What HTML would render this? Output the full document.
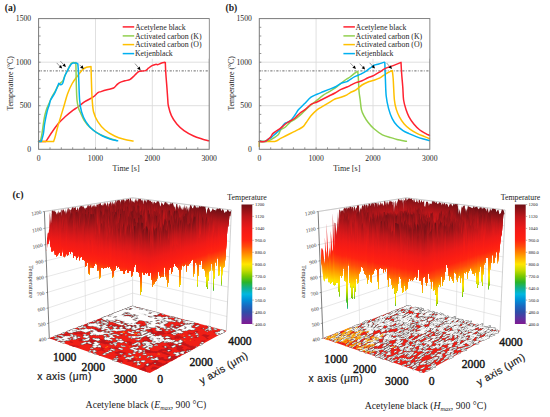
<!DOCTYPE html>
<html><head><meta charset="utf-8"><style>
html,body{margin:0;padding:0;background:#fff;}
svg{display:block;}
</style></head><body>
<svg xmlns="http://www.w3.org/2000/svg" width="550" height="417" viewBox="0 0 550 417" font-family='"Liberation Serif", serif'>
<rect width="550" height="417" fill="#fff"/>
<defs><linearGradient id="tpl" gradientUnits="userSpaceOnUse"><stop offset="0.000" stop-color="#801a92"/><stop offset="0.050" stop-color="#5a35a0"/><stop offset="0.100" stop-color="#2e4ea8"/><stop offset="0.150" stop-color="#1a68c0"/><stop offset="0.200" stop-color="#0090d8"/><stop offset="0.250" stop-color="#00b8e0"/><stop offset="0.300" stop-color="#10b090"/><stop offset="0.350" stop-color="#2ab428"/><stop offset="0.400" stop-color="#78c800"/><stop offset="0.450" stop-color="#c8dc00"/><stop offset="0.500" stop-color="#ffe600"/><stop offset="0.550" stop-color="#ffb300"/><stop offset="0.600" stop-color="#ff7f00"/><stop offset="0.650" stop-color="#ff4a0a"/><stop offset="0.700" stop-color="#ff2410"/><stop offset="0.750" stop-color="#fa1c14"/><stop offset="0.800" stop-color="#ee1a18"/><stop offset="0.850" stop-color="#d8181a"/><stop offset="0.900" stop-color="#bc161a"/><stop offset="0.950" stop-color="#961318"/><stop offset="1.000" stop-color="#6e1016"/></linearGradient><path id="wrc" d="M1215 3633l-9-4 7-3 9 3zM1160 3614l-36-13 7-3 36 12zM959 3544l-18-6 7-3 18 6zM904 3525l-18-6 7-3 19 6zM630 3431l-27-10 7-3 27 10zM1167 3610l-18-6 7-4 19 7zM939 3531l-9-3 7-3 9 3zM637 3428l-18-7 8-3 18 7zM583 3409l-19-7 8-3 18 7zM1165 3603l-9-3 8-3 9 3zM901 3512l-9-3 7-3 9 3zM645 3425l-18-7 7-3 18 7zM590 3406l-18-7 7-3 19 7zM1154 3594l-18-7 7-3 19 6zM944 3522l-18-7 8-3 18 6zM908 3509l-9-3 7-3 9 3zM616 3409l-37-13 8-3 36 13zM552 3387l-9-3 7-3 10 3zM1171 3593l-19-6 8-3 18 6zM1043 3550l-18-7 7-3 18 6zM952 3518l-18-6 7-3 18 6zM633 3409l-46-16 8-2 45 15zM569 3387l-19-6 8-3 18 6zM1178 3590l-9-3 7-4 9 3zM1050 3546l-18-6 7-3 19 6zM959 3515l-36-12 7-4 36 13zM649 3409l-18-6 7-3 19 6zM613 3397l-55-19 8-3 54 19zM1376 3652l-9-4 7-3 9 3zM1058 3543l-19-6 8-4 18 6zM948 3506l-9-4 7-3 10 3zM657 3406l-19-6 8-3 18 6zM620 3394l-45-16 7-3 46 16zM547 3369l-9-3 8-3 9 3zM1393 3651l-19-6 7-4 19 6zM1165 3573l-9-3 7-3 9 3zM910 3487l-9-3 7-4 9 3zM673 3406l-63-21 7-3 64 21zM555 3366l-9-3 7-3 10 3zM1400 3647l-28-9 7-4 28 10zM1172 3570l-9-3 7-4 9 4zM1063 3533l-9-3 7-4 9 4zM926 3487l-18-7 8-3 18 6zM690 3406l-73-24 8-3 72 24zM563 3363l-10-3 8-3 9 3zM1388 3637l-18-6 7-3 18 6zM1343 3622l-9-3 7-4 9 3zM1079 3533l-18-7 7-3 19 6zM825 3446l-19-6 8-3 18 6zM688 3400l-63-21 7-3 64 21zM1359 3621l-18-6 7-3 18 6zM1268 3591l-18-6 7-4 18 6zM1087 3529l-19-6 8-3 18 6zM832 3443l-18-6 7-3 19 6zM678 3391l-55-18 8-3 54 18zM1475 3655l-18-7 7-3 18 6zM1384 3624l-18-6 7-4 18 6zM1303 3596l-46-15 7-4 46 16zM948 3477l-27-9 8-4 27 10zM840 3440l-19-6 8-3 18 6zM703 3394l-9-3 8-3 9 3zM667 3382l-91-31 8-3 90 31zM1482 3651l-18-6 7-4 18 6zM1391 3620l-18-6 7-4 19 7zM1310 3593l-46-16 8-3 45 15zM1092 3519l-9-3 7-3 9 3zM956 3474l-27-10 7-3 27 9zM847 3437l-18-6 7-3 18 6zM711 3391l-9-3 7-3 9 3zM674 3379l-36-12 8-3 36 12zM629 3363l-27-9 7-3 28 10zM1480 3644l-9-3 7-4 9 3zM1308 3586l-36-12 7-4 36 13zM1253 3568l-18-6 7-4 19 6zM1108 3519l-27-9 7-3 28 9zM963 3470l-27-9 7-3 28 9zM854 3434l-18-6 8-4 18 7zM736 3394l-9-3 8-3 9 3zM691 3379l-45-15 7-3 46 15zM1433 3622l-27-9 7-4 27 9zM1306 3579l-9-3 7-3 9 3zM1252 3561l-10-3 8-3 9 3zM1116 3516l-19-6 8-4 18 6zM989 3473l-64-21 8-3 63 21zM862 3431l-18-7 7-3 18 6zM753 3394l-18-6 7-3 18 6zM699 3376l-37-12 8-3 36 12zM1440 3618l-27-9 7-3 27 9zM1322 3579l-18-6 7-4 18 6zM1213 3543l-18-6 7-4 19 6zM1005 3473l-27-9 7-4 27 10zM960 3458l-37-12 8-4 36 12zM905 3439l-36-12 8-3 36 12zM760 3391l-36-12 8-3 36 12zM697 3370l-18-6 7-3 19 6zM1447 3615l-18-6 7-4 18 6zM1329 3575l-18-6 7-3 18 6zM1221 3539l-9-3 7-3 9 3zM1003 3467l-18-7 8-3 18 6zM967 3454l-36-12 7-3 36 12zM913 3436l-36-12 7-3 36 12zM768 3388l-36-12 7-3 36 12zM705 3367l-10-3 8-3 9 3zM623 3340l-9-4 8-2 9 3zM1336 3572l-18-6 7-4 18 6zM1137 3505l-36-12 7-3 37 12zM1002 3460l-64-21 8-3 63 21zM893 3424l-9-3 7-3 9 3zM848 3409l-27-9 7-3 27 9zM757 3379l-18-6 8-3 18 6zM721 3367l-18-6 8-3 18 6zM631 3337l-9-3 7-3 9 3zM1551 3637l-9-3 7-3 9 3zM1145 3502l-37-12 8-3 36 12zM982 3448l-36-12 7-3 36 12zM855 3406l-27-9 8-3 27 9zM765 3376l-18-6 7-3 18 6zM729 3364l-18-6 7-3 18 6zM638 3334l-9-3 8-3 9 3zM1396 3580l-9-3 7-4 9 3zM1305 3550l-27-9 7-4 28 9zM980 3442l-45-15 7-4 45 15zM872 3406l-27-9 7-3 27 9zM790 3379l-18-6 8-3 18 6zM754 3367l-18-6 8-3 18 6zM727 3358l-27-9 8-3 27 9zM646 3331l-9-3 7-3 9 3zM1403 3576l-9-3 7-4 9 3zM1313 3546l-28-9 8-3 27 9zM987 3438l-45-15 8-3 45 15zM879 3403l-27-9 7-4 28 9zM798 3376l-18-6 7-3 18 6zM762 3364l-18-6 7-3 18 6zM726 3352l-18-6 7-3 18 6zM1401 3569l-9-3 7-3 9 3zM995 3435l-9-3 7-3 9 3zM968 3426l-18-6 7-3 18 6zM887 3399l-28-9 8-3 27 9zM885 3393l-18-6 7-3 18 6zM696 3331l-19-6 8-3 18 6zM1532 3601l-27-9 7-4 27 9zM1343 3539l-18-6 7-4 18 6zM1217 3497l-36-12 7-3 36 12zM892 3390l-18-6 8-3 18 6zM865 3381l-36-12 8-3 36 12zM712 3331l-45-15 8-3 45 15zM1539 3597l-27-9 7-3 27 8zM1476 3576l-9-3 7-3 9 3zM1350 3535l-18-6 7-3 18 5zM1224 3494l-36-12 7-4 36 12zM891 3384l-9-3 7-3 9 3zM873 3378l-45-15 7-3 45 15zM720 3328l-45-15 7-3 45 15zM1564 3599l-27-9 7-3 27 9zM1483 3573l-9-3 7-4 9 3zM979 3407l-54-17 8-3 54 17zM880 3375l-45-15 8-3 45 15zM727 3325l-36-12 8-3 36 12zM1580 3599l-36-12 7-4 36 12zM1490 3569l-9-3 8-4 9 3zM1122 3448l-27-8 7-4 27 9zM987 3404l-63-20 7-3 63 20zM879 3369l-36-12 7-3 36 12zM726 3319l-27-9 7-3 27 9zM1569 3589l-18-6 8-4 17 6zM1516 3571l-18-6 7-3 18 6zM1453 3551l-27-9 7-4 27 9zM1354 3518l-18-5 7-4 18 6zM1156 3454l-18-6 7-3 18 6zM994 3401l-36-12 7-3 36 12zM886 3366l-18-6 8-3 18 6zM850 3354l-18-6 8-3 18 6zM742 3319l-18-6 8-3 18 6zM715 3310l-18-6 8-3 18 6zM1576 3585l-17-6 7-3 18 5zM1523 3568l-18-6 7-4 18 6zM1460 3547l-18-6 7-3 18 6zM1397 3527l-18-6 7-4 18 6zM1361 3515l-27-9 7-3 27 8zM1163 3451l-18-6 7-4 18 6zM992 3395l-18-6 8-3 18 6zM885 3360l-9-3 7-3 9 3zM858 3351l-18-6 7-3 18 6zM759 3319l-27-9 7-3 27 9zM723 3307l-18-6 7-3 18 6zM1404 3523l-18-6 7-3 18 6zM1368 3511l-72-23 7-3 72 23zM1233 3468l-27-9 8-3 27 8zM1143 3438l-17-5 7-4 18 6zM739 3307l-27-9 8-3 27 9zM1438 3528l-9-3 7-3 9 3zM1411 3520l-18-6 7-4 18 6zM1375 3508l-72-23 8-4 71 23zM1250 3467l-18-6 7-3 18 6zM1160 3438l-27-9 7-3 27 9zM774 3313l-9-3 7-3 9 3zM756 3307l-36-12 8-2 35 11zM1445 3525l-9-3 7-4 9 3zM1418 3516l-36-12 7-3 36 11zM1329 3487l-18-6 7-3 18 5zM1158 3432l-9-3 7-3 9 3zM1059 3400l-17-6 7-3 18 6zM916 3353l-18-5 7-3 18 5zM790 3313l-62-20 7-3 63 20zM1416 3510l-27-9 8-4 27 9zM1336 3483l-18-5 7-4 18 6zM1165 3429l-9-3 8-4 9 3zM1085 3402l-45-14 7-3 45 14zM923 3350l-26-8 7-3 27 8zM798 3310l-63-20 8-3 62 20zM1441 3512l-9-3 8-4 9 3zM1361 3486l-36-12 7-3 36 11zM1119 3408l-81-26 8-3 80 26zM931 3347l-27-8 7-3 27 8zM859 3324l-71-23 7-3 72 23zM1690 3586l-9-3 7-4 9 3zM1368 3482l-27-8 7-4 27 9zM1180 3422l-9-3 7-3 9 3zM1117 3402l-71-23 7-3 72 22zM965 3353l-9-3 8-3 9 3zM947 3347l-44-14 7-3 45 14zM867 3321l-72-23 8-3 71 23zM1697 3582l-18-6 7-3 18 5zM1375 3479l-18-6 7-3 18 5zM1214 3427l-45-14 8-4 44 15zM1089 3387l-27-9 7-3 27 9zM1053 3376l-9-3 8-4 9 3zM982 3353l-81-26 8-3 80 25zM874 3318l-62-20 7-3 63 20zM1704 3578l-18-5 7-4 18 6zM1382 3475l-18-5 8-4 18 6zM1221 3424l-44-15 7-3 45 14zM1096 3384l-27-9 8-3 27 9zM1061 3372l-9-3 7-3 9 3zM989 3349l-89-28 7-3 89 28zM882 3315l-63-20 8-3 62 20zM1702 3572l-9-3 7-4 9 3zM1327 3452l-9-3 7-3 9 2zM1264 3432l-17-6 7-3 18 5zM1229 3420l-36-11 7-3 36 11zM1175 3403l-18-5 8-4 17 6zM1104 3381l-18-6 7-3 18 5zM1050 3363l-18-5 8-3 17 5zM1005 3349l-80-26 7-3 81 26zM889 3312l-53-17 7-3 54 17zM800 3284l-27-9 8-3 26 9zM1495 3500l-45-15 7-3 45 14zM1343 3451l-18-5 8-4 17 6zM1236 3417l-27-8 8-4 26 9zM1182 3400l-26-8 7-4 27 9zM1111 3377l-18-5 8-4 17 6zM1057 3360l-17-5 7-4 18 6zM1022 3349l-90-29 8-3 89 29zM897 3309l-54-17 8-3 53 17zM807 3281l-26-9 7-3 27 9zM1484 3490l-27-8 8-4 26 9zM1440 3476l-18-6 7-3 18 6zM1350 3448l-17-6 7-3 18 5zM1208 3402l-18-5 7-4 18 6zM1172 3391l-9-3 7-3 9 3zM1136 3380l-44-14 7-4 45 14zM1029 3346l-107-34 8-3 107 34zM904 3306l-53-17 7-3 54 17zM815 3278l-18-6 8-3 18 6zM1482 3484l-17-6 7-3 18 5zM1447 3473l-18-6 7-4 18 6zM1393 3456l-18-6 8-3 17 5zM1358 3444l-18-5 7-4 18 6zM1215 3399l-18-6 7-3 18 6zM1144 3376l-45-14 7-3 45 14zM1037 3343l-107-34 7-3 107 33zM912 3303l-27-9 7-3 27 9zM823 3275l-18-6 7-3 18 6zM1481 3478l-9-3 7-4 9 3zM1454 3469l-18-6 7-3 18 6zM1400 3452l-17-5 7-4 18 6zM1365 3441l-18-6 7-3 18 5zM1124 3365l-44-14 7-4 45 15zM1044 3339l-53-17 7-3 53 17zM964 3314l-63-20 8-3 62 20zM848 3277l-36-11 8-3 35 11zM1488 3474l-9-3 7-3 9 2zM1461 3466l-18-6 7-4 18 6zM1399 3446l-9-3 7-3 9 2zM1372 3437l-18-5 7-4 18 6zM1123 3359l-36-12 7-3 36 12zM1060 3339l-53-17 7-3 54 17zM945 3302l-36-11 7-3 36 11zM855 3274l-17-5 7-3 18 5zM829 3266l-18-6 7-3 18 6zM1771 3557l-18-5 7-4 18 6zM1513 3476l-63-20 8-3 62 20zM1397 3440l-36-12 8-3 35 11zM1121 3353l-9-3 8-3 9 3zM1086 3342l-45-15 7-3 45 14zM1032 3325l-18-6 8-3 18 6zM827 3260l-9-3 8-3 9 3zM1778 3554l-18-6 7-4 18 6zM1520 3473l-62-20 7-4 62 20zM1440 3447l-9-2 7-4 9 3zM1395 3433l-26-8 7-3 27 8zM1129 3350l-9-3 7-3 9 2zM1093 3338l-36-11 8-3 35 11zM1031 3319l-9-3 7-3 9 3zM1785 3550l-53-17 7-4 53 17zM1518 3466l-27-8 8-4 26 9zM1483 3455l-27-8 7-4 27 8zM1429 3438l-9-2 8-4 8 3zM1180 3360l-17-5 7-4 18 6zM1145 3349l-18-5 7-4 18 6zM1100 3335l-9-3 8-3 9 3zM1038 3316l-9-3 8-3 9 3zM1792 3546l-53-17 7-3 53 16zM1685 3513l-9-3 7-4 9 3zM1525 3463l-17-6 7-3 17 5zM1490 3451l-36-11 7-3 36 11zM1436 3435l-17-6 7-3 18 5zM1188 3357l-45-14 8-3 44 14zM1108 3332l-9-3 7-3 9 3zM1781 3537l-18-6 7-4 18 6zM1692 3509l-18-6 8-3 17 5zM1524 3456l-98-30 7-4 98 31zM1115 3329l-26-9 7-3 27 9zM1071 3315l-18-6 7-3 18 6zM1026 3301l-17-5 7-4 18 6zM902 3262l-27-8 8-3 27 8zM1788 3533l-18-6 7-3 18 5zM1699 3505l-9-3 7-3 9 3zM1548 3458l-8-2 7-4 9 3zM1513 3447l-80-25 7-3 80 25zM1371 3403l-18-6 7-3 18 6zM1318 3386l-9-2 7-4 9 3zM1131 3328l-35-11 7-3 36 11zM1078 3312l-18-6 8-3 18 6zM1043 3301l-36-11 8-3 35 11zM989 3284l-8-3 7-3 9 3zM918 3262l-35-11 8-3 35 11zM1830 3540l-35-11 7-4 35 11zM1556 3455l-9-3 7-4 9 3zM1494 3435l-54-16 8-4 53 17zM1387 3402l-18-5 8-4 17 6zM1298 3375l-17-6 7-3 18 5zM1094 3311l-26-8 7-3 27 8zM1032 3292l-17-5 7-3 18 5zM997 3281l-36-11 8-3 35 11zM953 3267l-80-24 7-3 80 24zM1837 3536l-35-11 7-3 35 10zM1572 3454l-18-6 7-3 18 5zM1501 3432l-45-14 8-3 44 13zM1394 3399l-17-6 7-3 18 6zM1341 3382l-53-16 7-3 53 16zM1208 3341l-9-2 8-4 9 3zM1102 3308l-27-8 8-3 26 8zM1040 3289l-18-5 8-3 17 5zM1004 3278l-124-38 8-3 124 38zM1836 3530l-27-8 7-4 26 8zM1658 3475l-17-6 7-3 17 5zM1543 3439l-35-11 7-3 35 11zM1402 3396l-9-3 7-4 9 3zM1348 3379l-35-11 7-3 36 11zM1260 3352l-9-3 7-3 9 2zM1224 3341l-17-6 7-3 18 6zM1109 3305l-97-30 7-3 98 30zM994 3270l-97-31 7-3 98 31zM888 3237l-9-3 8-3 8 3zM1834 3523l-18-5 7-4 18 5zM1657 3469l-9-3 7-4 9 3zM1550 3436l-35-11 7-4 36 11zM1356 3376l-36-11 8-4 35 11zM1126 3305l-18-6 7-3 18 6zM1090 3294l-71-22 8-3 71 22zM1002 3267l-89-28 8-3 88 27zM1841 3519l-9-2 7-4 9 3zM1549 3430l-9-3 7-4 9 3zM1407 3386l-9-3 8-3 8 3zM1381 3378l-45-14 8-3 44 13zM1168 3312l-44-13 8-3 44 13zM1080 3285l-18-5 8-3 17 5zM1053 3277l-44-14 8-3 44 14zM983 3255l-9-2 7-3 9 2zM965 3250l-35-11 7-3 36 11zM1565 3429l-18-6 7-3 18 5zM1529 3418l-8-3 7-3 9 2zM1388 3374l-27-8 8-3 26 8zM1176 3309l-53-16 7-3 53 16zM1052 3271l-35-11 7-3 36 11zM990 3252l-53-16 8-3 53 16zM1872 3517l-9-3 7-3 9 2zM1731 3474l-18-6 7-3 18 5zM1590 3431l-36-11 7-4 36 11zM1537 3414l-18-5 7-4 18 6zM1413 3376l-35-10 7-4 35 11zM1192 3309l-62-19 8-3 61 19zM1068 3271l-44-14 8-3 44 14zM998 3249l-36-11 8-3 35 11zM954 3236l-9-3 7-3 9 3zM1879 3513l-9-2 7-4 9 3zM1738 3470l-18-5 7-4 18 6zM1597 3427l-71-22 7-3 71 21zM1508 3400l-8-3 7-3 9 3zM1420 3373l-35-11 7-3 35 11zM1314 3341l-9-3 8-3 9 2zM1208 3308l-70-21 7-3 71 21zM1076 3268l-44-14 7-3 44 14zM1005 3246l-26-8 7-3 27 8zM961 3233l-9-3 8-3 9 3zM1895 3512l-9-2 7-4 9 2zM1745 3467l-18-6 7-4 18 6zM1604 3423l-71-21 7-4 71 22zM1516 3397l-18-6 7-3 18 5zM1427 3370l-26-8 7-4 27 8zM1330 3340l-53-16 8-3 53 16zM1216 3305l-36-11 8-3 35 11zM1154 3286l-27-8 8-3 26 8zM1057 3257l-18-6 8-3 17 6zM1022 3246l-18-5 7-3 18 5zM933 3219l-8-3 7-3 9 3zM1902 3508l-9-2 7-4 9 3zM1752 3463l-18-6 7-3 18 5zM1611 3420l-18-5 7-4 18 5zM1576 3409l-88-27 7-3 88 27zM1435 3366l-18-5 7-3 18 5zM1338 3337l-62-19 7-3 62 18zM1232 3305l-35-11 7-3 35 10zM1153 3280l-27-8 8-3 26 8zM1100 3264l-9-2 7-3 9 2zM1056 3251l-9-3 7-3 9 3zM1029 3243l-18-5 8-3 18 5zM976 3227l-9-3 8-3 9 3zM941 3216l-9-3 8-2 8 2zM1750 3456l-9-2 8-4 8 3zM1645 3424l-9-2 7-4 9 3zM1618 3416l-97-29 7-4 97 30zM1512 3384l-17-5 7-4 18 6zM1442 3363l-27-8 8-3 26 8zM1380 3344l-9-2 8-4 8 3zM1327 3328l-8-3 7-3 9 3zM1248 3304l-53-16 8-3 52 16zM1160 3277l-35-10 7-3 35 10zM1107 3261l-9-2 8-3 9 2zM1063 3248l-9-3 8-3 9 3zM984 3224l-18-5 8-3 17 5zM948 3213l-8-2 7-3 9 2zM1660 3423l-17-5 7-3 18 5zM1625 3413l-97-30 8-3 96 29zM1520 3381l-18-6 7-3 18 5zM1484 3370l-17-5 7-4 18 6zM1449 3360l-35-11 7-4 35 11zM1396 3344l-17-6 7-3 18 5zM1255 3301l-61-19 7-3 62 19zM1167 3274l-17-5 7-3 18 5zM1115 3258l-9-2 7-4 9 3zM1071 3245l-9-3 7-3 9 3zM991 3221l-17-5 7-3 18 5zM956 3210l-9-2 8-3 9 2zM1676 3423l-8-3 7-4 8 3zM1650 3415l-70-22 7-3 70 21zM1562 3388l-53-16 7-3 53 16zM1492 3367l-18-6 7-3 18 5zM1456 3356l-17-5 7-4 18 6zM1421 3345l-17-5 7-3 17 5zM1333 3319l-17-5 7-4 18 6zM1210 3282l-18-6 8-3 17 6zM1078 3242l-70-21 7-3 70 21zM1798 3453l-18-5 7-4 18 6zM1692 3422l-17-6 7-3 17 5zM1666 3414l-70-22 7-3 70 21zM1569 3385l-97-30 8-3 96 29zM1464 3353l-18-6 7-3 18 5zM1428 3342l-17-5 7-4 18 6zM1341 3316l-9-3 7-3 9 2zM1217 3279l-17-6 7-3 18 5zM1077 3236l-62-18 8-3 61 18zM1805 3450l-18-6 7-3 18 5zM1770 3439l-35-10 7-4 35 10zM1717 3423l-70-21 7-3 70 21zM1638 3399l-44-13 7-3 44 13zM1585 3384l-132-40 8-3 131 39zM1436 3339l-35-11 7-3 35 10zM1365 3318l-8-3 7-3 9 2zM1269 3289l-9-3 7-3 9 2zM1225 3275l-18-5 8-3 17 5zM1067 3228l-36-11 8-3 35 11zM1014 3212l-9-3 8-3 8 3zM1812 3446l-18-5 7-4 18 5zM1777 3435l-35-10 7-4 35 11zM1733 3422l-79-23 7-4 79 24zM1636 3393l-175-52 7-4 175 53zM1443 3335l-35-10 7-3 35 10zM1373 3314l-18-5 8-3 17 5zM1285 3288l-18-5 8-3 17 5zM1021 3209l-8-3 7-3 9 3zM1775 3429l-26-8 7-3 26 7zM1731 3416l-70-21 7-4 70 21zM1626 3385l-70-21 7-4 70 21zM1521 3353l-18-5 7-4 18 6zM1485 3343l-17-6 7-3 18 5zM1450 3332l-52-16 7-3 53 16zM1389 3314l-26-8 7-3 26 7zM1345 3301l-35-11 7-3 35 10zM1292 3285l-44-13 8-4 44 14zM1082 3222l-18-5 8-3 17 5zM1791 3428l-35-10 7-4 35 10zM1738 3412l-61-18 7-3 61 18zM1633 3381l-61-18 7-4 61 18zM1528 3350l-18-6 7-3 18 5zM1493 3339l-18-5 7-3 18 5zM1458 3329l-53-16 7-3 53 15zM1396 3310l-26-7 7-4 26 8zM1352 3297l-35-10 8-3 35 10zM1300 3282l-44-14 7-3 44 13zM1080 3216l-8-2 7-3 9 2zM1964 3474l-8-3 7-3 8 2zM1807 3427l-27-8 7-3 27 7zM1745 3409l-17-5 7-4 17 5zM1631 3375l-8-3 7-3 9 2zM1614 3370l-26-8 7-4 26 8zM1544 3349l-9-3 7-3 9 2zM1509 3338l-27-7 8-4 26 8zM1465 3325l-26-8 7-3 26 8zM1360 3294l-44-13 7-3 44 13zM1307 3278l-35-10 7-3 35 10zM1254 3263l-17-6 7-3 18 6zM1219 3252l-61-18 8-3 61 18zM1105 3218l-8-2 7-3 9 2zM1062 3205l-35-10 7-3 35 10zM1814 3423l-27-7 8-4 26 8zM1674 3382l-27-8 7-4 27 8zM1612 3364l-17-6 7-3 17 5zM1507 3332l-17-5 7-3 17 5zM1472 3322l-17-5 7-4 17 6zM1367 3291l-53-16 8-3 52 15zM1306 3273l-27-8 8-3 26 7zM1262 3260l-18-6 8-3 17 5zM1227 3249l-123-36 8-3 122 36zM1078 3205l-61-18 7-3 61 18zM1821 3420l-35-11 7-3 35 10zM1689 3381l-35-11 8-3 35 10zM1444 3308l-43-13 7-3 44 13zM1374 3287l-17-5 7-3 18 5zM1339 3277l-17-5 7-3 18 5zM1304 3267l-17-5 7-4 18 6zM1234 3246l-17-5 7-3 18 5zM1199 3236l-17-6 7-3 18 6zM1103 3207l-26-8 7-3 26 8zM1059 3194l-44-13 8-3 44 13zM1819 3413l-26-7 7-4 26 8zM1697 3377l-35-10 7-4 35 11zM1452 3305l-44-13 7-3 44 13zM1382 3284l-18-5 8-3 17 5zM1347 3274l-18-5 8-4 17 6zM1242 3243l-18-5 8-3 17 5zM1207 3233l-18-6 8-3 17 5zM1172 3222l-18-5 8-3 17 5zM1119 3207l-96-29 8-3 96 29zM1809 3405l-9-3 7-4 9 3zM1450 3299l-17-5 7-3 18 5zM1389 3281l-35-10 7-4 35 11zM1284 3250l-17-5 7-3 18 5zM1188 3222l-26-8 7-3 26 8zM1144 3209l-113-34 7-3 114 34zM1458 3296l-18-5 7-4 18 5zM1396 3278l-35-11 8-3 35 10zM1292 3247l-18-5 7-3 18 5zM1195 3219l-26-8 8-3 26 8zM1152 3206l-114-34 8-3 113 34zM2006 3451l-9-3 7-3 9 2zM1465 3292l-26-7 7-4 26 8zM1421 3280l-17-6 7-3 17 5zM1386 3269l-26-7 7-4 27 8zM1334 3254l-53-15 8-4 52 16zM1273 3236l-44-13 8-3 43 13zM1142 3198l-96-29 7-2 96 28zM2013 3447l-17-5 7-4 17 5zM1481 3292l-35-11 7-3 35 10zM1437 3279l-26-8 7-3 27 8zM1394 3266l-35-10 7-3 35 10zM1341 3251l-104-31 7-3 105 31zM1149 3195l-96-28 8-3 96 28zM2020 3443l-9-2 7-4 9 3zM1497 3291l-26-8 7-3 26 7zM1453 3278l-35-10 8-3 35 10zM1384 3258l-70-21 7-3 70 20zM1296 3232l-235-68 7-3 236 68zM1583 3310l-27-7 8-4 26 8zM1504 3287l-26-7 7-3 26 7zM1461 3275l-27-8 8-3 26 7zM1391 3254l-70-20 8-3 69 20zM1312 3232l-226-66 7-3 227 66zM2025 3433l-17-5 7-4 17 5zM1842 3380l-8-2 7-4 8 2zM1738 3350l-9-3 7-3 9 2zM1599 3309l-44-12 7-4 44 13zM1485 3277l-17-6 7-3 18 5zM1450 3266l-8-2 7-3 9 2zM1398 3251l-17-5 7-3 18 5zM1355 3239l-9-3 7-3 9 2zM1337 3234l-200-59 7-3 201 58zM1128 3173l-26-8 8-3 26 8zM2032 3429l-17-5 7-3 17 5zM1849 3376l-8-2 7-4 9 3zM1754 3349l-44-13 7-3 44 12zM1614 3308l-52-15 8-3 52 15zM1493 3273l-18-5 8-3 17 5zM1458 3263l-9-2 7-4 9 3zM1345 3230l-192-55 8-3 191 55zM1136 3170l-35-10 8-3 34 10zM1092 3157l-8-2 7-3 9 2zM1726 3335l-9-2 8-4 8 3zM1613 3303l-9-3 8-3 8 2zM1587 3295l-26-8 7-3 26 8zM1517 3275l-52-15 7-3 53 15zM1352 3227l-191-55 7-3 191 55zM1143 3167l-52-15 8-3 52 15zM1742 3334l-17-5 7-3 17 5zM1594 3292l-35-10 8-4 34 10zM1542 3277l-78-23 7-3 78 22zM1359 3224l-191-55 8-3 191 55zM1160 3166l-61-17 7-3 61 18zM1914 3378l-9-2 8-4 8 2zM1766 3336l-34-10 7-4 35 10zM1671 3308l-17-5 7-3 17 5zM1593 3286l-9-3 7-3 9 2zM1567 3278l-105-30 8-3 104 30zM1367 3221l-252-72 8-3 251 72zM1921 3374l-8-2 7-4 8 3zM1774 3332l-35-10 7-3 35 10zM1678 3305l-17-5 7-4 17 5zM1574 3275l-104-30 7-3 104 30zM1374 3218l-260-75 7-3 261 75zM1798 3333l-43-12 7-3 43 12zM1651 3291l-18-5 8-3 17 5zM1607 3279l-8-3 7-3 9 3zM1547 3262l-61-18 7-3 61 17zM1477 3242l-9-3 8-3 8 3zM1373 3212l-17-5 7-3 17 5zM1321 3197l-200-57 8-3 199 57zM1901 3357l-18-5 7-4 18 5zM1814 3332l-52-14 7-4 52 15zM1719 3305l-18-5 7-3 18 5zM1658 3288l-17-5 7-3 17 4zM1615 3276l-9-3 7-3 9 2zM1554 3258l-52-15 7-3 52 15zM1484 3239l-34-10 7-4 35 10zM1380 3209l-17-5 8-3 17 5zM1328 3194l-199-57 8-3 199 57zM1821 3329l-69-20 7-3 69 19zM1691 3292l-26-8 7-3 26 7zM1648 3280l-148-42 8-4 147 42zM1388 3206l-147-42 7-3 147 42zM1232 3161l-95-27 7-3 95 27zM1975 3367l-8-3 7-3 8 2zM1828 3325l-69-19 7-4 69 20zM1698 3288l-26-7 8-3 26 7zM1655 3276l-147-42 7-3 147 42zM1499 3232l-17-5 7-3 17 5zM1395 3203l-78-23 8-3 78 22zM1309 3178l-52-15 7-3 52 15zM1239 3158l-95-27 8-3 95 27zM1982 3363l-8-2 7-4 8 3zM1809 3314l-26-7 8-4 25 8zM1757 3300l-43-13 7-3 44 12zM1662 3273l-181-52 7-3 181 51zM1455 3214l-87-24 7-4 87 25zM1333 3180l-17-5 8-3 17 5zM1307 3172l-34-9 7-3 35 9zM1212 3146l-60-18 7-2 61 17zM1773 3299l-52-15 8-4 51 15zM1644 3262l-78-22 7-3 78 22zM1548 3235l-173-49 8-3 173 49zM1350 3179l-26-7 7-3 26 7zM1220 3143l-61-17 8-3 60 17zM1971 3349l-18-5 7-4 18 5zM1832 3310l-17-5 7-4 17 5zM1780 3295l-17-5 7-3 18 5zM1737 3283l-8-3 7-3 8 2zM1720 3278l-26-7 7-4 26 8zM1634 3254l-35-10 7-3 35 9zM1556 3232l-52-15 7-3 52 15zM1495 3215l-121-34 8-3 121 34zM1366 3178l-35-9 8-3 34 9zM1314 3164l-9-3 8-3 8 3zM1262 3149l-95-26 7-3 95 26zM1978 3345l-18-5 7-4 18 5zM1848 3309l-26-8 7-3 26 7zM1788 3292l-18-5 8-4 17 5zM1719 3272l-9-2 7-4 9 3zM1632 3248l-26-7 8-4 25 8zM1563 3229l-43-12 7-4 43 12zM1503 3212l-164-46 7-3 164 45zM1269 3146l-34-9 7-3 35 9zM1226 3134l-52-14 8-3 52 14zM1864 3307l-86-24 7-3 86 24zM1639 3245l-51-15 7-3 52 14zM1570 3225l-224-62 7-3 225 62zM1329 3158l-9-3 8-3 8 3zM1294 3148l-26-7 8-3 26 7zM1234 3131l-52-14 8-3 51 14zM1957 3328l-8-3 7-3 8 2zM1871 3304l-86-24 7-4 86 24zM1647 3241l-52-14 7-3 52 14zM1578 3222l-207-58 7-3 207 58zM1336 3155l-17-5 7-3 18 5zM1302 3145l-26-7 7-3 26 7zM1241 3128l-51-14 7-3 52 14zM1878 3300l-86-24 7-3 86 24zM1766 3269l-9-2 8-4 8 3zM1723 3257l-17-5 7-3 17 5zM1654 3238l-34-10 7-3 34 10zM1602 3224l-34-10 7-3 35 9zM1551 3209l-173-48 8-3 172 48zM1361 3156l-17-4 7-3 17 4zM1326 3147l-34-10 7-3 35 10zM1249 3125l-52-14 8-3 51 14zM1885 3297l-34-10 7-3 34 9zM1834 3282l-35-9 7-4 35 10zM1782 3268l-17-5 7-3 17 4zM1730 3254l-17-5 7-4 17 5zM1661 3235l-34-10 7-3 35 9zM1610 3220l-35-9 7-4 35 10zM1558 3206l-172-48 7-3 172 48zM1377 3156l-26-7 8-4 25 8zM1334 3144l-35-10 8-3 34 10zM1265 3125l-60-17 7-3 61 17zM1918 3300l-60-16 7-4 60 17zM1841 3279l-35-10 7-3 35 9zM1669 3231l-52-14 7-3 52 14zM1600 3212l-9-2 7-4 9 3zM1565 3203l-353-98 8-3 353 97zM1934 3299l-69-19 7-4 69 19zM1848 3275l-35-9 8-4 34 10zM1676 3228l-60-17 7-3 60 16zM1607 3209l-17-5 7-3 17 5zM1573 3199l-353-97 7-3 353 97zM1941 3295l-86-23 7-4 86 24zM1838 3267l-17-5 7-3 17 4zM1657 3217l-8-2 7-3 9 2zM1631 3210l-68-19 7-3 69 19zM1537 3184l-34-9 7-3 34 9zM1477 3168l-250-69 8-3 249 69zM1948 3292l-120-33 7-4 120 33zM1665 3214l-9-2 7-4 9 3zM1639 3207l-69-19 7-3 69 19zM1544 3181l-25-7 7-3 26 7zM1476 3162l-241-66 8-3 240 66zM2178 3349l-17-5 7-3 17 4zM1912 3276l-77-21 7-3 77 21zM1818 3251l-17-5 7-4 17 5zM1680 3213l-163-45 8-3 163 45zM1509 3166l-52-14 8-3 51 14zM1440 3147l-172-47 8-3 172 47zM1251 3096l-8-3 7-3 9 3zM2185 3345l-17-4 7-4 17 5zM2074 3315l-9-2 7-4 9 2zM1911 3271l-69-19 7-4 69 19zM1825 3247l-17-5 7-3 17 5zM1705 3214l-69-18 8-4 68 19zM1619 3191l-60-16 7-4 60 17zM1550 3172l-274-75 7-3 275 75zM1259 3093l-9-3 8-3 8 3zM2201 3344l-9-2 7-4 9 2zM2175 3337l-26-7 7-4 26 7zM2055 3304l-8-2 7-4 8 3zM1909 3265l-60-17 8-3 60 16zM1746 3220l-102-28 7-3 103 28zM1626 3188l-60-17 8-3 60 16zM1524 3160l-223-61 7-3 223 61zM1283 3094l-25-7 7-2 26 6zM2208 3340l-9-2 7-4 9 2zM2182 3333l-26-7 7-4 26 7zM2062 3301l-8-3 7-3 8 2zM1908 3259l-43-12 7-3 43 11zM1754 3217l-103-28 7-3 103 28zM1634 3184l-60-16 7-3 60 16zM1531 3157l-223-61 8-3 222 60zM1291 3091l-26-6 8-3 26 7zM2206 3334l-34-9 7-4 34 9zM2095 3304l-9-2 7-4 9 2zM2069 3297l-8-2 7-4 8 2zM2035 3288l-9-3 8-3 8 2zM1966 3269l-17-5 7-3 18 5zM1924 3258l-43-12 7-4 43 12zM1795 3223l-17-5 7-3 17 4zM1710 3200l-18-5 8-3 17 4zM1675 3190l-17-4 8-4 17 5zM1641 3181l-17-4 7-4 17 5zM1607 3172l-17-5 7-3 17 5zM1538 3153l-222-60 7-3 223 60zM1290 3086l-17-4 7-3 18 4zM2222 3332l-43-11 7-4 43 12zM2111 3302l-43-11 7-4 43 12zM1974 3266l-18-5 8-4 17 5zM1922 3252l-25-7 7-4 25 7zM1862 3236l-34-10 7-3 35 9zM1802 3219l-34-9 7-3 35 9zM1674 3185l-43-12 8-3 42 11zM1546 3150l-43-11 7-4 43 12zM1477 3132l-154-42 8-3 154 42zM1298 3083l-18-4 8-3 17 4zM2229 3329l-34-10 6-3 35 9zM2109 3296l-34-9 7-3 34 9zM1981 3262l-17-5 7-3 17 4zM1929 3248l-17-4 7-4 18 5zM1887 3237l-9-3 7-3 9 2zM1870 3232l-26-7 7-3 26 7zM1801 3214l-26-7 8-4 25 7zM1758 3202l-17-4 8-4 17 5zM1673 3179l-26-7 8-3 25 7zM1570 3152l-60-17 8-3 60 16zM1485 3129l-197-53 8-3 196 52zM2236 3325l-43-12 7-3 43 11zM2107 3290l-25-6 7-4 26 7zM1988 3258l-17-4 7-4 17 5zM1937 3245l-9-3 7-3 9 2zM1894 3233l-43-11 7-4 43 12zM1808 3210l-25-7 7-3 26 7zM1766 3199l-17-5 7-3 17 4zM1680 3176l-25-7 7-3 26 7zM1578 3148l-69-18 8-3 68 18zM1492 3125l-196-52 7-3 197 52zM2243 3321l-43-11 7-4 43 11zM2157 3298l-25-7 7-3 25 6zM2097 3282l-17-4 7-4 17 4zM1927 3236l-103-27 7-3 103 27zM1807 3205l-43-12 8-3 42 11zM1696 3175l-8-2 7-4 8 3zM1568 3141l-51-14 7-3 51 13zM1508 3125l-111-30 8-3 111 30zM1389 3093l-86-23 8-3 85 23zM2233 3313l-26-7 7-4 25 7zM2164 3294l-25-6 7-4 25 7zM2104 3278l-17-4 7-4 18 5zM1934 3233l-103-27 8-4 102 27zM1806 3199l-26-7 7-3 26 6zM1763 3187l-17-4 7-3 17 4zM1712 3174l-17-5 7-3 17 5zM1575 3137l-102-27 7-3 103 27zM1456 3106l-34-9 7-4 34 10zM1388 3087l-77-20 7-3 77 20zM2231 3306l-17-4 7-4 17 5zM2103 3272l-26-6 7-4 26 7zM1941 3229l-68-18 7-3 68 18zM1770 3184l-17-4 8-4 17 5zM1736 3175l-17-4 8-4 17 5zM1634 3148l-17-5 7-3 17 5zM1591 3137l-162-44 8-3 162 43zM1421 3091l-43-11 8-3 42 11zM1352 3073l-34-9 8-3 34 9z"/><linearGradient id="s0_85" href="#tpl" x1="1670" y1="3197" x2="1854" y2="2046"/><linearGradient id="s0_84" href="#tpl" x1="1662" y1="3201" x2="1846" y2="2047"/><linearGradient id="s0_83" href="#tpl" x1="1653" y1="3205" x2="1838" y2="2049"/><linearGradient id="s0_82" href="#tpl" x1="1644" y1="3208" x2="1830" y2="2051"/><linearGradient id="s0_81" href="#tpl" x1="1635" y1="3212" x2="1822" y2="2052"/><linearGradient id="s0_80" href="#tpl" x1="1626" y1="3216" x2="1814" y2="2054"/><linearGradient id="s0_79" href="#tpl" x1="1618" y1="3219" x2="1806" y2="2056"/><linearGradient id="s0_78" href="#tpl" x1="1609" y1="3223" x2="1798" y2="2057"/><linearGradient id="s0_77" href="#tpl" x1="1600" y1="3227" x2="1790" y2="2059"/><linearGradient id="s0_76" href="#tpl" x1="1591" y1="3230" x2="1782" y2="2061"/><linearGradient id="s0_75" href="#tpl" x1="1582" y1="3234" x2="1774" y2="2063"/><linearGradient id="s0_74" href="#tpl" x1="1573" y1="3238" x2="1766" y2="2064"/><linearGradient id="s0_73" href="#tpl" x1="1564" y1="3242" x2="1757" y2="2066"/><linearGradient id="s0_72" href="#tpl" x1="1555" y1="3245" x2="1749" y2="2068"/><linearGradient id="s0_71" href="#tpl" x1="1545" y1="3249" x2="1741" y2="2070"/><linearGradient id="s0_70" href="#tpl" x1="1536" y1="3253" x2="1733" y2="2071"/><linearGradient id="s0_69" href="#tpl" x1="1527" y1="3257" x2="1724" y2="2073"/><linearGradient id="s0_68" href="#tpl" x1="1518" y1="3260" x2="1716" y2="2075"/><linearGradient id="s0_67" href="#tpl" x1="1508" y1="3264" x2="1707" y2="2077"/><linearGradient id="s0_66" href="#tpl" x1="1499" y1="3268" x2="1699" y2="2078"/><linearGradient id="s0_65" href="#tpl" x1="1490" y1="3272" x2="1690" y2="2080"/><linearGradient id="s0_64" href="#tpl" x1="1480" y1="3276" x2="1682" y2="2082"/><linearGradient id="s0_63" href="#tpl" x1="1471" y1="3280" x2="1673" y2="2084"/><linearGradient id="s0_62" href="#tpl" x1="1461" y1="3284" x2="1665" y2="2086"/><linearGradient id="s0_61" href="#tpl" x1="1452" y1="3288" x2="1656" y2="2088"/><linearGradient id="s0_60" href="#tpl" x1="1442" y1="3292" x2="1648" y2="2089"/><linearGradient id="s0_59" href="#tpl" x1="1432" y1="3295" x2="1639" y2="2091"/><linearGradient id="s0_58" href="#tpl" x1="1423" y1="3299" x2="1630" y2="2093"/><linearGradient id="s0_57" href="#tpl" x1="1413" y1="3303" x2="1621" y2="2095"/><linearGradient id="s0_56" href="#tpl" x1="1403" y1="3307" x2="1613" y2="2097"/><linearGradient id="s0_55" href="#tpl" x1="1393" y1="3311" x2="1604" y2="2099"/><linearGradient id="s0_54" href="#tpl" x1="1384" y1="3315" x2="1595" y2="2101"/><linearGradient id="s0_53" href="#tpl" x1="1374" y1="3319" x2="1586" y2="2103"/><linearGradient id="s0_52" href="#tpl" x1="1364" y1="3324" x2="1577" y2="2104"/><linearGradient id="s0_51" href="#tpl" x1="1354" y1="3328" x2="1568" y2="2106"/><linearGradient id="s0_50" href="#tpl" x1="1344" y1="3332" x2="1559" y2="2108"/><linearGradient id="s0_49" href="#tpl" x1="1334" y1="3336" x2="1550" y2="2110"/><linearGradient id="s0_48" href="#tpl" x1="1324" y1="3340" x2="1541" y2="2112"/><linearGradient id="s0_47" href="#tpl" x1="1313" y1="3344" x2="1532" y2="2114"/><linearGradient id="s0_46" href="#tpl" x1="1303" y1="3348" x2="1523" y2="2116"/><linearGradient id="s0_45" href="#tpl" x1="1293" y1="3352" x2="1514" y2="2118"/><linearGradient id="s0_44" href="#tpl" x1="1283" y1="3356" x2="1504" y2="2120"/><linearGradient id="s0_43" href="#tpl" x1="1272" y1="3361" x2="1495" y2="2122"/><linearGradient id="s0_42" href="#tpl" x1="1262" y1="3365" x2="1486" y2="2124"/><linearGradient id="s0_41" href="#tpl" x1="1252" y1="3369" x2="1477" y2="2126"/><linearGradient id="s0_40" href="#tpl" x1="1241" y1="3373" x2="1467" y2="2128"/><linearGradient id="s0_39" href="#tpl" x1="1231" y1="3378" x2="1458" y2="2130"/><linearGradient id="s0_38" href="#tpl" x1="1220" y1="3382" x2="1448" y2="2132"/><linearGradient id="s0_37" href="#tpl" x1="1210" y1="3386" x2="1439" y2="2134"/><linearGradient id="s0_36" href="#tpl" x1="1199" y1="3390" x2="1429" y2="2136"/><linearGradient id="s0_35" href="#tpl" x1="1188" y1="3395" x2="1420" y2="2139"/><linearGradient id="s0_34" href="#tpl" x1="1177" y1="3399" x2="1410" y2="2141"/><linearGradient id="s0_33" href="#tpl" x1="1167" y1="3403" x2="1401" y2="2143"/><linearGradient id="s0_32" href="#tpl" x1="1156" y1="3408" x2="1391" y2="2145"/><linearGradient id="s0_31" href="#tpl" x1="1145" y1="3412" x2="1381" y2="2147"/><linearGradient id="s0_30" href="#tpl" x1="1134" y1="3416" x2="1371" y2="2149"/><linearGradient id="s0_29" href="#tpl" x1="1123" y1="3421" x2="1362" y2="2151"/><linearGradient id="s0_28" href="#tpl" x1="1112" y1="3425" x2="1352" y2="2153"/><linearGradient id="s0_27" href="#tpl" x1="1101" y1="3430" x2="1342" y2="2156"/><linearGradient id="s0_26" href="#tpl" x1="1090" y1="3434" x2="1332" y2="2158"/><linearGradient id="s0_25" href="#tpl" x1="1078" y1="3439" x2="1322" y2="2160"/><linearGradient id="s0_24" href="#tpl" x1="1067" y1="3443" x2="1312" y2="2162"/><linearGradient id="s0_23" href="#tpl" x1="1056" y1="3448" x2="1302" y2="2164"/><linearGradient id="s0_22" href="#tpl" x1="1044" y1="3452" x2="1292" y2="2167"/><linearGradient id="s0_21" href="#tpl" x1="1033" y1="3457" x2="1282" y2="2169"/><linearGradient id="s0_20" href="#tpl" x1="1022" y1="3461" x2="1271" y2="2171"/><linearGradient id="s0_19" href="#tpl" x1="1010" y1="3466" x2="1261" y2="2173"/><linearGradient id="s0_18" href="#tpl" x1="999" y1="3471" x2="1251" y2="2176"/><linearGradient id="s0_17" href="#tpl" x1="987" y1="3475" x2="1241" y2="2178"/><linearGradient id="s0_16" href="#tpl" x1="975" y1="3480" x2="1230" y2="2180"/><linearGradient id="s0_15" href="#tpl" x1="963" y1="3484" x2="1220" y2="2183"/><linearGradient id="s0_14" href="#tpl" x1="952" y1="3489" x2="1209" y2="2185"/><linearGradient id="s0_13" href="#tpl" x1="940" y1="3494" x2="1199" y2="2187"/><linearGradient id="s0_12" href="#tpl" x1="928" y1="3498" x2="1188" y2="2190"/><linearGradient id="s0_11" href="#tpl" x1="916" y1="3503" x2="1178" y2="2192"/><linearGradient id="s0_10" href="#tpl" x1="904" y1="3508" x2="1167" y2="2194"/><linearGradient id="s0_9" href="#tpl" x1="892" y1="3513" x2="1157" y2="2197"/><linearGradient id="s0_8" href="#tpl" x1="880" y1="3517" x2="1146" y2="2199"/><linearGradient id="s0_7" href="#tpl" x1="868" y1="3522" x2="1135" y2="2202"/><linearGradient id="s0_6" href="#tpl" x1="855" y1="3527" x2="1124" y2="2204"/><linearGradient id="s0_5" href="#tpl" x1="843" y1="3532" x2="1113" y2="2207"/><linearGradient id="s0_4" href="#tpl" x1="831" y1="3537" x2="1102" y2="2209"/><linearGradient id="s0_3" href="#tpl" x1="818" y1="3542" x2="1092" y2="2211"/><linearGradient id="s0_2" href="#tpl" x1="806" y1="3546" x2="1081" y2="2214"/><linearGradient id="s0_1" href="#tpl" x1="793" y1="3551" x2="1069" y2="2216"/><linearGradient id="s0_0" href="#tpl" x1="780" y1="3556" x2="1058" y2="2219"/><linearGradient id="cbg" x1="0" y1="0" x2="0" y2="1"><stop offset="0.000" stop-color="#6e1016"/><stop offset="0.050" stop-color="#961318"/><stop offset="0.100" stop-color="#bc161a"/><stop offset="0.150" stop-color="#d8181a"/><stop offset="0.200" stop-color="#ee1a18"/><stop offset="0.250" stop-color="#fa1c14"/><stop offset="0.300" stop-color="#ff2410"/><stop offset="0.350" stop-color="#ff4a0a"/><stop offset="0.400" stop-color="#ff7f00"/><stop offset="0.450" stop-color="#ffb300"/><stop offset="0.500" stop-color="#ffe600"/><stop offset="0.550" stop-color="#c8dc00"/><stop offset="0.600" stop-color="#78c800"/><stop offset="0.650" stop-color="#2ab428"/><stop offset="0.700" stop-color="#10b090"/><stop offset="0.750" stop-color="#00b8e0"/><stop offset="0.800" stop-color="#0090d8"/><stop offset="0.850" stop-color="#1a68c0"/><stop offset="0.900" stop-color="#2e4ea8"/><stop offset="0.950" stop-color="#5a35a0"/><stop offset="1.000" stop-color="#801a92"/></linearGradient><path id="fdd" d="M0 0m3768 3388l25-7m796-169l22-11m-146 128l12-6m-835 88l24-10m618-195l27-8m-116 280l19-6m263 48l22-11m-797-271l13-7m791 26l24-4m-326 71l31-11m-273 102l22-7m-208-152l26-9m438-49l27-16m219 251l33-12m-998 53l22-15m1078-64l28-11m-72-143l17-13m-1063 42l26-8m836 254l19-8m-761-47l19-6m169-205l19-10m472 159l20-16m-355-288l18-7m128 3l26-6m251 229l27-6m-1133 55l16-7m432 150l34-13m581-205l13-4m-495 50l30-11m704-69l26-7m165 101l30-20m-593 42l17-4m137-101l26-5m-52 83l23-17m-534-18l21-15m492-144l22-15m-338 121l30-12m334 41l21-13m124 19l23-3m113-3l13-6m-746 162l15-11m199-116l24-4m-284 254l33-17m119-366l23-7m171 23l17-7m634 107l19-11m-642 313l25-14m-458 18l22-14m-27-171l12-3m614-163l30-20m-547-100l14-5m778 296l12-7m-1129-110l23-14m513 0l21-9m-427-68l24-10m268 437l21-5m816-300l33-12m-1253 10l21-6m-104-28l16-10m378 201l17-11m586-30l23-14m-901-17l29-11m568-4l33-13m225-39l17-4m-213-71l20-3m-209-47l16-7m-240-1l13-7m-296 30l18-11m924 36l28-12m-845 308l20-3m74-177l15-9m626-102l19-3m-989-13l19-11m754 348l19-12m-1013-215l21-10m1165-88l12-2m-966 71l12-9m125-27l31-19m-69-27l26-6m827 118l19-3m126 83l27-16m-73 1l24-18m-375 37l27-19m96-270l14-11m-447-47l22-6m793 223l20-11m-1077-69l34-6m757-10l23-8m59-5l16-8m-580 40l24-10m-267 122l23-17m546-115l15-6m90 238l18-6m281-50l32-13m-719 8l19-3m389-146l34-7m-683-68l29-11m215 71l25-6m233 236l19-13m-310-65l21-16m656 59l36-7m-513-86l16-8m366 96l24-4m-350 239l36-7m478-372l26-5m-1187 22l25-14m720 200l21-3m-122-164l36-12m-552-102l17-4m-89 80l16-11m1110 36l14-9m-674-61l16-2m255 188l35-12m-505 31l29-15m-204-109l13-6m-142-36l15-9m-182 47l12-2m362 174l27-9m834-163l13-4m-650-148l28-8m551 101l13-5m-979 160l26-5m-107 0l25-7m338-56l29-12m68-219l27-16m361 236l30-11m-783-18l26-4m145-12l30-19m389-89l17-4m-665 157l15-2m428-186l12-9m481 131l28-19m-647 252l27-12m159-20l21-8m183-119l20-12m-1103 54l15-9m373-47l17-4m-245-10l14-4m1055-63l34-14m-184 136l15-10m-731-113l23-8m735-56l14-11m-80 312l32-8m477-158l25-12m-618-101l36-11m-626 299l21-13m342-251l24-9m139-51l22-6m-224 150l14-9m185 253l31-21m17-371l30-18m-172 112l33-10m-201-69l23-10m643 340l13-9m-480-37l18-14m-389 127l30-9m-52-210l30-14m184-58l12-8m77 241l20-7m720-95l21-9m-648-10l21-10m12-57l24-9m380 195l22-5m-351-72l19-6m-227 118l30-21m-294 28l15-5m680-177l11-6m13 138l26-11m-117 98l22-15m-606-188l27-19m-2-188l11-5m385 29l20-9m-654 120l23-3m336 218l14-8m173-228l31-19m229 92l35-7m376 29l25-19m-809 264l20-9m-267-415l12-7m-140 7l10-7m1045 50l18-3m-1280 129l24-17m179 146l34-14m140-56l14-6m692 68l16-6m-301-40l13-9m-86-313l14-6m-236 53l14-7m-199 183l26-8m-191 83l20-10m748 118l28-11m116-286l37-8m231 161l34-12m-42-78l31-14m-863-115l23-7m-62 438l11-5m-209-44l24-17m-280-240l12-7m628 406l13-10m380-395l29-8m387 38l27-14m-792-209l31-13m-402 98l17-5m1130 151l24-4m-1328 54l33-9m2-65l21-12m754 44l34-8m-749 26l37-7m-37 10l13-10m155-164l12-6m60 357l15-6m607-178l21-8m-424-85l12-3m-373-95l34-5m417 301l15-6m300-143l11-9m-157 246l30-17m10-186l27-8m-317-203l22-15m-235 367l32-8m-408-30l33-15m-36 81l24-18m174-235l14-8m-195 37l27-4m481-77l36-9m-39 352l15-9m-78-444l13-3m-258 367l14-2m-260-2l15-3m715-287l22-9m304 261l19-9m-586-247l31-19m325 119l31-8m390 74l26-8m-626 111l24-6m-495-164l14-3m693 330l32-15m-473-246l21-12m314-29l29-6m-162-127l30-9m-25 569l25-7m-456-115l32-19m-180-259l21-14m954-77l22-9m-335 369l31-5m-64-231l14-7m-239-64l15-3m141 160l34-11m-208-24l17-4m-319 55l20-7m279-290l19-11m-575 219l29-20m981 84l25-10m365-121l25-6m-670 229l21-6m-620-87l29-8m542 74l33-11m-563-63l15-4m170-246l27-13m996 139l28-6m-509 77l14-6m-465-11l13-4m157-210l35-8m-55 310l11-8m471-26l20-14m-378-220l31-9m-131-22l24-13m408 242l23-5m-422-195l25-16m83 111l30-7m-590-23l22-5m925 77l31-21m-922-32l37-6m136-7l14-6m-95 319l12-3m279-150l22-15m508-32l32-17m-1387 60l27-5m1391-15l28-4m-601 117l25-14m-629-9l12-3m316-303l18-6m306 320l25-5m139-22l10-6m-90-199l34-8m121 59l16-11m315 61l26-13m-715-144l28-6m-565 168l18-6m126-74l12-3m-198 45l28-19m253 308l14-10m131-157l32-17m-430 4l18-3m495 161l23-15m34-443l17-5m151 37l29-19m-45 3l30-8m349 154l16-9m-327 176l26-9m-528-275l13-9m-331 117l34-12m366-59l24-4m766 170l27-7m-129 33l25-16m133 20l16-4m-451 12l33-13m-679-94l16-5m-69-15l21-16m315-105l13-7m94 408l29-11m-357-150l31-17m324-274l23-8m342 491l26-11m63-236l20-4m-251-119l10-8m-553 378l30-10m580-408l28-5m-426-16l30-5m218 104l14-6m-229 54l13-6m521 94l26-10m-618 227l18-7m175-21l15-7m-95-402l19-7m600 137l15-10m-434 352l26-18m551-263l19-8m-786-166l25-16m-417 225l13-6m449-155l19-8m26 408l27-10m-367-332l13-2m251-155l15-6m-171 75l21-13m104 150l23-16m716 52l24-4m-487 102l22-17m-158-42l32-9m-813-60l16-5m1003 52l14-4m-422 159l33-12m-369-96l29-15m967-59l29-22m-659 342l32-11m-264-289l19-13m113-243l10-8m329 134l28-6m-790 270l16-4m552-83l15-10m-493-172l26-16m925 70l29-7m-135 62l18-4m-488 10l34-11m-781 45l32-14m593 112l22-7m276-254l20-11m424 19l26-18m-647 243l11-6m-209-65l36-11m-2 101l31-5m-353 17l31-13m958-197l23-10m-671 65l16-11m-263 15l15-7m806 28l23-15m283-29l32-14m-762 160l24-11m99-11l14-9m716-106l12-9m-512-18l11-6m-36 143l17-12m-311-321l19-10m-304 116l30-12m353 365l11-6m15-306l34-15m634 87l18-8m-865 238l20-15m141 154l21-5m-235-486l30-6m-37 274l17-13m55-299l20-14m645 222l12-3m-691 25l24-19m312 67l36-10m204-53l14-6m-944-35l20-5m661 195l16-5m-421-271l12-9m644 74l31-6m-275-87l30-8m-185 131l16-11m450-32l23-9m-154 40l16-7m237-38l28-12m-489 67l28-20m-169 15l25-13m515 105l23-7m-793 211l15-5m373-465l13-8m452 228l28-21m-1285 27l24-19m379 243l15-4m-535-287l19-11m259 85l15-3m228-83l17-4m795 30l32-18m-1002-114l14-5m879 199l16-5m-74-84l24-8m-959-21l22-16m-109 238l14-5m499-284l34-17m667 195l25-6m-648 133l25-16m-373-265l13-2m375 157l23-9m-371-127l29-21m-193 58l33-5m-15 118l12-9m303-165l30-17m358 12l35-10m36 168l17-10m-636 27l20-5m366 220l30-17m-983-256l33-11m1099-2l25-13m-379 2l11-7m-423 163l11-7m1111-78l21-16m-216-40l21-16m-587 291l26-8m-728-195l15-6m915 91l29-8m-519-222l29-15m547 58l26-10m-33 18l30-7m-650 161l17-11m248-231l25-19m-198 99l12-7m-564 75l26-6m62 10l26-8m788-55l18-14m-523 154l24-8m315-220l25-5m-662 196l34-12m706 258l27-17m-238-190l32-5m107-33l32-5m34-115l20-12m292 119l19-14m-925-39l26-17m180 239l18-6m-85-279l19-3m995 104l27-5m-364-215l32-5m-528 243l28-11m696-156l22-4m-1012 135l37-6m829-108l23-14m-256-16l19-3m-294 118l18-4m560 74l25-17m-807 57l32-14m-216-19l15-4m251-66l15-5m-79-109l19-12m688 39l25-9m-398 397l23-14m-208-486l18-12m-482 315l19-14m1206-92l16-7m-388 230l21-12m-1086-169l24-13m838 43l28-6m-319 86l12-2m862-202l37-8m-416-8l17-4m486 115l24-18m-441 97l11-6m-900-161l28-10m848 121l19-11m266-122l29-11m-332-5l12-9m137 3l13-8m-308 68l26-18m-498-86l20-8m-247 189l22-5m1242-62l25-12m-1358 33l17-4m1232-78l19-15m-895-73l23-16m716 261l30-5m-625-124l30-11m248 130l26-9m186 33l36-10m234-109l33-8m-1199 113l24-14m1200-138l24-8m-1122-16l25-4m401-65l11-5m-83-91l13-10m-88 380l27-19m482 90l13-5m91-307l13-8m-915 72l26-12m1125 123l22-7m-721-254l15-8m-487 332l33-10m839-123l26-5m-455-52l23-7m-151 320l23-18m443-316l30-6m-981 238l12-5m833 14l28-18m-452 156l12-5m-153-375l12-6m-88 106l25-17m811-39l31-14m-588 131l25-6m-503-85l20-6m733-157l24-5m62 185l17-8m119 2l18-14m-847 195l29-12m598-149l27-5m-320-142l19-5m346 247l12-5m-217-60l20-9m-69-134l22-6m179 142l13-4m-678 118l10-7m1050-148l29-4m-293-34l27-16m-1067 145l31-21m973 175l28-10m65-359l21-10m305 93l22-5m-635-107l26-10m60 146l13-5m-72 90l19-10m-37-218l15-5m-525 261l33-9m-179-86l29-10m964-90l15-12m-177 27l15-3m122-33l15-6m-321-83l22-16m367 182l25-10m-322-36l31-16m-48 74l32-12m184 214l20-6m-195-256l13-4m-118 6l13-10m-367 174l15-3m450-159l11-7m-286-29l22-12m687 93l34-15m-1098 36l22-6m1146 92l21-4m-655 42l17-12m-53-9l31-13m373-16l19-11m-655 205l24-13m162-153l27-5m11-66l18-11m241 275l28-11m-622-366l34-7m435 174l26-5m-724-140l30-21m434 90l28-6m149 142l31-10m187 33l27-9m-270 188l13-5m574-235l28-12m-856-245l15-10m-75 76l27-15m587 155l33-7m-698 104l19-5m456 115l20-13m-835-266l27-19m262 118l27-16m650-33l21-6m93 79l32-11m-925 29l28-5m502 213l29-13m-132-157l19-6m483 21l24-6m-929-15l27-8m347-36l18-3m-262-18l16-9m235-51l12-4m233-127l13-2m-650 305l21-6m939-227l13-6m-306-79l35-12m-312 96l16-10m380 70l19-10m28 221l12-4m-335-389l25-4m37 261l10-8m389-112l23-17m-1415 117l27-8m230-74l23-13m812 93l37-7m-541 249l22-12m-100-222l31-17m186-31l14-7m406-142l15-11m-732 95l12-4m673 105l21-14m-294-117l32-7m-170-75l32-14m658 208l22-7m-75-42l14-8m-806 232l23-8m1041-188l30-12m-961-166l27-17m721 303l22-5m-893 142l35-8m-215-154l30-21m208-168l25-9m743 210l21-16m-502-286l34-9m-233 128l19-15m224 195l23-13m211 131l12-3m-542-369l18-11m348 34l30-22m-618 198l26-4m268 87l29-17m770-84l27-13m-883-187l35-9m471 103l22-15m-866 60l37-9m1019 93l16-4m-660 0l13-6m-615-32l24-9m497-204l13-2m-629 250l10-7m13 55l21-12m145-103l26-19m413 240l18-13m-247-59l21-11m125-306l25-10m698 236l15-4m-1048 155l21-15m817-177l29-4m-511 144l16-6m176-102l10-7m-143 312l32-11m43 17l28-13m-3-300l14-9m-94-248l25-15m769 232l17-3m-547 251l10-7m-119-175l28-11m-340 44l29-15m640-183l27-19m31 256l30-11m-897 22l25-7m261-182l35-13m625 94l18-7m-250 229l34-13m-16-20l15-4m161-105l24-8m-730-254l20-12m234 487l24-19m-115-532l13-2m316 355l27-6m-640 26l31-16m90-309l21-16m-115 118l19-4m378 312l13-9m-28-243l29-21m541 55l17-2m-540 346l30-9m-436-398l19-9m91 198l28-5m636-158l12-3m-160-20l22-13m-49-40l33-19m-104-26l29-8m-305 339l27-5m113-374l22-9m-259 69l25-9m103-56l27-18m-37 14l14-9m357 446l15-4m-497-325l21-15m9-137l31-8m-485 405l16-6m165-78l23-4m527-240l20-12m-159 179l13-8m-605 84l16-3m598-143l24-15m-485 301l15-9m408-169l17-10m185 235l22-11m-245-229l29-5m68-184l35-13m-339-6l13-3m245 77l20-10m-164 14l18-12m575 45l29-4m-909 151l20-9m265-27l19-7m-432-28l22-12m141-81l10-7m323 222l30-12m82-113l19-8m-637 229l18-13m903-16l18-4m-468-338l32-10m123 127l29-10m-730 54l27-6m433 288l28-4m623-252l24-7m28 30l16-12m-877-120l14-6m754 246l12-3m-177-89l12-7m-517-203l13-8m-608 187l24-12m1088 30l20-14m-181-60l29-11m47 145l12-4m93 5l20-11m-48-229l22-5m-16-1l11-7m-814 139l25-8m877-22l17-5m-728 230l22-16m737-237l13-7m-481 183l24-13m481-6l28-11m136-13l22-6m-320 161l15-9m-1090-194l29-15m558-154l33-15m461 193l14-7m-1279 37l13-7m525-34l26-6m680-93l23-13m-482 4l30-19m485 239l23-8m-371-146l24-18m404-17l14-7m-657 216l17-5m171 175l35-8m-187-541l29-15m107 47l32-12m241 84l12-8m-595 162l21-14m433-175l34-5m-12 267l22-13m-208-115l13-7m-112 28l21-4m-105-10l26-6m516-1l29-14m27 184l18-12m-683-113l33-16m564-49l22-11m7 79l12-7m119-61l25-4m-1049-50l20-12m-178 72l15-3m719 236l31-6m-429 23l14-2m259-431l10-7m-445 354l14-10m1089-88l23-8m-81-56l26-12m-631 266l21-16m-365-18l33-11m-308-103l26-6m952-47l19-7m-693-53l16-8m482-102l15-11m-236 71l30-14m267 340l36-7m-45-371l31-17m150 42l26-7m-171 31l12-8m-545 333l26-16m662-179l29-21m245 58l29-20m-282 66l20-6m-857 69l12-6m76-293l19-6m38-40l15-6m592 275l13-2m-494-180l17-13m-375 179l13-4m-6-139l17-5m702-109l12-7m89 330l28-17m114-22l29-17m-346 55l33-8m-446-242l14-10m67 177l28-12m553 32l17-11m-695 189l24-13m518-74l35-14m88-277l19-9m-677 273l14-7m399 149l11-5m75-318l33-10m-537-30l33-16m357 52l22-7m-292 66l26-7m161 161l28-14m-422-211l37-9m201 336l27-19m-196-204l26-12m158-174l14-5m514 74l18-5m115 105l31-13m-678-142l24-9m-299 33l17-8m187 193l14-9m-13-224l27-18m470 254l26-14m-655-197l22-13m75 5l36-7m406 104l27-13m-207-6l32-11m-434-92l30-13m-373 145l31-13m1107 193l32-12m-416-144l31-11m-386-87l31-7m-80 77l28-16m1002 5l28-10m-964-142l34-8m23 277l26-5m-101 135l12-2m830-276l25-7m-252 288l12-4m-564-280l14-9m-17 73l34-12m695 118l32-18m-539-92l15-4m-156-43l30-10m-47 98l16-4m687-67l26-13m-1105 220l14-10m333-49l14-8m490-219l20-6m-541 251l11-7m147-368l23-7m-451 248l15-6m1219-20l17-7m-559 14l14-9m-40-65l27-7m-433 9l27-5m561 61l26-8m234 115l15-5m-1044-155l31-6m617-14l19-10m-576 53l22-14m274 415l18-9m-276-420l34-9m457 202l29-17m-776 99l21-13m182-126l29-18m160 6l18-4m174-130l27-17m-7 32l24-14m161 36l29-10m199 183l15-7m-489 59l29-10m-289-357l29-14m-325 177l18-3m836 222l26-11m-470 47l30-7m-84-299l21-7m539 236l24-6m-464 28l18-9m580-73l29-20m-811-259l14-6m86 104l13-2m-77 42l26-8m546 54l24-4m-726 154l16-9m1057-85l31-9m-633 64l25-7m-193-221l19-4m-331 241l20-15m-160-114l16-7m295 264l26-7m-105 40l27-14m392-355l27-6m-506-60l21-4m98 252l12-4m-221-21l27-17m446-140l12-6m227-17l31-11m-105 18l21-9m-230 36l34-5m-35 498l14-3m-690-305l30-20m487-46l19-8m518 60l12-5m-569-130l17-8m-219 59l28-13m589 51l22-7m-1063 57l13-8m1384-115l25-9m-520-68l24-8m-79 238l14-6m-238 170l19-9m775-307l18-8m-1443 114l16-5m906-140l14-4m-830 68l19-6m713-158l12-8m78 180l30-12m-771 69l14-6m448 5l16-5m263-87l27-4m-488-18l17-3m147-164l29-10m-49 160l30-15m478 100l32-7m-755 134l16-4m657 100l11-5m-691-4l16-7m23-209l22-15m61-80l23-10m162-59l31-11m-196 255l24-11m-79-24l19-8m171-176l28-13m625 212l15-9m-249-165l23-12m-409 277l32-5m416-120l26-15m-1096 47l25-17m750-194l18-10m-552 169l22-8m-80-77l17-11m269 127l17-6m-83 162l30-14m186-256l12-4m-258 177l21-8m320 161l16-11m-362-385l26-18m23 53l21-11m-201 50l20-4m525-89l20-4m51 525l32-5m-88-509l28-10m-32 267l29-22m-588 132l15-8m786 44l31-7m320-258l28-8m-866-76l15-5m676 152l14-8m-505-166l22-14m639 140l20-3m39 29l21-15m-311 159l17-7m-669-252l24-14m21 176l23-13m402-127l15-5m-256 45l26-6m31-140l31-8m-150 308l33-13m549 7l32-14m-724-241l23-16m516 228l20-14m-386 308l22-11m-415-362l18-4m510-85l33-19m-681 243l28-6m264-169l29-5m592 49l17-4m266 51l20-11m-1165-48l13-10m322 37l29-15m-700 99l23-10m618 86l34-9m-24 187l14-4m30-216l30-10m-158-166l17-10m-614 105l33-5m1348-95l19-10m-1201 79l12-5m1192-72l29-19m-1319 113l26-16m-229 53l14-5m908 245l15-4m70-217l26-20m-263-310l13-5m299 290l11-7m-677 70l22-14m275-270l33-8m208-21l23-8m-148 560l21-13m41-503l27-16m-128 374l17-9m607-181l27-12m-334-94l17-8m197 129l22-16m-565 44l24-10m-258 36l30-9m766 5l34-10m-771-218l29-17m719 282l17-11m-330-123l29-9m-410 154l34-12m291-220l20-5m-1-61l13-4m-284 137l17-9m-216-70l28-12m572 37l15-5m-466-75l24-7m-212 91l24-5m192 176l16-5m68-51l32-6m383-118l14-10m-844 189l14-4m113-99l17-3m672 52l27-4m-1037-16l16-4m874-119l21-12m-398-50l19-7m283 125l12-4m362 194l30-10m-360-190l34-8m487 112l36-10m-1034 10l37-7m136-20l34-6m106 204l37-6m-410-199l27-17m619 142l22-12m-167-47l37-6m-657-51l26-12m91-62l19-5m55-7l29-14m415 349l27-14m-361-207l16-10m513-127l26-13m-772-6l14-7m0 187l25-18m397 289l20-6m-388-124l28-21m79 33l12-5m-24-70l17-9m295-149l23-14m43 106l16-7m-104-134l14-10m144-52l27-17m30 270l28-7m181-145l22-7m-661-63l33-6m-493 107l31-9m598-88l18-7m-69 293l20-10m57-191l30-4m-198 241l17-6m95-57l23-15m-544-169l35-13m-86 96l20-10m697 152l24-4m-161 121l23-12m0-427l35-14m43-3l23-4m382 80l24-17m-643 273l31-9m-344-98l22-10m146 0l29-6m340-82l18-13m-176-15l18-13m475-49l15-11m-845 167l22-15m257 121l17-13m7 42l16-3m-456-235l36-10m329-81l20-10m197 38l32-13m64 71l17-4m413 167l30-7m-1120-169l18-10m263 161l12-8m-75-57l13-3m-179 105l31-18m721-19l16-10m-900-64l28-6m713 334l26-15m-784-283l13-3m230-179l19-5m591 35l35-9m120 41l26-12m-666-50l30-8m742 305l26-20m-281 48l15-7m-188-80l31-18m-831-7l14-5m362-160l23-11m199-130l33-7m542 265l28-5m-212-67l14-8m-227-128l21-13m234 408l33-11m-791-136l13-7m-68-56l17-6m-264 67l28-13m1157-118l29-15m-164-27l18-10m-278 141l14-7m-172-50l22-14m181 351l30-11m336-95l21-5m-795-5l18-9m644-228l21-17m101 120l18-10m-901 218l31-20m664-377l15-6m112 220l20-8m-472-176l24-9m306 141l23-11m-299 235l28-19m-290-189l19-4m793 25l14-10m-745-169l35-6m-617 159l14-7m349-153l31-20m-115 343l28-21m652-246l34-11m260 212l16-3m-804-297l30-23m917 192l19-13m-74 103l19-14m-886-98l17-6m394 25l24-10m-704-44l20-6m111 203l15-4m251-331l34-16m704 168l27-10m-329-30l31-5m-914 96l28-7m450-80l20-8m-451 149l23-14m513 21l15-10m-624 77l30-6m1077-151l31-13m-357 73l18-5m-268 49l30-17m62 97l29-13m449-48l26-13m-896 35l14-2m-233-88l31-19m569 9l26-8m-364-96l25-9m77-89l23-14m516 212l14-9m-269 148l26-17m0-6l31-13m-157 118l20-11m-5-346l21-12m-180 342l28-5m276-384l20-6m-513 160l29-22m779-47l12-6m-13 247l33-5m-968-15l17-3m112-257l15-4m-107 151l17-3m967 84l29-8m-1106-140l12-9m773 4l35-8m-133 28l27-8m-117 95l30-14m377-88l14-6m-378 47l17-11m-527-58l27-8m708 103l31-10m-642-97l16-8m-24 72l34-15m475 212l17-3m171-274l17-13m-492 284l25-9m471-34l13-8m-364-121l26-14m-537 22l17-5m478 1l36-11m180 16l13-8m-625 51l24-6m-47-94l28-18m397 21l20-13m-151-81l12-7m558 192l13-7m-110-28l13-5m-85 158l23-6m-879-106l15-2m-156 65l33-14m708-49l16-4m284 127l29-6m-562-290l31-20m321 18l19-5m-373 67l23-7m96-72l24-13m-359 203l11-7m494 96l16-6m-349-87l18-10m-277 20l28-15m534 142l28-18m-579 74l29-5m646 60l12-5m-946-208l15-7m608 187l26-17m364-130l17-7m48-225l23-17m-1127 227l29-12m1150-87l33-12m-204-14l16-9m-768 250l20-12m96-207l16-11m-263 7l22-6m513 10l28-10m481 112l20-9m-1269 27l23-17m673-124l11-6m-150 342l21-13m601-174l19-10m-287 107l20-12m-279-23l13-5m215-242l29-17m-649 180l27-21m1237-102l34-16m-15 96l17-8m-984-111l28-9m-367 258l36-7m194-223l22-6m345-127l24-16m-153 210l12-9m137 76l18-5m-178-168l33-18m-124 13l19-7m393 271l27-16m-778-76l18-13m-77 91l11-7m407-90l16-11m241-116l19-12m-657 224l24-18m198 70l33-15m647-252l17-10m-183 58l23-16m-67 284l30-18m38 64l15-7m-314-507l27-16m-452 203l35-14m479-23l34-13m170 38l20-7m43 67l30-8m-116-23l21-6m76 344l28-19m-75-130l21-11m109 57l30-5m-401-224l26-12m665 43l35-10m-446-131l23-9m37 123l15-11m-711 70l25-4m-323-33l16-7m519 64l26-13m44-171l23-4m658 237l20-8m-1076 31l28-12m683-145l10-7m-265-156l21-15m324 244l29-16m-80-60l21-9m-142 214l16-11m3-96l32-13m-84 73l17-11m-254 14l31-17m63 181l19-7m212-440l15-3m77 372l34-13m-288-389l15-9m343 174l20-11m-223 98l16-4m323-33l31-20m71 62l15-3m-1234 113l31-6m888-278l32-17m-710 208l33-15m93 12l16-7m166-292l35-12m538 236l22-8m-569 12l30-7m289 139l29-7m-468-164l32-15m-6-182l25-18m-672 308l29-18m405-16l14-3m-254 87l20-7m641-258l22-7m97 191l14-7m-738-45l19-11m91-80l22-15m-410 194l21-5m162-91l12-7m329 117l10-8m475 31l23-6m298-127l32-10m-579 345l20-8m-249-231l20-8m-258-75l31-14m-84-6l27-7m560-121l31-19m153 103l19-7m431 61l15-3m-48 66l20-11m54-17l12-3m-1161 41l10-7m39 79l36-7m712 15l11-7m164-66l12-4m-557 74l23-16m147 133l34-5m-709-324l36-11m-409 141l28-6m1227-98l12-6m-156-35l23-5m303 196l15-6m-537-73l21-5m433 139l26-14m-1151-123l16-2m684 327l21-5m346-308l32-7m-1037 88l28-17m314-177l14-5m-51 71l35-12m31 153l20-15m-594-61l33-5m845-45l12-9m-311-147l18-3m-300 372l22-5m134-140l29-21m340 7l23-16m-791-35l33-19m520 185l21-8m58 193l17-9m-694-318l33-9m1483 13l20-14m-628 224l17-7m-36-303l32-5m-955 141l24-17m1119-101l13-3m-756 7l33-15m294-47l16-3m-283 54l20-4m242 109l20-10m-75-133l28-10m324 72l28-17m408 64l28-5m-321-54l24-16m-1070 201l30-13m600-71l18-3m-34 0l31-9m444 104l13-4m-822-83l10-7m768 114l36-6m-95-169l26-17m-185-106l15-7m-739 93l11-6m77 129l16-5m122 172l29-9m313-381l14-6m-166-72l26-14m-74 267l14-9m344 4l29-4m-849-21l13-7m567-125l25-8m-237 90l15-5m-166 304l21-15m407-283l27-10m81 27l24-7m-495-87l11-7m-133 121l16-6m337-55l26-18m-99-57l12-9m252-21l33-15m438 190l26-8m140 48l36-9m-99-7l10-8m-900-129l24-9m871 122l23-12m-446 159l35-14m-352-246l19-4m278 22l13-3m13 334l21-13m-309-407l16-5m-372 243l19-14m261 156l14-7m-116 36l12-6m452-68l23-6m-522-101l12-4m766-25l24-11m-524-143l11-7m-37 495l24-12m-432-357l29-22m-73 198l30-19m442 167l31-19m-239-264l27-14m-653 114l21-7m196-76l20-5m720 363l15-6m384-332l18-11m-218 122l11-6m-663 43l28-14m800-136l23-16m-689 162l13-4m-80-106l21-12m244-8l25-14m356-20l12-8m-405-131l22-7m45 157l22-16m-257-241l28-7m-85 180l11-9m349 23l22-14m-150 74l32-12m-66-122l25-8m-441 31l23-16m544 165l26-4m-246 230l30-22m655-290l16-11m-313-15l28-16m-55 319l24-14m-165 121l32-18m-548-427l24-17m52 38l25-5m186 238l21-7m-51 134l22-9m270-415l28-19m-907 230l20-3m537-192l21-10m685 170l19-4m-554 220l30-15m148-193l25-15m357 38l18-14m-645-225l22-4m-60 56l29-17m267 212l12-6m-67-140l20-5m21-69l12-3m293 212l25-13m-1168-11l19-5m253 174l13-5m110-72l25-18m-212-239l35-14m953 141l28-17m-1030-52l26-9m-184 152l19-10m1011 58l15-8m-381-320l23-10m-298 273l20-10m-671 31l24-12m1249-72l14-7m-937 42l16-8m553-38l17-7m261 231l16-4m-481-400l27-14m315 49l32-19m-520 136l18-12m282 15l29-15m389 20l14-6m-138 154l29-8m-252-147l26-14m41-71l15-6m537 150l29-20m-792 375l27-14m319-434l14-3m155-25l23-9m-617 38l18-8m589 117l25-14m-142-71l29-11m-1210 86l31-19m456 152l32-20m1008-169l34-11m-1167 24l27-9m606 289l31-11m-83-284l17-4m433 118l25-4m-233 9l29-9m-1040 42l24-11m415-227l23-4m359-28l37-6m-595 245l22-16m-56-144l28-11m954 80l15-6m-1271 56l24-5m605-33l16-7m-323-27l20-7m500 326l16-9"/><linearGradient id="s273_85" href="#tpl" x1="4407" y1="3197" x2="4591" y2="2046"/><linearGradient id="s273_84" href="#tpl" x1="4399" y1="3201" x2="4583" y2="2047"/><linearGradient id="s273_83" href="#tpl" x1="4390" y1="3205" x2="4575" y2="2049"/><linearGradient id="s273_82" href="#tpl" x1="4381" y1="3208" x2="4567" y2="2051"/><linearGradient id="s273_81" href="#tpl" x1="4372" y1="3212" x2="4559" y2="2052"/><linearGradient id="s273_80" href="#tpl" x1="4363" y1="3216" x2="4551" y2="2054"/><linearGradient id="s273_79" href="#tpl" x1="4355" y1="3219" x2="4543" y2="2056"/><linearGradient id="s273_78" href="#tpl" x1="4346" y1="3223" x2="4535" y2="2057"/><linearGradient id="s273_77" href="#tpl" x1="4337" y1="3227" x2="4527" y2="2059"/><linearGradient id="s273_76" href="#tpl" x1="4328" y1="3230" x2="4519" y2="2061"/><linearGradient id="s273_75" href="#tpl" x1="4319" y1="3234" x2="4511" y2="2063"/><linearGradient id="s273_74" href="#tpl" x1="4310" y1="3238" x2="4503" y2="2064"/><linearGradient id="s273_73" href="#tpl" x1="4301" y1="3242" x2="4494" y2="2066"/><linearGradient id="s273_72" href="#tpl" x1="4292" y1="3245" x2="4486" y2="2068"/><linearGradient id="s273_71" href="#tpl" x1="4282" y1="3249" x2="4478" y2="2070"/><linearGradient id="s273_70" href="#tpl" x1="4273" y1="3253" x2="4470" y2="2071"/><linearGradient id="s273_69" href="#tpl" x1="4264" y1="3257" x2="4461" y2="2073"/><linearGradient id="s273_68" href="#tpl" x1="4255" y1="3260" x2="4453" y2="2075"/><linearGradient id="s273_67" href="#tpl" x1="4245" y1="3264" x2="4444" y2="2077"/><linearGradient id="s273_66" href="#tpl" x1="4236" y1="3268" x2="4436" y2="2078"/><linearGradient id="s273_65" href="#tpl" x1="4227" y1="3272" x2="4427" y2="2080"/><linearGradient id="s273_64" href="#tpl" x1="4217" y1="3276" x2="4419" y2="2082"/><linearGradient id="s273_63" href="#tpl" x1="4208" y1="3280" x2="4410" y2="2084"/><linearGradient id="s273_62" href="#tpl" x1="4198" y1="3284" x2="4402" y2="2086"/><linearGradient id="s273_61" href="#tpl" x1="4189" y1="3288" x2="4393" y2="2088"/><linearGradient id="s273_60" href="#tpl" x1="4179" y1="3292" x2="4385" y2="2089"/><linearGradient id="s273_59" href="#tpl" x1="4169" y1="3295" x2="4376" y2="2091"/><linearGradient id="s273_58" href="#tpl" x1="4160" y1="3299" x2="4367" y2="2093"/><linearGradient id="s273_57" href="#tpl" x1="4150" y1="3303" x2="4358" y2="2095"/><linearGradient id="s273_56" href="#tpl" x1="4140" y1="3307" x2="4350" y2="2097"/><linearGradient id="s273_55" href="#tpl" x1="4130" y1="3311" x2="4341" y2="2099"/><linearGradient id="s273_54" href="#tpl" x1="4121" y1="3315" x2="4332" y2="2101"/><linearGradient id="s273_53" href="#tpl" x1="4111" y1="3319" x2="4323" y2="2103"/><linearGradient id="s273_52" href="#tpl" x1="4101" y1="3324" x2="4314" y2="2104"/><linearGradient id="s273_51" href="#tpl" x1="4091" y1="3328" x2="4305" y2="2106"/><linearGradient id="s273_50" href="#tpl" x1="4081" y1="3332" x2="4296" y2="2108"/><linearGradient id="s273_49" href="#tpl" x1="4071" y1="3336" x2="4287" y2="2110"/><linearGradient id="s273_48" href="#tpl" x1="4061" y1="3340" x2="4278" y2="2112"/><linearGradient id="s273_47" href="#tpl" x1="4050" y1="3344" x2="4269" y2="2114"/><linearGradient id="s273_46" href="#tpl" x1="4040" y1="3348" x2="4260" y2="2116"/><linearGradient id="s273_45" href="#tpl" x1="4030" y1="3352" x2="4251" y2="2118"/><linearGradient id="s273_44" href="#tpl" x1="4020" y1="3356" x2="4241" y2="2120"/><linearGradient id="s273_43" href="#tpl" x1="4009" y1="3361" x2="4232" y2="2122"/><linearGradient id="s273_42" href="#tpl" x1="3999" y1="3365" x2="4223" y2="2124"/><linearGradient id="s273_41" href="#tpl" x1="3989" y1="3369" x2="4214" y2="2126"/><linearGradient id="s273_40" href="#tpl" x1="3978" y1="3373" x2="4204" y2="2128"/><linearGradient id="s273_39" href="#tpl" x1="3968" y1="3378" x2="4195" y2="2130"/><linearGradient id="s273_38" href="#tpl" x1="3957" y1="3382" x2="4185" y2="2132"/><linearGradient id="s273_37" href="#tpl" x1="3947" y1="3386" x2="4176" y2="2134"/><linearGradient id="s273_36" href="#tpl" x1="3936" y1="3390" x2="4166" y2="2136"/><linearGradient id="s273_35" href="#tpl" x1="3925" y1="3395" x2="4157" y2="2139"/><linearGradient id="s273_34" href="#tpl" x1="3914" y1="3399" x2="4147" y2="2141"/><linearGradient id="s273_33" href="#tpl" x1="3904" y1="3403" x2="4138" y2="2143"/><linearGradient id="s273_32" href="#tpl" x1="3893" y1="3408" x2="4128" y2="2145"/><linearGradient id="s273_31" href="#tpl" x1="3882" y1="3412" x2="4118" y2="2147"/><linearGradient id="s273_30" href="#tpl" x1="3871" y1="3416" x2="4108" y2="2149"/><linearGradient id="s273_29" href="#tpl" x1="3860" y1="3421" x2="4099" y2="2151"/><linearGradient id="s273_28" href="#tpl" x1="3849" y1="3425" x2="4089" y2="2153"/><linearGradient id="s273_27" href="#tpl" x1="3838" y1="3430" x2="4079" y2="2156"/><linearGradient id="s273_26" href="#tpl" x1="3827" y1="3434" x2="4069" y2="2158"/><linearGradient id="s273_25" href="#tpl" x1="3815" y1="3439" x2="4059" y2="2160"/><linearGradient id="s273_24" href="#tpl" x1="3804" y1="3443" x2="4049" y2="2162"/><linearGradient id="s273_23" href="#tpl" x1="3793" y1="3448" x2="4039" y2="2164"/><linearGradient id="s273_22" href="#tpl" x1="3781" y1="3452" x2="4029" y2="2167"/><linearGradient id="s273_21" href="#tpl" x1="3770" y1="3457" x2="4019" y2="2169"/><linearGradient id="s273_20" href="#tpl" x1="3759" y1="3461" x2="4008" y2="2171"/><linearGradient id="s273_19" href="#tpl" x1="3747" y1="3466" x2="3998" y2="2173"/><linearGradient id="s273_18" href="#tpl" x1="3736" y1="3471" x2="3988" y2="2176"/><linearGradient id="s273_17" href="#tpl" x1="3724" y1="3475" x2="3978" y2="2178"/><linearGradient id="s273_16" href="#tpl" x1="3712" y1="3480" x2="3967" y2="2180"/><linearGradient id="s273_15" href="#tpl" x1="3700" y1="3484" x2="3957" y2="2183"/><linearGradient id="s273_14" href="#tpl" x1="3689" y1="3489" x2="3946" y2="2185"/><linearGradient id="s273_13" href="#tpl" x1="3677" y1="3494" x2="3936" y2="2187"/><linearGradient id="s273_12" href="#tpl" x1="3665" y1="3498" x2="3925" y2="2190"/><linearGradient id="s273_11" href="#tpl" x1="3653" y1="3503" x2="3915" y2="2192"/><linearGradient id="s273_10" href="#tpl" x1="3641" y1="3508" x2="3904" y2="2194"/><linearGradient id="s273_9" href="#tpl" x1="3629" y1="3513" x2="3894" y2="2197"/><linearGradient id="s273_8" href="#tpl" x1="3617" y1="3517" x2="3883" y2="2199"/><linearGradient id="s273_7" href="#tpl" x1="3605" y1="3522" x2="3872" y2="2202"/><linearGradient id="s273_6" href="#tpl" x1="3592" y1="3527" x2="3861" y2="2204"/><linearGradient id="s273_5" href="#tpl" x1="3580" y1="3532" x2="3850" y2="2207"/><linearGradient id="s273_4" href="#tpl" x1="3568" y1="3537" x2="3839" y2="2209"/><linearGradient id="s273_3" href="#tpl" x1="3555" y1="3542" x2="3829" y2="2211"/><linearGradient id="s273_2" href="#tpl" x1="3543" y1="3546" x2="3818" y2="2214"/><linearGradient id="s273_1" href="#tpl" x1="3530" y1="3551" x2="3806" y2="2216"/><linearGradient id="s273_0" href="#tpl" x1="3517" y1="3556" x2="3795" y2="2219"/></defs>
<line x1="95.5" y1="18.6" x2="95.5" y2="149.3" stroke="#dcdcdc" stroke-width="0.9"/>
<line x1="152.3" y1="18.6" x2="152.3" y2="149.3" stroke="#dcdcdc" stroke-width="0.9"/>
<line x1="38.6" y1="105.7" x2="209.2" y2="105.7" stroke="#dcdcdc" stroke-width="0.9"/>
<line x1="38.6" y1="62.2" x2="209.2" y2="62.2" stroke="#dcdcdc" stroke-width="0.9"/>
<line x1="38.6" y1="70.9" x2="209.2" y2="70.9" stroke="#6a6a6a" stroke-width="1" stroke-dasharray="2.2 1.3 0.9 1.6" stroke-dashoffset="1"/>
<path d="M38.60,141.40 L46.00,141.40 C46.42,140.75 47.55,138.98 48.50,137.50 C49.45,136.02 50.03,134.87 51.70,132.50 C53.37,130.13 56.22,125.97 58.50,123.30 C60.78,120.63 63.12,118.58 65.40,116.50 C67.68,114.42 70.12,112.38 72.20,110.80 C74.28,109.22 75.80,108.52 77.90,107.00 C80.00,105.48 82.32,103.33 84.80,101.70 C87.28,100.07 90.60,98.72 92.80,97.20 C95.00,95.68 96.63,93.53 98.00,92.60 C99.37,91.67 99.50,92.07 101.00,91.60 C102.50,91.13 104.90,90.40 107.00,89.80 C109.10,89.20 112.00,88.80 113.60,88.00 C115.20,87.20 115.60,85.90 116.60,85.00 C117.60,84.10 118.20,83.30 119.60,82.60 C121.00,81.90 123.30,81.30 125.00,80.80 C126.70,80.30 128.40,80.30 129.80,79.60 C131.20,78.90 132.30,77.60 133.40,76.60 C134.50,75.60 135.40,74.50 136.40,73.60 C137.40,72.70 137.90,71.70 139.40,71.20 C140.90,70.70 143.90,71.10 145.40,70.60 C146.90,70.10 147.30,69.03 148.40,68.20 C149.50,67.37 150.80,66.23 152.00,65.60 C153.20,64.97 154.60,64.57 155.60,64.40 C156.60,64.23 157.10,64.80 158.00,64.60 C158.90,64.40 160.00,63.57 161.00,63.20 C162.00,62.83 163.28,62.53 164.00,62.40 C164.72,62.27 165.08,62.40 165.30,62.40 C165.38,64.17 165.52,68.63 165.80,73.00 C166.08,77.37 166.67,84.10 167.00,88.60 C167.33,93.10 167.57,97.10 167.80,100.00 C168.03,102.90 167.80,103.40 168.40,106.00 C169.00,108.60 170.00,112.60 171.40,115.60 C172.80,118.60 174.70,121.50 176.80,124.00 C178.90,126.50 181.20,128.60 184.00,130.60 C186.80,132.60 190.60,134.60 193.60,136.00 C196.60,137.40 199.50,138.20 202.00,139.00 C204.50,139.80 207.50,140.50 208.60,140.80" fill="none" stroke="#ff2230" stroke-width="1.5" stroke-linejoin="round" stroke-linecap="round"/>
<path d="M38.60,141.40 L53.60,141.40 C53.85,140.67 54.47,139.23 55.10,137.00 C55.73,134.77 56.45,131.42 57.40,128.00 C58.35,124.58 59.67,120.30 60.80,116.50 C61.93,112.70 63.07,109.00 64.20,105.20 C65.33,101.40 66.27,97.32 67.60,93.70 C68.93,90.08 70.48,86.53 72.20,83.50 C73.92,80.47 76.18,77.78 77.90,75.50 C79.62,73.22 81.07,71.18 82.50,69.80 C83.93,68.42 85.08,67.73 86.50,67.20 C87.92,66.67 90.25,66.70 91.00,66.60 C91.12,70.50 91.50,84.43 91.70,90.00 C91.90,95.57 91.88,96.33 92.20,100.00 C92.52,103.67 92.67,108.40 93.60,112.00 C94.53,115.60 95.90,118.60 97.80,121.60 C99.70,124.60 102.20,127.60 105.00,130.00 C107.80,132.40 111.43,134.45 114.60,136.00 C117.77,137.55 120.93,138.47 124.00,139.30 C127.07,140.13 131.50,140.72 133.00,141.00" fill="none" stroke="#ffc000" stroke-width="1.5" stroke-linejoin="round" stroke-linecap="round"/>
<path d="M38.60,141.40 L40.30,141.40 C40.52,140.50 41.18,138.23 41.60,136.00 C42.02,133.77 42.35,131.00 42.80,128.00 C43.25,125.00 43.72,121.00 44.30,118.00 C44.88,115.00 45.55,112.33 46.30,110.00 C47.05,107.67 47.88,106.17 48.80,104.00 C49.72,101.83 50.77,99.08 51.80,97.00 C52.83,94.92 53.97,93.33 55.00,91.50 C56.03,89.67 57.00,87.50 58.00,86.00 C59.00,84.50 60.17,83.42 61.00,82.50 C61.83,81.58 62.33,81.67 63.00,80.50 C63.67,79.33 64.30,77.08 65.00,75.50 C65.70,73.92 66.43,72.55 67.20,71.00 C67.97,69.45 68.90,67.48 69.60,66.20 C70.30,64.92 70.70,63.90 71.40,63.30 C72.10,62.70 73.10,62.55 73.80,62.60 C74.50,62.65 75.25,63.37 75.60,63.60 C75.95,63.83 75.78,60.60 75.90,64.00 C76.02,67.40 76.12,78.00 76.30,84.00 C76.48,90.00 76.63,96.00 77.00,100.00 C77.37,104.00 77.93,105.92 78.50,108.00 C79.07,110.08 79.48,110.50 80.40,112.50 C81.32,114.50 82.40,117.50 84.00,120.00 C85.60,122.50 87.33,125.08 90.00,127.50 C92.67,129.92 96.67,132.67 100.00,134.50 C103.33,136.33 107.33,137.52 110.00,138.50 C112.67,139.48 115.00,140.08 116.00,140.40" fill="none" stroke="#92d050" stroke-width="1.5" stroke-linejoin="round" stroke-linecap="round"/>
<path d="M38.60,141.40 L41.40,141.40 C41.73,140.10 42.87,136.50 43.40,133.60 C43.93,130.70 44.00,127.60 44.60,124.00 C45.20,120.40 46.23,115.17 47.00,112.00 C47.77,108.83 48.60,107.00 49.20,105.00 C49.80,103.00 49.70,101.93 50.60,100.00 C51.50,98.07 53.43,95.70 54.60,93.40 C55.77,91.10 56.90,87.90 57.60,86.20 C58.30,84.50 58.60,83.70 58.80,83.20 L60.50,84.80 C60.72,84.73 61.38,84.77 61.80,84.40 C62.22,84.03 62.50,84.00 63.00,82.60 C63.50,81.20 64.10,77.90 64.80,76.00 C65.50,74.10 66.40,72.77 67.20,71.20 C68.00,69.63 68.90,67.80 69.60,66.60 C70.30,65.40 70.80,64.60 71.40,64.00 C72.00,63.40 72.43,63.15 73.20,63.00 C73.97,62.85 75.23,63.00 76.00,63.10 C76.77,63.20 77.50,63.52 77.80,63.60 C77.92,65.17 78.20,66.93 78.50,73.00 C78.80,79.07 79.08,93.50 79.60,100.00 C80.12,106.50 80.57,108.40 81.60,112.00 C82.63,115.60 83.90,118.60 85.80,121.60 C87.70,124.60 90.20,127.60 93.00,130.00 C95.80,132.40 99.77,134.50 102.60,136.00 C105.43,137.50 107.50,138.20 110.00,139.00 C112.50,139.80 116.33,140.50 117.60,140.80" fill="none" stroke="#00b0f0" stroke-width="1.5" stroke-linejoin="round" stroke-linecap="round"/>
<line x1="56.7" y1="62.9" x2="59.8" y2="66.2" stroke="#555" stroke-width="0.6"/>
<polygon points="62.2,68.6 58.7,67.3 61.0,65.0" fill="#000"/>
<line x1="60.4" y1="61.1" x2="63.6" y2="64.6" stroke="#555" stroke-width="0.6"/>
<polygon points="65.9,67.1 62.4,65.7 64.8,63.5" fill="#000"/>
<line x1="79.6" y1="64.8" x2="81.3" y2="66.5" stroke="#555" stroke-width="0.6"/>
<polygon points="83.7,68.9 80.1,67.7 82.5,65.3" fill="#000"/>
<line x1="135.0" y1="63.6" x2="138.4" y2="67.6" stroke="#555" stroke-width="0.6"/>
<polygon points="140.6,70.2 137.1,68.7 139.7,66.5" fill="#000"/>
<rect x="38.6" y="18.6" width="170.6" height="130.7" fill="none" stroke="#7a7a7a" stroke-width="1"/>
<line x1="38.6" y1="140.6" x2="40.6" y2="140.6" stroke="#7a7a7a" stroke-width="0.8"/>
<line x1="38.6" y1="131.9" x2="40.6" y2="131.9" stroke="#7a7a7a" stroke-width="0.8"/>
<line x1="38.6" y1="123.2" x2="40.6" y2="123.2" stroke="#7a7a7a" stroke-width="0.8"/>
<line x1="38.6" y1="114.4" x2="40.6" y2="114.4" stroke="#7a7a7a" stroke-width="0.8"/>
<line x1="38.6" y1="105.7" x2="40.6" y2="105.7" stroke="#7a7a7a" stroke-width="0.8"/>
<line x1="38.6" y1="97.0" x2="40.6" y2="97.0" stroke="#7a7a7a" stroke-width="0.8"/>
<line x1="38.6" y1="88.3" x2="40.6" y2="88.3" stroke="#7a7a7a" stroke-width="0.8"/>
<line x1="38.6" y1="79.6" x2="40.6" y2="79.6" stroke="#7a7a7a" stroke-width="0.8"/>
<line x1="38.6" y1="70.9" x2="40.6" y2="70.9" stroke="#7a7a7a" stroke-width="0.8"/>
<line x1="38.6" y1="62.2" x2="40.6" y2="62.2" stroke="#7a7a7a" stroke-width="0.8"/>
<line x1="38.6" y1="53.5" x2="40.6" y2="53.5" stroke="#7a7a7a" stroke-width="0.8"/>
<line x1="38.6" y1="44.7" x2="40.6" y2="44.7" stroke="#7a7a7a" stroke-width="0.8"/>
<line x1="38.6" y1="36.0" x2="40.6" y2="36.0" stroke="#7a7a7a" stroke-width="0.8"/>
<line x1="38.6" y1="27.3" x2="40.6" y2="27.3" stroke="#7a7a7a" stroke-width="0.8"/>
<line x1="50.0" y1="149.3" x2="50.0" y2="147.3" stroke="#7a7a7a" stroke-width="0.8"/>
<line x1="61.3" y1="149.3" x2="61.3" y2="147.3" stroke="#7a7a7a" stroke-width="0.8"/>
<line x1="72.7" y1="149.3" x2="72.7" y2="147.3" stroke="#7a7a7a" stroke-width="0.8"/>
<line x1="84.1" y1="149.3" x2="84.1" y2="147.3" stroke="#7a7a7a" stroke-width="0.8"/>
<line x1="95.5" y1="149.3" x2="95.5" y2="147.3" stroke="#7a7a7a" stroke-width="0.8"/>
<line x1="106.8" y1="149.3" x2="106.8" y2="147.3" stroke="#7a7a7a" stroke-width="0.8"/>
<line x1="118.2" y1="149.3" x2="118.2" y2="147.3" stroke="#7a7a7a" stroke-width="0.8"/>
<line x1="129.6" y1="149.3" x2="129.6" y2="147.3" stroke="#7a7a7a" stroke-width="0.8"/>
<line x1="141.0" y1="149.3" x2="141.0" y2="147.3" stroke="#7a7a7a" stroke-width="0.8"/>
<line x1="152.3" y1="149.3" x2="152.3" y2="147.3" stroke="#7a7a7a" stroke-width="0.8"/>
<line x1="163.7" y1="149.3" x2="163.7" y2="147.3" stroke="#7a7a7a" stroke-width="0.8"/>
<line x1="175.1" y1="149.3" x2="175.1" y2="147.3" stroke="#7a7a7a" stroke-width="0.8"/>
<line x1="186.5" y1="149.3" x2="186.5" y2="147.3" stroke="#7a7a7a" stroke-width="0.8"/>
<line x1="197.8" y1="149.3" x2="197.8" y2="147.3" stroke="#7a7a7a" stroke-width="0.8"/>
<text x="31.2" y="151.9" text-anchor="end" font-size="7.7" fill="#262626">0</text>
<text x="31.2" y="108.3" text-anchor="end" font-size="7.7" fill="#262626">500</text>
<text x="31.2" y="64.8" text-anchor="end" font-size="7.7" fill="#262626">1000</text>
<text x="31.2" y="21.2" text-anchor="end" font-size="7.7" fill="#262626">1500</text>
<text x="38.6" y="161.1" text-anchor="middle" font-size="7.7" fill="#262626">0</text>
<text x="95.5" y="161.1" text-anchor="middle" font-size="7.7" fill="#262626">1000</text>
<text x="152.3" y="161.1" text-anchor="middle" font-size="7.7" fill="#262626">2000</text>
<text x="209.2" y="161.1" text-anchor="middle" font-size="7.7" fill="#262626">3000</text>
<text x="126.1" y="171.0" text-anchor="middle" font-size="8" fill="#262626">Time [s]</text>
<text transform="translate(12.8,83.4) rotate(-90)" text-anchor="middle" font-size="7.75" fill="#262626">Temperature (°C)</text>
<text x="4.8" y="10.9" font-size="9.6" font-weight="bold" fill="#222">(a)</text>
<rect x="118.6" y="19.2" width="90.0" height="39.5" fill="#fff"/>
<line x1="122.7" y1="26.9" x2="134.2" y2="26.9" stroke="#ff2230" stroke-width="1.5"/>
<text x="134.9" y="29.5" font-size="7.85" fill="#262626">Acetylene black</text>
<line x1="122.7" y1="35.9" x2="134.2" y2="35.9" stroke="#92d050" stroke-width="1.5"/>
<text x="134.9" y="38.5" font-size="7.85" fill="#262626">Activated carbon (K)</text>
<line x1="122.7" y1="44.6" x2="134.2" y2="44.6" stroke="#ffc000" stroke-width="1.5"/>
<text x="134.9" y="47.2" font-size="7.85" fill="#262626">Activated carbon (O)</text>
<line x1="122.7" y1="53.6" x2="134.2" y2="53.6" stroke="#00b0f0" stroke-width="1.5"/>
<text x="134.9" y="56.2" font-size="7.85" fill="#262626">Ketjenblack</text>
<line x1="316.1" y1="18.6" x2="316.1" y2="149.3" stroke="#dcdcdc" stroke-width="0.9"/>
<line x1="373.0" y1="18.6" x2="373.0" y2="149.3" stroke="#dcdcdc" stroke-width="0.9"/>
<line x1="259.3" y1="105.7" x2="429.8" y2="105.7" stroke="#dcdcdc" stroke-width="0.9"/>
<line x1="259.3" y1="62.2" x2="429.8" y2="62.2" stroke="#dcdcdc" stroke-width="0.9"/>
<line x1="259.3" y1="70.9" x2="429.8" y2="70.9" stroke="#6a6a6a" stroke-width="1" stroke-dasharray="2.2 1.3 0.9 1.6" stroke-dashoffset="1"/>
<path d="M259.30,141.40 C260.42,141.40 264.05,141.70 266.00,141.40 C267.95,141.10 268.97,140.70 271.00,139.60 C273.03,138.50 276.60,136.40 278.20,134.80 C279.80,133.20 279.40,131.30 280.60,130.00 C281.80,128.70 283.80,128.30 285.40,127.00 C287.00,125.70 288.60,123.50 290.20,122.20 C291.80,120.90 293.20,120.50 295.00,119.20 C296.80,117.90 299.33,115.87 301.00,114.40 C302.67,112.93 303.33,111.97 305.00,110.40 C306.67,108.83 309.00,106.70 311.00,105.00 C313.00,103.30 315.00,101.80 317.00,100.20 C319.00,98.60 321.00,96.80 323.00,95.40 C325.00,94.00 327.00,93.00 329.00,91.80 C331.00,90.60 333.00,89.60 335.00,88.20 C337.00,86.80 339.17,84.85 341.00,83.40 C342.83,81.95 344.50,80.57 346.00,79.50 C347.50,78.43 348.73,77.88 350.00,77.00 C351.27,76.12 352.50,75.07 353.60,74.20 C354.70,73.33 355.90,72.25 356.60,71.80 C357.30,71.35 357.60,71.55 357.80,71.50 C357.90,72.75 358.20,75.75 358.40,79.00 C358.60,82.25 358.70,87.50 359.00,91.00 C359.30,94.50 359.80,96.90 360.20,100.00 C360.60,103.10 360.80,107.00 361.40,109.60 C362.00,112.20 362.70,113.50 363.80,115.60 C364.90,117.70 366.30,120.00 368.00,122.20 C369.70,124.40 371.60,126.70 374.00,128.80 C376.40,130.90 379.57,133.33 382.40,134.80 C385.23,136.27 388.57,136.83 391.00,137.60 C393.43,138.37 394.43,138.78 397.00,139.40 C399.57,140.02 404.83,140.98 406.40,141.30" fill="none" stroke="#92d050" stroke-width="1.5" stroke-linejoin="round" stroke-linecap="round"/>
<path d="M259.30,146.50 L259.30,141.40 C261.85,141.40 271.05,141.90 274.60,141.40 C278.15,140.90 278.80,139.30 280.60,138.40 C282.40,137.50 283.40,137.00 285.40,136.00 C287.40,135.00 290.40,133.50 292.60,132.40 C294.80,131.30 296.80,130.40 298.60,129.40 C300.40,128.40 302.17,127.50 303.40,126.40 C304.63,125.30 304.73,124.57 306.00,122.80 C307.27,121.03 309.17,117.97 311.00,115.80 C312.83,113.63 315.00,111.40 317.00,109.80 C319.00,108.20 321.00,107.40 323.00,106.20 C325.00,105.00 327.00,103.80 329.00,102.60 C331.00,101.40 333.00,99.90 335.00,99.00 C337.00,98.10 339.00,97.90 341.00,97.20 C343.00,96.50 345.50,95.53 347.00,94.80 C348.50,94.07 348.50,93.63 350.00,92.80 C351.50,91.97 354.00,91.10 356.00,89.80 C358.00,88.50 360.00,86.30 362.00,85.00 C364.00,83.70 366.00,82.80 368.00,82.00 C370.00,81.20 372.00,80.90 374.00,80.20 C376.00,79.50 378.40,78.60 380.00,77.80 C381.60,77.00 382.40,76.20 383.60,75.40 C384.80,74.60 386.00,73.70 387.20,73.00 C388.40,72.30 389.95,71.60 390.80,71.20 C391.65,70.80 392.05,70.70 392.30,70.60 C392.45,72.00 392.85,74.10 393.20,79.00 C393.55,83.90 393.87,94.90 394.40,100.00 C394.93,105.10 395.57,106.80 396.40,109.60 C397.23,112.40 398.10,114.40 399.40,116.80 C400.70,119.20 402.40,121.90 404.20,124.00 C406.00,126.10 408.00,127.80 410.20,129.40 C412.40,131.00 415.00,132.40 417.40,133.60 C419.80,134.80 422.60,135.77 424.60,136.60 C426.60,137.43 428.60,138.27 429.40,138.60" fill="none" stroke="#ffc000" stroke-width="1.5" stroke-linejoin="round" stroke-linecap="round"/>
<path d="M259.30,141.40 C260.25,141.40 263.45,141.80 265.00,141.40 C266.55,141.00 267.60,139.60 268.60,139.00 C269.60,138.40 270.30,138.30 271.00,137.80 C271.70,137.30 271.80,136.90 272.80,136.00 C273.80,135.10 275.70,133.60 277.00,132.40 C278.30,131.20 279.40,130.20 280.60,128.80 C281.80,127.40 283.00,125.10 284.20,124.00 C285.40,122.90 286.60,122.90 287.80,122.20 C289.00,121.50 290.20,121.00 291.40,119.80 C292.60,118.60 293.80,116.70 295.00,115.00 C296.20,113.30 297.20,111.30 298.60,109.60 C300.00,107.90 302.33,105.87 303.40,104.80 C304.47,103.73 303.73,104.47 305.00,103.20 C306.27,101.93 309.00,98.70 311.00,97.20 C313.00,95.70 315.00,95.10 317.00,94.20 C319.00,93.30 321.00,92.60 323.00,91.80 C325.00,91.00 327.00,90.20 329.00,89.40 C331.00,88.60 333.00,88.00 335.00,87.00 C337.00,86.00 339.00,84.30 341.00,83.40 C343.00,82.50 345.50,82.23 347.00,81.60 C348.50,80.97 348.70,80.43 350.00,79.60 C351.30,78.77 353.00,77.50 354.80,76.60 C356.60,75.70 358.80,75.20 360.80,74.20 C362.80,73.20 365.00,71.80 366.80,70.60 C368.60,69.40 370.40,67.90 371.60,67.00 C372.80,66.10 372.80,65.70 374.00,65.20 C375.20,64.70 377.20,64.47 378.80,64.00 C380.40,63.53 382.60,62.67 383.60,62.40 C384.60,62.13 384.60,62.40 384.80,62.40 C384.90,65.17 385.17,73.40 385.40,79.00 C385.63,84.60 385.67,91.07 386.20,96.00 C386.73,100.93 387.60,104.83 388.60,108.60 C389.60,112.37 390.80,115.77 392.20,118.60 C393.60,121.43 395.20,123.60 397.00,125.60 C398.80,127.60 401.00,129.27 403.00,130.60 C405.00,131.93 406.80,132.60 409.00,133.60 C411.20,134.60 413.80,135.70 416.20,136.60 C418.60,137.50 421.20,138.33 423.40,139.00 C425.60,139.67 428.40,140.33 429.40,140.60" fill="none" stroke="#00b0f0" stroke-width="1.5" stroke-linejoin="round" stroke-linecap="round"/>
<path d="M259.30,141.40 C260.25,141.40 263.15,142.10 265.00,141.40 C266.85,140.70 269.10,138.50 270.40,137.20 C271.70,135.90 271.70,134.70 272.80,133.60 C273.90,132.50 275.70,131.50 277.00,130.60 C278.30,129.70 279.20,129.30 280.60,128.20 C282.00,127.10 283.80,125.20 285.40,124.00 C287.00,122.80 288.60,122.00 290.20,121.00 C291.80,120.00 293.40,119.30 295.00,118.00 C296.60,116.70 298.13,114.60 299.80,113.20 C301.47,111.80 303.13,111.07 305.00,109.60 C306.87,108.13 309.00,105.67 311.00,104.40 C313.00,103.13 315.00,102.90 317.00,102.00 C319.00,101.10 321.00,100.00 323.00,99.00 C325.00,98.00 327.00,97.00 329.00,96.00 C331.00,95.00 333.00,94.10 335.00,93.00 C337.00,91.90 339.00,90.40 341.00,89.40 C343.00,88.40 345.50,87.63 347.00,87.00 C348.50,86.37 348.50,86.33 350.00,85.60 C351.50,84.87 354.00,83.40 356.00,82.60 C358.00,81.80 360.00,81.60 362.00,80.80 C364.00,80.00 366.00,78.70 368.00,77.80 C370.00,76.90 372.00,76.40 374.00,75.40 C376.00,74.40 378.40,72.80 380.00,71.80 C381.60,70.80 382.40,70.10 383.60,69.40 C384.80,68.70 386.00,68.10 387.20,67.60 C388.40,67.10 389.40,66.90 390.80,66.40 C392.20,65.90 393.90,65.27 395.60,64.60 C397.30,63.93 400.10,62.77 401.00,62.40 C401.10,64.17 401.30,68.83 401.60,73.00 C401.90,77.17 402.47,82.90 402.80,87.40 C403.13,91.90 403.07,96.30 403.60,100.00 C404.13,103.70 405.10,106.80 406.00,109.60 C406.90,112.40 407.70,114.40 409.00,116.80 C410.30,119.20 412.00,121.80 413.80,124.00 C415.60,126.20 417.80,128.40 419.80,130.00 C421.80,131.60 424.20,132.73 425.80,133.60 C427.40,134.47 428.80,134.93 429.40,135.20" fill="none" stroke="#ff2230" stroke-width="1.5" stroke-linejoin="round" stroke-linecap="round"/>
<line x1="350.4" y1="63.2" x2="353.6" y2="66.5" stroke="#555" stroke-width="0.6"/>
<polygon points="355.9,69.0 352.4,67.7 354.8,65.4" fill="#000"/>
<line x1="359.6" y1="63.7" x2="362.8" y2="67.0" stroke="#555" stroke-width="0.6"/>
<polygon points="365.1,69.5 361.6,68.2 364.0,65.9" fill="#000"/>
<line x1="369.6" y1="62.8" x2="372.7" y2="66.1" stroke="#555" stroke-width="0.6"/>
<polygon points="375.0,68.6 371.5,67.2 373.9,65.0" fill="#000"/>
<line x1="386.6" y1="63.0" x2="389.7" y2="66.5" stroke="#555" stroke-width="0.6"/>
<polygon points="392.0,69.0 388.5,67.6 391.0,65.4" fill="#000"/>
<rect x="259.3" y="18.6" width="170.5" height="130.7" fill="none" stroke="#7a7a7a" stroke-width="1"/>
<line x1="259.3" y1="140.6" x2="261.3" y2="140.6" stroke="#7a7a7a" stroke-width="0.8"/>
<line x1="259.3" y1="131.9" x2="261.3" y2="131.9" stroke="#7a7a7a" stroke-width="0.8"/>
<line x1="259.3" y1="123.2" x2="261.3" y2="123.2" stroke="#7a7a7a" stroke-width="0.8"/>
<line x1="259.3" y1="114.4" x2="261.3" y2="114.4" stroke="#7a7a7a" stroke-width="0.8"/>
<line x1="259.3" y1="105.7" x2="261.3" y2="105.7" stroke="#7a7a7a" stroke-width="0.8"/>
<line x1="259.3" y1="97.0" x2="261.3" y2="97.0" stroke="#7a7a7a" stroke-width="0.8"/>
<line x1="259.3" y1="88.3" x2="261.3" y2="88.3" stroke="#7a7a7a" stroke-width="0.8"/>
<line x1="259.3" y1="79.6" x2="261.3" y2="79.6" stroke="#7a7a7a" stroke-width="0.8"/>
<line x1="259.3" y1="70.9" x2="261.3" y2="70.9" stroke="#7a7a7a" stroke-width="0.8"/>
<line x1="259.3" y1="62.2" x2="261.3" y2="62.2" stroke="#7a7a7a" stroke-width="0.8"/>
<line x1="259.3" y1="53.5" x2="261.3" y2="53.5" stroke="#7a7a7a" stroke-width="0.8"/>
<line x1="259.3" y1="44.7" x2="261.3" y2="44.7" stroke="#7a7a7a" stroke-width="0.8"/>
<line x1="259.3" y1="36.0" x2="261.3" y2="36.0" stroke="#7a7a7a" stroke-width="0.8"/>
<line x1="259.3" y1="27.3" x2="261.3" y2="27.3" stroke="#7a7a7a" stroke-width="0.8"/>
<line x1="270.7" y1="149.3" x2="270.7" y2="147.3" stroke="#7a7a7a" stroke-width="0.8"/>
<line x1="282.0" y1="149.3" x2="282.0" y2="147.3" stroke="#7a7a7a" stroke-width="0.8"/>
<line x1="293.4" y1="149.3" x2="293.4" y2="147.3" stroke="#7a7a7a" stroke-width="0.8"/>
<line x1="304.8" y1="149.3" x2="304.8" y2="147.3" stroke="#7a7a7a" stroke-width="0.8"/>
<line x1="316.1" y1="149.3" x2="316.1" y2="147.3" stroke="#7a7a7a" stroke-width="0.8"/>
<line x1="327.5" y1="149.3" x2="327.5" y2="147.3" stroke="#7a7a7a" stroke-width="0.8"/>
<line x1="338.9" y1="149.3" x2="338.9" y2="147.3" stroke="#7a7a7a" stroke-width="0.8"/>
<line x1="350.2" y1="149.3" x2="350.2" y2="147.3" stroke="#7a7a7a" stroke-width="0.8"/>
<line x1="361.6" y1="149.3" x2="361.6" y2="147.3" stroke="#7a7a7a" stroke-width="0.8"/>
<line x1="373.0" y1="149.3" x2="373.0" y2="147.3" stroke="#7a7a7a" stroke-width="0.8"/>
<line x1="384.3" y1="149.3" x2="384.3" y2="147.3" stroke="#7a7a7a" stroke-width="0.8"/>
<line x1="395.7" y1="149.3" x2="395.7" y2="147.3" stroke="#7a7a7a" stroke-width="0.8"/>
<line x1="407.1" y1="149.3" x2="407.1" y2="147.3" stroke="#7a7a7a" stroke-width="0.8"/>
<line x1="418.4" y1="149.3" x2="418.4" y2="147.3" stroke="#7a7a7a" stroke-width="0.8"/>
<text x="251.9" y="151.9" text-anchor="end" font-size="7.7" fill="#262626">0</text>
<text x="251.9" y="108.3" text-anchor="end" font-size="7.7" fill="#262626">500</text>
<text x="251.9" y="64.8" text-anchor="end" font-size="7.7" fill="#262626">1000</text>
<text x="251.9" y="21.2" text-anchor="end" font-size="7.7" fill="#262626">1500</text>
<text x="259.3" y="161.1" text-anchor="middle" font-size="7.7" fill="#262626">0</text>
<text x="316.1" y="161.1" text-anchor="middle" font-size="7.7" fill="#262626">1000</text>
<text x="373.0" y="161.1" text-anchor="middle" font-size="7.7" fill="#262626">2000</text>
<text x="429.8" y="161.1" text-anchor="middle" font-size="7.7" fill="#262626">3000</text>
<text x="346.8" y="171.0" text-anchor="middle" font-size="8" fill="#262626">Time [s]</text>
<text transform="translate(233.5,83.4) rotate(-90)" text-anchor="middle" font-size="7.75" fill="#262626">Temperature (°C)</text>
<text x="225.5" y="10.9" font-size="9.6" font-weight="bold" fill="#222">(b)</text>
<rect x="339.3" y="19.2" width="89.9" height="39.5" fill="#fff"/>
<line x1="343.4" y1="26.9" x2="354.9" y2="26.9" stroke="#ff2230" stroke-width="1.5"/>
<text x="355.6" y="29.5" font-size="7.85" fill="#262626">Acetylene black</text>
<line x1="343.4" y1="35.9" x2="354.9" y2="35.9" stroke="#92d050" stroke-width="1.5"/>
<text x="355.6" y="38.5" font-size="7.85" fill="#262626">Activated carbon (K)</text>
<line x1="343.4" y1="44.6" x2="354.9" y2="44.6" stroke="#ffc000" stroke-width="1.5"/>
<text x="355.6" y="47.2" font-size="7.85" fill="#262626">Activated carbon (O)</text>
<line x1="343.4" y1="53.6" x2="354.9" y2="53.6" stroke="#00b0f0" stroke-width="1.5"/>
<text x="355.6" y="56.2" font-size="7.85" fill="#262626">Ketjenblack</text>
<polyline points="44.4,211.5 132.5,197.8 231.4,210.0" fill="none" stroke="#d6d6d6" stroke-width="0.6"/>
<polyline points="45.0,228.2 132.5,211.9 230.8,225.8" fill="none" stroke="#d6d6d6" stroke-width="0.6"/>
<polyline points="45.7,244.6 132.5,225.9 230.1,241.4" fill="none" stroke="#d6d6d6" stroke-width="0.6"/>
<polyline points="46.3,260.8 132.5,239.7 229.5,256.9" fill="none" stroke="#d6d6d6" stroke-width="0.6"/>
<polyline points="46.9,276.7 132.6,253.3 228.8,272.1" fill="none" stroke="#d6d6d6" stroke-width="0.6"/>
<polyline points="47.5,292.4 132.6,266.7 228.2,287.1" fill="none" stroke="#d6d6d6" stroke-width="0.6"/>
<polyline points="48.1,308.0 132.6,280.0 227.6,301.9" fill="none" stroke="#d6d6d6" stroke-width="0.6"/>
<polyline points="48.7,323.2 132.6,293.1 227.0,316.5" fill="none" stroke="#d6d6d6" stroke-width="0.6"/>
<polyline points="49.3,338.3 132.6,306.1 226.3,330.9" fill="none" stroke="#d6d6d6" stroke-width="0.6"/>
<line x1="85.9" y1="324.2" x2="83.3" y2="205.5" stroke="#d6d6d6" stroke-width="0.6"/>
<line x1="114.2" y1="313.2" x2="113.2" y2="200.8" stroke="#d6d6d6" stroke-width="0.6"/>
<line x1="156.7" y1="312.5" x2="157.8" y2="200.9" stroke="#d6d6d6" stroke-width="0.6"/>
<line x1="182.4" y1="319.3" x2="184.9" y2="204.3" stroke="#d6d6d6" stroke-width="0.6"/>
<line x1="209.8" y1="326.6" x2="213.9" y2="207.8" stroke="#d6d6d6" stroke-width="0.6"/>
<polyline points="44.4,211.5 132.5,197.8 231.4,210.0 226.3,330.9" fill="none" stroke="#bdbdbd" stroke-width="0.7"/>
<line x1="132.5" y1="197.8" x2="132.6" y2="306.1" stroke="#cfcfcf" stroke-width="0.6"/>
<polygon points="149.9,373.0 49.3,338.3 132.6,306.1 226.3,330.9" fill="#f01e16"/>
<g transform="scale(.1)">
<path d="M1480 3724l-91-31 7-4 91 31zM1197 3626l-37-12 7-4 37 13zM1005 3560l-18-6 7-4 18 7zM932 3535l-9-3 7-4 9 3zM740 3469l-55-19 7-3 55 18zM603 3421l-74-25 8-3 73 25zM520 3393l-27-10 7-3 28 10zM1460 3711l-64-22 7-4 64 22zM1213 3626l-46-16 8-3 45 15zM747 3465l-36-12 7-3 37 12zM619 3421l-36-12 7-3 37 12zM564 3402l-18-6 8-3 18 6zM528 3390l-28-10 8-2 27 9zM1458 3704l-55-19 7-4 55 19zM1220 3622l-55-19 8-3 54 19zM946 3528l-9-3 7-3 10 3zM764 3465l-28-9 8-3 27 9zM517 3381l-9-3 8-3 9 3zM1456 3697l-46-16 7-3 46 15zM1328 3653l-9-3 7-4 9 3zM1227 3619l-54-19 7-4 55 19zM981 3534l-9-3 7-3 9 3zM789 3468l-27-9 7-3 28 9zM1453 3690l-36-12 7-4 36 12zM1225 3612l-45-16 7-3 46 15zM1451 3683l-27-9 7-4 27 9zM1333 3643l-9-3 7-4 9 3zM1032 3540l-9-3 7-4 9 4zM968 3518l-9-3 7-3 10 3zM704 3428l-9-3 7-3 9 3zM1513 3698l-9-3 7-4 9 3zM1449 3676l-18-6 7-4 18 7zM1340 3639l-9-3 7-4 9 3zM1285 3620l-18-6 7-3 18 6zM1039 3537l-9-4 7-3 10 3zM976 3515l-10-3 8-4 9 4zM720 3428l-27-9 8-3 27 9zM575 3378l-9-3 7-3 9 3zM1529 3697l-27-9 7-4 27 10zM1456 3673l-18-7 7-3 18 6zM1347 3635l-9-3 7-3 9 3zM1301 3620l-27-9 7-4 28 9zM1065 3539l-28-9 8-3 27 9zM983 3512l-9-4 7-3 9 3zM728 3425l-27-9 7-4 27 10zM582 3375l-9-3 8-3 9 3zM1545 3697l-36-13 7-3 36 12zM1472 3672l-36-12 7-4 36 12zM1309 3616l-37-12 7-4 37 13zM1072 3536l-9-3 7-3 9 3zM1054 3530l-9-3 7-4 9 3zM990 3508l-9-3 7-3 9 3zM599 3375l-27-9 7-3 27 9zM1561 3696l-45-15 7-4 45 15zM1479 3668l-36-12 7-4 36 12zM1334 3619l-55-19 7-3 55 18zM1170 3563l-18-6 7-3 18 6zM1007 3508l-19-6 8-4 18 7zM625 3379l-55-19 8-3 54 19zM1568 3692l-54-18 7-4 54 18zM1486 3664l-45-15 7-4 45 16zM1341 3615l-64-21 7-4 64 22zM1205 3569l-46-15 7-4 46 16zM1050 3517l-54-19 7-3 54 19zM623 3373l-54-19 7-3 55 19zM1575 3688l-54-18 7-4 54 18zM1493 3661l-18-6 7-4 18 6zM1457 3648l-9-3 7-3 9 3zM1348 3612l-45-16 7-3 45 15zM1212 3566l-46-16 8-3 45 15zM1048 3511l-45-16 7-3 46 15zM1582 3684l-45-15 7-4 45 16zM1500 3657l-18-6 7-4 18 6zM1464 3645l-9-3 7-4 9 3zM1355 3608l-45-15 7-4 45 15zM1210 3559l-9-3 7-3 9 3zM1183 3550l-9-3 7-4 9 3zM1028 3498l-18-6 8-3 18 6zM638 3367l-9-4 8-2 9 3zM602 3354l-9-3 7-3 9 3zM1589 3681l-9-3 7-4 9 3zM1507 3653l-27-9 7-4 27 9zM1471 3641l-9-3 7-4 9 3zM1353 3601l-45-15 7-3 45 15zM1172 3540l-27-9 7-3 27 9zM1036 3495l-73-25 8-3 72 24zM936 3461l-82-27 8-3 81 27zM800 3415l-9-3 7-3 9 3zM727 3391l-9-3 8-3 9 3zM637 3361l-28-10 8-3 27 10zM1514 3649l-45-15 7-3 45 15zM1351 3595l-36-12 7-4 36 12zM1179 3537l-36-12 7-4 36 12zM1097 3510l-9-3 8-4 9 3zM1043 3491l-54-18 7-3 54 18zM925 3452l-63-21 7-4 64 22zM816 3415l-36-12 8-3 36 12zM735 3388l-9-3 7-3 9 3zM644 3358l-27-10 8-3 27 10zM1521 3646l-45-15 7-4 45 15zM1195 3537l-45-16 7-3 45 15zM1114 3509l-18-6 7-3 18 6zM1023 3479l-18-6 7-3 18 6zM978 3464l-18-6 7-4 18 6zM923 3446l-18-7 8-3 18 6zM869 3427l-18-6 7-3 19 6zM824 3412l-36-12 7-3 36 12zM652 3355l-18-6 7-3 18 6zM1592 3663l-100-33 7-4 100 33zM1230 3542l-9-3 7-3 9 3zM1212 3536l-46-15 7-3 46 15zM1012 3470l-9-3 8-4 9 3zM976 3457l-9-3 7-3 9 3zM931 3442l-18-6 7-3 18 6zM877 3424l-19-6 8-3 18 6zM831 3409l-36-12 8-3 36 12zM659 3352l-18-6 8-3 18 6zM1608 3662l-100-33 7-4 100 33zM1246 3542l-73-24 8-4 72 24zM1092 3490l-9-3 7-3 9 3zM938 3439l-45-15 7-3 46 15zM884 3421l-18-6 7-3 18 6zM821 3400l-46-15 8-3 45 15zM667 3349l-18-6 7-3 18 6zM1615 3658l-64-21 7-3 64 21zM1542 3634l-27-9 7-3 27 9zM1298 3553l-18-6 7-3 18 6zM1253 3538l-72-24 7-3 72 24zM1108 3490l-18-6 8-3 18 6zM946 3436l-9-3 7-3 9 3zM909 3424l-27-9 8-3 27 9zM828 3397l-45-15 7-3 46 15zM674 3346l-18-6 8-3 18 6zM1622 3655l-100-33 7-4 100 33zM1260 3535l-72-24 7-4 72 24zM1107 3484l-9-3 7-4 9 3zM989 3445l-9-3 7-4 9 3zM926 3424l-45-15 7-3 45 14zM845 3397l-9-3 7-3 9 3zM682 3343l-18-6 7-3 18 6zM1638 3654l-109-36 7-4 109 36zM996 3441l-9-3 8-3 9 3zM933 3420l-45-14 8-4 45 15zM689 3340l-18-6 8-3 18 6zM1645 3650l-109-36 7-4 109 36zM1193 3501l-63-21 7-3 64 20zM941 3417l-45-15 7-3 45 15zM697 3337l-27-9 7-3 28 9zM1652 3646l-27-9 6-4 28 9zM1616 3634l-73-24 7-3 72 23zM1201 3497l-64-20 8-4 63 21zM948 3414l-45-15 7-3 45 15zM705 3334l-9-3 7-3 9 3zM1659 3642l-18-6 6-3 18 6zM1577 3616l-27-9 7-4 27 9zM1172 3482l-18-6 7-3 18 6zM1055 3444l-72-24 7-3 72 23zM955 3411l-54-18 8-3 54 18zM1665 3639l-18-6 7-4 18 6zM1575 3609l-18-6 7-4 18 6zM1080 3446l-90-29 7-4 90 30zM954 3405l-54-18 7-3 54 18zM765 3343l-45-15 7-3 45 15zM1672 3635l-18-6 7-4 18 6zM1087 3443l-90-30 8-3 90 30zM925 3390l-27-9 8-3 27 9zM835 3360l-36-12 8-3 36 12zM772 3340l-45-15 8-3 45 15zM1679 3631l-18-6 7-4 18 6zM1589 3601l-9-2 7-4 9 3zM1095 3440l-90-30 7-3 90 29zM924 3384l-9-3 7-3 9 3zM843 3357l-9-3 7-3 9 3zM816 3348l-9-3 7-3 9 3zM798 3343l-63-21 7-3 63 20zM699 3310l-9-3 7-3 9 3zM1605 3601l-36-12 7-4 36 12zM1111 3439l-108-35 7-3 108 35zM958 3389l-18-6 7-3 18 6zM868 3360l-9-3 8-3 9 3zM814 3342l-63-20 8-3 63 20zM1666 3614l-90-29 8-4 89 30zM1559 3579l-18-6 7-3 18 6zM1118 3436l-36-12 8-3 36 12zM1046 3413l-54-18 8-3 54 17zM974 3389l-18-6 8-3 18 6zM822 3339l-36-11 7-3 36 11zM1673 3611l-152-50 7-4 152 50zM1126 3433l-36-12 7-3 36 11zM1054 3409l-90-29 7-3 90 29zM829 3336l-36-11 8-3 36 11zM1689 3610l-116-38 7-4 116 38zM1133 3429l-36-11 7-4 36 12zM1061 3406l-27-9 8-3 26 9zM998 3386l-27-9 8-3 27 8zM828 3330l-18-5 7-3 18 5zM1714 3612l-54-18 7-3 54 17zM1633 3586l-26-9 7-4 26 9zM1149 3429l-36-12 8-3 35 12zM1721 3608l-45-15 7-3 45 14zM1631 3579l-17-6 7-4 17 6zM1479 3530l-27-9 7-3 27 8zM1174 3431l-9-2 8-4 9 3zM1156 3426l-9-3 8-4 9 3zM879 3336l-18-6 7-3 18 6zM1728 3604l-45-14 7-4 45 14zM1638 3575l-8-3 7-3 9 2zM1504 3532l-63-20 8-4 62 20zM1182 3428l-27-9 7-3 27 9zM886 3333l-18-6 8-3 18 6zM1735 3600l-45-14 7-4 45 14zM1681 3583l-9-3 7-4 9 3zM1520 3531l-80-26 7-3 80 26zM1198 3428l-18-6 7-3 18 5zM1171 3419l-9-3 7-3 9 3zM1742 3596l-45-14 7-4 45 15zM1679 3576l-18-5 7-4 18 6zM1536 3530l-89-28 7-4 89 29zM1384 3482l-9-3 7-4 9 3zM1357 3473l-18-6 8-3 17 6zM1295 3453l-18-6 7-3 18 6zM1749 3593l-45-15 7-3 45 14zM1686 3573l-18-6 7-4 18 6zM1561 3533l-107-35 7-3 107 34zM1391 3478l-9-3 8-3 8 3zM1364 3470l-17-6 7-4 18 6zM1311 3452l-27-8 7-4 27 9zM1756 3589l-54-17 7-4 54 17zM1693 3569l-18-6 7-4 18 6zM1568 3529l-89-29 7-3 89 28zM1381 3469l-27-9 7-3 27 8zM1309 3446l-27-8 8-4 26 9zM1193 3409l-9-3 7-3 9 3zM1763 3585l-63-20 7-4 63 20zM1575 3525l-35-11 7-4 35 12zM1316 3443l-26-9 7-3 27 8zM1209 3409l-9-3 8-4 9 3zM932 3320l-9-2 8-4 9 3zM1770 3581l-54-17 7-4 54 17zM1689 3556l-71-23 7-4 71 23zM1600 3527l-44-14 7-4 44 15zM1449 3479l-9-3 7-3 9 2zM1315 3436l-54-17 7-3 54 17zM1768 3574l-36-11 7-4 36 12zM1696 3552l-124-40 7-3 124 39zM1465 3478l-18-5 7-4 18 6zM1322 3433l-54-17 8-3 53 17zM805 3269l-9-3 7-3 9 3zM1775 3571l-36-12 7-3 36 11zM1695 3545l-116-36 7-4 116 37zM1472 3475l-18-6 7-3 18 5zM1311 3424l-26-8 7-4 27 9zM991 3322l-27-8 7-3 27 8zM1791 3570l-9-3 7-4 9 3zM1666 3530l-27-8 7-4 27 9zM1621 3516l-35-11 7-4 35 12zM1479 3471l-18-5 7-4 18 6zM989 3317l-44-15 7-3 45 14zM1798 3566l-9-3 7-4 9 3zM1620 3510l-27-9 7-3 27 8zM1450 3456l-8-2 7-4 9 3zM1424 3448l-27-8 7-4 27 9zM997 3313l-63-19 8-3 62 19zM854 3269l-9-3 8-3 9 3zM1805 3562l-9-3 7-4 9 3zM1636 3509l-36-11 7-4 36 11zM1458 3453l-18-6 7-3 18 5zM1431 3445l-27-9 7-3 27 8zM1004 3310l-62-19 7-3 62 19zM871 3268l-27-8 7-3 27 8zM1687 3519l-80-25 7-4 80 25zM1491 3458l-8-3 7-4 9 3zM1456 3447l-27-9 7-3 27 8zM1420 3436l-9-3 8-4 9 3zM1011 3307l-62-19 8-3 62 19zM878 3265l-27-8 8-3 27 8zM1703 3518l-18-5 7-4 18 5zM1676 3510l-53-17 7-3 53 16zM1508 3457l-18-6 7-3 18 6zM1454 3440l-18-5 8-4 17 6zM1019 3304l-45-14 8-3 44 14zM886 3262l-45-13 8-3 44 14zM1808 3545l-27-8 7-4 27 8zM1710 3514l-18-5 7-4 18 6zM1674 3503l-35-11 7-3 36 11zM1213 3359l-9-2 7-4 9 3zM1009 3296l-18-6 7-3 18 5zM875 3254l-26-8 7-3 27 8zM1815 3541l-27-8 7-4 27 8zM1717 3511l-18-6 7-3 18 5zM1690 3502l-44-13 7-4 44 14zM1522 3450l-9-3 7-3 9 2zM1220 3356l-9-3 8-3 8 3zM883 3251l-27-8 8-3 27 8zM1839 3543l-9-3 7-4 9 3zM1715 3504l-71-22 7-3 71 22zM1538 3449l-44-14 7-3 44 14zM873 3243l-9-3 8-3 8 3zM1846 3539l-9-3 7-4 9 3zM1802 3525l-9-2 7-4 9 3zM1678 3487l-62-19 7-4 62 19zM1545 3446l-35-11 7-4 35 11zM1448 3415l-18-5 7-4 18 6zM880 3240l-8-3 7-3 9 3zM1853 3535l-17-5 6-4 18 5zM1809 3522l-9-3 7-4 9 3zM1676 3480l-18-5 7-4 18 6zM1641 3469l-27-8 7-3 27 8zM1561 3445l-18-6 7-3 18 5zM1472 3417l-53-16 8-3 53 16zM1180 3327l-18-5 8-4 18 6zM897 3239l-9-2 7-3 9 2zM1860 3531l-26-8 7-4 26 9zM1816 3518l-35-11 7-4 35 11zM1683 3477l-26-8 7-4 26 8zM1648 3466l-18-6 7-3 18 5zM1577 3444l-27-8 8-4 26 8zM1488 3417l-53-17 8-3 53 16zM1179 3321l-9-3 7-3 9 3zM904 3236l-17-5 7-3 18 6zM1867 3528l-18-6 7-4 18 6zM1823 3514l-62-19 7-4 62 19zM1717 3481l-36-11 7-3 36 11zM1584 3440l-26-8 7-3 26 8zM1496 3413l-45-13 8-4 44 14zM921 3236l-27-8 8-3 26 8zM1874 3524l-18-6 7-4 18 6zM1830 3510l-71-22 7-3 71 21zM1724 3478l-27-9 7-3 27 8zM1591 3437l-26-8 7-4 26 8zM1503 3410l-36-11 8-4 35 11zM1432 3388l-18-5 8-4 17 6zM937 3236l-35-11 7-3 36 11zM1881 3520l-9-3 7-4 9 3zM1837 3506l-71-21 7-4 71 22zM1713 3468l-9-2 7-4 9 3zM1598 3433l-8-2 7-4 9 3zM1510 3406l-35-11 7-3 35 11zM1439 3385l-17-6 7-3 18 5zM945 3233l-36-11 8-3 35 11zM1888 3516l-9-3 7-3 9 2zM1835 3500l-71-22 7-3 71 21zM1720 3465l-35-11 7-4 35 11zM1517 3403l-9-3 8-3 8 2zM1500 3397l-36-10 7-4 36 11zM1455 3384l-26-8 7-4 27 8zM1886 3510l-35-11 7-4 35 11zM1816 3488l-71-21 7-4 71 21zM1727 3461l-61-19 7-3 61 18zM1533 3402l-9-3 8-3 8 2zM1498 3391l-44-13 7-4 44 14zM1893 3506l-35-11 7-4 35 11zM1823 3484l-71-21 7-4 71 22zM1734 3457l-70-21 7-4 70 22zM1593 3415l-17-6 7-3 17 5zM1488 3382l-27-8 7-3 27 8zM1091 3262l-35-11 7-3 35 11zM1909 3505l-44-14 7-4 44 14zM1830 3481l-71-22 7-4 71 22zM1733 3451l-62-19 7-3 62 18zM1495 3379l-27-8 8-4 26 8zM1098 3259l-35-11 8-3 35 11zM1916 3501l-44-14 7-3 44 13zM1828 3474l-53-16 7-4 53 16zM1740 3447l-36-10 8-4 35 11zM1502 3375l-18-5 8-3 17 5zM1123 3261l-8-3 7-3 9 3zM1106 3256l-9-3 7-3 9 2zM1923 3497l-27-8 7-4 27 8zM1747 3444l-35-11 7-3 35 10zM1509 3372l-17-5 7-4 17 6zM1474 3361l-18-5 8-3 17 5zM1254 3295l-44-13 7-3 44 13zM1192 3276l-88-26 8-3 88 26zM1008 3221l-9-3 7-3 9 3zM1930 3493l-27-8 7-4 27 8zM1754 3440l-27-8 8-3 26 7zM1472 3355l-8-2 7-4 9 3zM1270 3294l-53-15 8-4 53 16zM1200 3273l-88-26 7-3 88 26zM1015 3218l-35-11 8-3 35 11zM1937 3489l-71-21 7-4 71 21zM1814 3452l-9-2 7-4 9 3zM1453 3344l-17-5 7-4 18 6zM1278 3291l-9-2 7-4 9 3zM1260 3286l-35-11 7-3 35 11zM1207 3270l-70-21 7-3 71 21zM1031 3217l-17-5 7-3 18 5zM988 3204l-18-5 8-3 17 5zM1944 3485l-132-39 7-4 132 40zM1461 3341l-18-6 7-3 18 5zM1311 3296l-17-5 7-4 18 6zM1250 3277l-35-10 7-3 35 10zM1180 3256l-9-2 7-3 9 2zM1057 3220l-36-11 8-3 35 11zM995 3201l-17-5 7-3 18 5zM1951 3482l-150-45 7-4 150 45zM1661 3395l-9-3 7-3 9 2zM1503 3348l-18-5 8-4 17 5zM1468 3337l-18-5 8-3 17 5zM1310 3290l-18-5 8-3 17 5zM1248 3272l-8-3 7-3 9 2zM1064 3217l-26-8 7-3 27 8zM1003 3198l-18-5 8-3 17 5zM1958 3478l-141-42 7-4 140 42zM1677 3394l-18-5 7-4 18 6zM1572 3363l-9-3 7-3 9 2zM1510 3344l-17-5 7-3 17 5zM1475 3334l-17-5 7-4 17 6zM1317 3287l-17-5 7-4 18 6zM1072 3214l-27-8 8-3 26 8zM1010 3195l-17-5 7-3 18 5zM1956 3471l-44-13 7-3 44 13zM1886 3451l-62-19 7-3 62 18zM1693 3393l-27-8 8-3 26 8zM1579 3359l-9-2 7-4 9 3zM1526 3344l-17-6 7-3 17 5zM1482 3331l-17-6 7-3 18 5zM1316 3281l-9-3 7-3 9 3zM1263 3265l-9-2 8-3 9 2zM1018 3192l-18-5 8-3 17 5zM1858 3436l-44-13 7-3 44 13zM1700 3390l-26-8 7-4 26 8zM1568 3351l-61-19 7-3 62 18zM1490 3327l-9-2 7-4 9 3zM1314 3275l-8-2 7-4 9 3zM1279 3265l-17-5 7-4 18 6zM1017 3187l-9-3 7-3 9 3zM1838 3425l-17-5 7-4 17 5zM1716 3389l-27-8 8-4 26 8zM1584 3350l-96-29 7-3 97 28zM1348 3280l-9-3 8-3 8 2zM1322 3272l-18-5 8-3 17 5zM1287 3262l-26-8 7-3 26 7zM1155 3223l-26-8 8-3 26 8zM1723 3385l-26-8 7-3 26 7zM1592 3346l-97-28 8-4 96 29zM1355 3276l-8-2 7-3 9 2zM1329 3269l-61-18 7-4 62 18zM1154 3217l-17-5 7-3 18 5zM1756 3389l-26-8 7-3 26 8zM1616 3348l-70-21 8-3 70 20zM1529 3322l-26-8 7-3 26 8zM1345 3268l-61-18 8-3 61 18zM1781 3391l-44-13 7-4 44 13zM1632 3347l-70-21 8-3 69 21zM1527 3316l-43-13 7-3 44 13zM1431 3288l-26-8 7-3 27 8zM1344 3262l-52-15 7-3 52 15zM1274 3242l-26-8 7-3 26 8zM1222 3226l-27-7 8-3 26 7zM1788 3387l-44-13 7-3 44 12zM1639 3344l-69-21 7-3 70 20zM1535 3313l-53-16 8-3 52 15zM1439 3285l-18-5 7-4 18 5zM1351 3259l-17-5 7-3 18 5zM1281 3239l-8-3 7-3 9 2zM1229 3223l-44-13 8-3 44 13zM1804 3386l-61-18 7-3 61 17zM1647 3340l-70-20 7-4 70 21zM1524 3304l-34-10 7-3 35 10zM1411 3271l-17-5 7-3 17 5zM1359 3256l-18-5 8-3 17 5zM1228 3218l-26-8 7-3 26 7zM1811 3382l-61-17 7-4 61 18zM1654 3337l-96-28 7-4 96 28zM1514 3296l-8-3 7-3 9 3zM1418 3268l-17-5 7-3 18 5zM1827 3381l-70-20 7-4 70 21zM1687 3341l-26-8 7-3 26 7zM1635 3325l-52-15 7-3 52 15zM1434 3267l-26-7 8-4 26 8zM1947 3410l-9-2 7-4 9 3zM1834 3378l-70-21 7-3 70 20zM1720 3345l-52-15 7-4 53 15zM1642 3322l-43-13 7-3 43 13zM1442 3264l-26-8 7-3 26 8zM1372 3244l-17-5 7-4 17 5zM1797 3361l-26-7 7-4 26 8zM1702 3334l-18-5 7-4 18 5zM1641 3316l-27-8 8-3 26 8zM1440 3258l-17-5 7-3 18 5zM1379 3240l-17-5 7-3 18 5zM1153 3175l-9-3 8-3 9 3zM1709 3330l-18-5 7-3 18 5zM1639 3310l-17-5 7-3 17 5zM1161 3172l-18-5 8-3 17 5zM2037 3419l-34-10 7-4 34 10zM1716 3327l-18-5 8-4 17 5zM1429 3244l-17-5 7-3 17 5zM1168 3169l-8-3 7-2 9 2zM2044 3415l-26-7 7-4 26 8zM1723 3323l-17-5 7-3 17 5zM1601 3288l-8-2 7-4 9 3zM1584 3283l-9-2 8-4 8 3zM1428 3238l-9-2 7-3 9 2zM1376 3223l-9-2 7-3 9 2zM2051 3412l-17-5 7-4 17 5zM1730 3320l-17-5 7-4 17 5zM1609 3285l-35-10 7-3 35 9zM1383 3220l-9-2 8-3 8 2zM1963 3381l-26-8 7-4 26 8zM1755 3321l-44-12 8-4 43 13zM1616 3281l-9-2 8-3 8 2zM1599 3276l-18-4 8-4 17 5zM1390 3217l-17-5 7-3 18 5zM1356 3207l-35-10 7-3 35 10zM1970 3377l-26-8 7-3 26 7zM1823 3335l-9-3 7-3 9 2zM1762 3318l-43-13 7-3 43 12zM1701 3300l-8-2 7-4 8 3zM1623 3278l-8-2 7-4 8 3zM1606 3273l-17-5 7-3 17 5zM1398 3214l-18-5 8-3 17 5zM1363 3204l-35-10 8-3 35 10zM1968 3371l-8-3 7-4 8 3zM1397 3208l-9-2 7-3 9 2zM2071 3394l-9-3 7-3 9 2zM2078 3390l-18-5 7-4 18 5zM1905 3341l-35-10 7-3 35 10zM1368 3190l-35-10 8-3 34 9zM2085 3386l-35-9 7-4 35 10zM1920 3340l-43-12 7-4 43 12zM1375 3186l-25-7 7-3 26 7zM1280 3160l-34-10 7-3 35 10zM2066 3375l-35-9 7-4 35 9zM1927 3336l-8-2 7-4 8 3zM1374 3181l-8-3 7-3 9 3zM1305 3161l-43-12 7-3 44 12zM2073 3371l-61-16 7-4 61 17zM1934 3333l-8-3 7-3 8 2zM1339 3166l-70-20 8-3 69 20zM2080 3368l-61-17 7-4 61 17zM1941 3329l-8-2 7-4 9 2zM1760 3278l-43-12 7-3 43 12zM1346 3163l-17-5 7-3 17 5zM1320 3155l-26-7 8-3 26 7zM1268 3141l-17-5 8-3 17 5zM2087 3364l-61-17 7-4 61 17zM1949 3325l-9-2 7-4 9 3zM1767 3275l-43-12 8-4 43 12zM1371 3164l-35-9 8-3 34 9zM1319 3150l-17-5 7-3 17 5zM1276 3138l-9-3 8-3 8 3zM2085 3358l-43-12 7-4 43 12zM1964 3324l-17-5 7-3 17 5zM1904 3307l-17-4 7-4 17 5zM1775 3271l-9-2 7-3 9 2zM1757 3267l-17-5 7-4 18 5zM1378 3161l-8-2 7-3 9 2zM1292 3137l-9-2 8-3 8 2zM2092 3354l-9-2 7-4 9 2zM1971 3321l-17-5 7-4 17 5zM1911 3304l-26-7 7-4 26 7zM1790 3270l-8-2 7-4 9 3zM1765 3263l-9-2 7-4 9 3zM1978 3317l-17-5 7-4 17 5zM1798 3267l-35-10 7-3 35 9zM1805 3263l-35-9 8-4 34 10zM1803 3258l-17-5 7-4 18 5zM1947 3286l-26-7 7-4 26 7zM1457 3152l-17-5 8-3 17 5zM2141 3328l-9-3 7-4 9 3zM2081 3311l-17-4 7-4 17 5zM1541 3164l-9-2 8-3 8 2zM1292 3097l-9-3 8-3 9 3zM2156 3326l-25-7 7-4 25 7zM2088 3308l-17-5 7-4 17 5zM2028 3291l-26-7 7-3 26 7zM1574 3168l-34-9 7-3 34 9zM1308 3096l-17-5 8-2 17 4zM2163 3322l-17-4 7-4 17 5zM2026 3285l-17-4 7-4 18 5zM1590 3167l-52-14 8-3 51 14zM1316 3093l-26-7 8-3 25 7zM2162 3316l-9-2 7-4 9 2zM1931 3254l-9-2 7-4 9 2zM1580 3159l-34-9 7-3 34 9zM1955 3255l-26-7 8-3 25 6zM1587 3156l-17-4 8-4 17 5zM1971 3254l-34-9 7-4 34 9zM1774 3201l-8-2 7-4 8 3zM1595 3153l-17-5 7-3 17 5zM1969 3248l-25-7 7-3 25 6zM1602 3150l-34-9 7-4 34 10zM2250 3317l-17-4 6-4 18 4zM2062 3267l-9-2 7-4 9 2zM1976 3244l-17-4 8-4 17 5zM1627 3151l-52-14 8-3 51 14zM1473 3110l-17-4 7-3 17 4zM1413 3094l-17-4 8-3 17 4zM2257 3313l-26-7 7-3 25 6zM2077 3266l-25-7 7-4 25 7zM1984 3241l-17-5 7-3 17 4zM1873 3211l-43-11 7-3 43 11zM1642 3150l-8-2 7-3 9 2zM1617 3143l-26-6 8-4 25 7zM1429 3093l-8-2 7-3 9 2z" fill="#c0151a"/>
<path d="M1398 3640l-10-3 7-3 10 3zM1405 3637l-10-3 8-4 9 3zM1056 3478l-9-3 7-3 9 3zM1371 3577l-28-9 8-3 27 9zM1063 3475l-9-3 7-3 9 3zM1070 3472l-9-3 8-4 9 3zM1078 3468l-9-3 7-3 9 3zM1300 3472l-9-3 7-3 9 2zM1581 3545l-9-3 7-4 9 3zM1597 3544l-18-6 7-3 18 5zM1177 3348l-9-3 8-3 9 3zM1238 3328l-18-5 7-3 18 5zM1245 3325l-18-5 8-4 17 6zM1348 3345l-9-2 7-4 9 3zM1355 3342l-17-5 7-4 18 6zM1363 3339l-9-3 7-3 9 3zM1370 3336l-9-3 7-3 9 2zM1678 3366l-9-3 7-3 9 2zM1849 3405l-9-3 7-3 9 2zM1905 3404l-9-2 7-4 9 2zM1838 3362l-9-3 7-3 9 2zM1825 3313l-9-2 8-4 8 3zM1579 3228l-9-3 8-3 8 2z" fill="#ffa000"/>
<use href="#wrc" fill="#fff" stroke="#5c5c5c" stroke-width="7.0"/>
<use href="#wrc" fill="#fff"/>
</g>
<line x1="44.4" y1="211.5" x2="49.3" y2="338.3" stroke="#5a5a5a" stroke-width="0.8"/>
<line x1="42.8" y1="211.8" x2="44.4" y2="211.5" stroke="#5a5a5a" stroke-width="0.6"/>
<text transform="translate(41.8,213.7) rotate(-12)" text-anchor="end" font-size="5.2" fill="#333">1200</text>
<line x1="43.4" y1="228.5" x2="45.0" y2="228.2" stroke="#5a5a5a" stroke-width="0.6"/>
<text transform="translate(42.4,230.4) rotate(-12)" text-anchor="end" font-size="5.2" fill="#333">1100</text>
<line x1="44.1" y1="244.9" x2="45.7" y2="244.6" stroke="#5a5a5a" stroke-width="0.6"/>
<text transform="translate(43.1,246.8) rotate(-12)" text-anchor="end" font-size="5.2" fill="#333">1000</text>
<line x1="44.7" y1="261.1" x2="46.3" y2="260.8" stroke="#5a5a5a" stroke-width="0.6"/>
<text transform="translate(43.7,263.0) rotate(-12)" text-anchor="end" font-size="5.2" fill="#333">900</text>
<line x1="45.3" y1="277.0" x2="46.9" y2="276.7" stroke="#5a5a5a" stroke-width="0.6"/>
<text transform="translate(44.3,278.9) rotate(-12)" text-anchor="end" font-size="5.2" fill="#333">800</text>
<line x1="45.9" y1="292.7" x2="47.5" y2="292.4" stroke="#5a5a5a" stroke-width="0.6"/>
<text transform="translate(44.9,294.6) rotate(-12)" text-anchor="end" font-size="5.2" fill="#333">700</text>
<line x1="46.5" y1="308.3" x2="48.1" y2="308.0" stroke="#5a5a5a" stroke-width="0.6"/>
<text transform="translate(45.5,310.2) rotate(-12)" text-anchor="end" font-size="5.2" fill="#333">600</text>
<line x1="47.1" y1="323.5" x2="48.7" y2="323.2" stroke="#5a5a5a" stroke-width="0.6"/>
<text transform="translate(46.1,325.4) rotate(-12)" text-anchor="end" font-size="5.2" fill="#333">500</text>
<line x1="47.7" y1="338.6" x2="49.3" y2="338.3" stroke="#5a5a5a" stroke-width="0.6"/>
<text transform="translate(46.7,340.5) rotate(-12)" text-anchor="end" font-size="5.2" fill="#333">400</text>
<text transform="translate(28.6,281.5) rotate(90)" text-anchor="middle" font-size="6.6" fill="#333">Temperature</text>
<clipPath id="sc0"><path transform="scale(.1)" d="M459 2509l5-3 5-14 5-50 5-4 5 1 5-23 5-43 5 40 5 47 5 13 5 32 5 16 5-9 5-8 5-1 5-1 5-7 5 53 5-2 5-1 5 22 5-11 5-4 5-2 5-18 5-41 5 15 5 25 5 24 5 1 5-4 5-4 5-78 5 1 5 56 5 40 5-27 5 34 5-35 5-4 5 7 5-5 5 18 5-7 5-4 5-35 5 0 5 9 5 16 5-5 5-35 5 12 5 13 5-2 5 64 5-14 5-15 5-18 5-8 5 35 5 35 5-8 5-19 5-52 5-26 5 68 5 49 5-61 5 3 5 24 5-19 5 16 5 16 5 15 5-11 5-5 5 9 5 9 5 60 5-3 5-10 5-77 5 35 5 15 5 75 5 35 5 11 5-27 5-118 5 47 5-2 5 29 5 3 5 1 5-1 5-2 5-42 5 19 5-49 5-7 5 20 5 25 5 39 5 32 5-24 5-97 5 80 5 120 5-55 5-108 5 24 5 26 5-32 5 35 5 9 5-10 5-7 5 3 5 2 5 1 5-2 5-7 5-16 5 12 5 7 5-1 5-4 5-13 5 17 5 13 5 5 5 10 5 39 5 39 5-42 5-48 5 12 5 12 5-46 5-4 5-4 5-18 5 43 5-42 5 26 5 0 5 5 5 18 5 18 5-21 5 14 5 6 5-2 5-5 5-7 5 44 5-8 5-10 5-25 5-3 5-31 5 37 5 23 5 4 5 0 5-17 5-5 5 1 5-2 5 3 5 33 5 33 5-48 5 2 5-23 5-23 5-29 5 14 5-52 5 12 5 96 5-7 5 7 5-10 5-19 5 37 5 42 5-77 5 133 5 132 5-156 5-78 5-3 5-6 5 3 5 27 5 3 5-14 5-7 5-3 5 19 5-22 5-2 5 10 5 11 5 17 5 6 5-30 5-14 5-12 5 44 5 45 5 53 5 28 5-85 5-19 5 62 5-3 5-31 5-4 5 13 5-8 5-57 5-33 5 3 5-2 5 22 5 24 5 15 5-3 5-9 5-30 5-31 5 67 5-1 5-80 5-36 5 17 5 30 5 72 5-95 5 112 5 86 5-29 5-33 5-101 5-22 5-4 5-9 5 5 5 7 5 53 5-56 5-10 5-14 5-16 5-12 5 2 5 21 5-1 5-10 5 26 5 2 5 3 5 5 5 5 5 152 5 34 5-69 5-87 5-67 5 25 5-49 5 7 5 16 5 16 5-4 5-12 5-28 5 17 5 85 5-47 5-48 5-30 5 59 5-8 5-12 5-9 5 6 5-26 5-3 5-9 5-2 5-1 5 107 5 73 5-98 5-75 5 3 5 30 5-5 5-5 5 250 5-109 5-7 5-90 5-53 5 23 5 16 5-45 5-2 5 1 5 71 5 15 5-4 5-4 5 5 5 11 5 74 5-33 5-33 5 158 5 27 5-67 5-58 5-59 5-17 5 25 5-27 5-28 5-54 5 20 5 85 5-72 5 276 5-97 5-97 5-86 5-24 5-23 5 76 5-57 5-55 5-4 5 164 5 52 5-33 5-58 5-17 5-45 5 255 5-89 5-80 5-11 5-15 5-9 5 6 5-42 5-51 5-57 5-78 5-77 5-78 5-59 5 50 5-58 5-58 5-2 5 8 5-32 5-31 0-603-1855 0z"/></clipPath>
<g clip-path="url(#sc0)"><g transform="scale(.1)">
<path fill="url(#s0_85)" d="M1325 2000l9 37 9 1 9-56 8 40 9-38 9 45 9-43 9 7 9-5 9 25 9-5 8 43 10-58 9 42 9-1 9-9 9-13 9-14 9 8 9 16 9 22 10-11 9 19 9-43 9 38 10-21 9 13 9-30 9 38 10 20 9-7 10-41 9 21 9 9 10 3 10-33 9 4 10 28 9-13 9 32 11-45 9 22 10-19 10 8 9 42 10-17 8 73 10-18 11-47 9 25 11-48 9 45 10 6 10-4 9 47 11-52 10 24 10-13 9 22 10 10 12-63 10-1 10 6 9 44 12-63 10 1 10 31 11-24 9 24 12-26 10 7 10-4 11 1 10 1 11 2 10 1 8 79 13-56 11-19 10 22 9 31 12-17 11-26 10 17 11 0 10 23 12-40 11 10 11-7 11 1 10 23 12-20 10 13 10 31 12-21 11 5 11-10 11 7 11 4 12-18-48 1152-940-243z"/>
<path fill="url(#s0_84)" d="M1316 2003l9 14 9-2 9 18 9-32 8 13 9-7 9 16 9-35 9 23 9-20 9 17 9-12 9 47 9-2 9-45 9 61 9-59 9 2 9 38 10-14 9-21 9 20 9-11 9 50 10-44 9 9 9 7 10-23 9 42 10-35 8 66 9 54 11-92 9 45 9-27 10-40 10-3 8 100 11-97 9 29 10-14 9 35 11-45 9 25 10 0 9 53 9 4 11-27 10-6 10-16 9 48 11-49 9 35 9 16 10 10 11-49 9 50 11-36 9 52 7 124 14-143 11-67 10 0 10 26 10 5 10-1 11-25 10 28 10 0 10 15 12-38 9 52 10 21 11-16 10 17 12-55 10 5 9 69 12-62 10 25 11-4 10 12 11-22 10 36 8 92 15-123 11-26 10 38 12-34 10 31 12-30 9 58 12-28 10 33 11-10 11 4 13-49 11 2 9 47 11 19-46 1091-940-244z"/>
<path fill="url(#s0_83)" d="M1308 1988l9 54 8-29 9 52 9 8 9-40 9 42 8 0 9-73 9 58 9-11 9-4 9 48 9-93 9 87 9-74 10-14 9 19 9 13 9-29 9 1 9 99 9-45 9 34 9 15 10-96 9 106 9-9 10-22 10-71 9 1 10 1 9 38 8 51 10-42 10-32 9 53 9 31 11-54 10-36 8 118 9-3 11-99 8 124 11-53 9 3 9 76 10-39 11-31 11-81 10-1 8 110 10-5 11-55 10-14 9 32 10-5 12-55 8 93 10-7 10-6 11-51 8 93 10 7 13-120 9 65 12-63 6 167 15-164 7 105 10 15 11-7 10 10 12-75 11 2 11-37 9 71 11-18 10 9 9 49 13-75 10 19 12-26 8 78 6 128 15-99 11-32 14-81 8 80 10 14 14-61 9 38 2 236 21-270 10 41 13-53 8 89 14-86 9 62 11 12 15-96-48 1157-942-244z"/>
<path fill="url(#s0_82)" d="M1299 1983l9 1 9 39 8 141 9 38 9 5 9-86 9 34 9-1 9-145 8 196 9-94 9-16 9 78 10-127 8 70 9-7 10-23 8 132 10-73 8 107 10-70 8 57 9 78 10-127 10-119 8 206 9-7 10-53 9 52 9-13 11-110 10-71 8 90 9 98 9-36 10-39 10-15 9 64 10-63 11-57 7 182 9-24 9 45 11-36 9-11 10 33 10-50 9 31 10-11 14-223 9 63 9 40 12-112 8 123 10-34 8 111 13-120 6 177 15-218 7 128 12-76 6 181 10-6 16-231 6 152 12-61 13-109 5 220 12-67 12-89 7 136 16-193 5 187 12-53 5 192 11-35 12-41 11-27 10 31 9 56 12-49 14-120 6 155 10 30 11-24 20-265 3 238 10-2 18-186 12-24 1 272 10 7 15-114 12-2 16-134 7 87 10 43 4 164 22-262 8 84-41 988-942-245z"/>
<path fill="url(#s0_81)" d="M1290 1984l9 51 9-16 9 50 8 112 9-35 9 90 9-215 9 85 9-70 9 169 9-54 8 50 10-195 8 196 9 33 9-26 10-206 8 203 9 36 9-6 9 75 10-155 8 184 11-261 8 239 9 29 11-282 8 167 10-3 8 99 12-239 7 177 10 1 9-8 9 87 9 17 11-122 8 102 13-272 6 268 14-281 5 315 14-303 6 243 10-22 11-81 11-101 11-62 9 57 8 109 12-119 9 50 6 210 14-213 5 228 13-116 7 119 12-77 8 67 16-274 11-33 4 267 13-113 12-86 10 15 4 249 16-210 8 87 12-72 12-63 4 246 9 27 12-35 9 56 10-16 10 29 14-131 13-65 9 52 14-129 10 48 7 117 10 0 13-54 5 174 13-93 8 94 20-268 4 189 16-142 1 266 18-190 16-122 11 2-7 471 26-385 11-11 4 179 15-98 17-130-43 1058-944-246z"/>
<path fill="url(#s0_80)" d="M1281 2011l9 21 9 6 9-42 9 219 8-163 9 1 9 223 9-105 9-62 9 178 9-217 8 216 9 20 10-166 9-36 8 232 10-167 10-152 8 209 9-53 10-149 7 365 11-218 8 80 9 67 11-265 8 237 9-28 10 0 11-209 9 25 8 115 11-149 10-20 7 240 9 29 11-99 9 32 8 79 11-84 8 161 14-314 8 92 9 31 7 189 10-13 13-201 10-41 6 258 11-72 11-89 7 182 15-308 5 273 10-18 15-229 6 173 12-63 8 94 13-145 13-124 3 329 17-327 8 113 4 236 13-101 15-187 1 362 17-259 13-81 9 30 12-63 4 240 9 65 19-314 0 373 12-68 18-240 4 204 12-27 11-32 5 190 18-241 15-104 11-9-1 353 10 11 19-253 2 275 14-104 20-254 4 196 9 66 18-190-5 408 22-287 15-102 4 175 22-253-3 346-30 739-944-247z"/>
<path fill="url(#s0_79)" d="M1272 2012l9 13 9-33 9 56 9 119 9-49 9 76 8 48 9 8 9-112 9-90 9 143 9-102 9 81 9 45 9-2 9 66 8 77 11-280 7 290 9 24 11-289 8 190 10-135 8 189 10-126 8 181 12-314 7 231 10-10 11-190 7 189 9 63 10-27 10-37 10-107 11-89 7 179 11-95 8 89 8 130 11-71 10-68 8 128 10-4 10-74 14-243 5 303 11-91 11-43 9 14 7 159 13-147 11-53 13-172 5 247 13-136 9 39 8 98 12-110 13-99 3 307 13-120 15-215 5 219 15-216 2 366 16-247 7 153 8 69 16-232 8 111 7 107 11-12 14-107 8 76 15-146 10 16 11-25 2 288 19-287 9 79 3 234 19-261 4 191 19-247 5 173 7 133 16-170 7 100 8 102 23-338 5 154 10 35 16-129 4 189 12-49 15-87 5 160 18-191-4 395-25 609-945-248z"/>
<path fill="url(#s0_78)" d="M1263 1993l9 4 9-7 9 1 9 173 9 73 9 32 9-106 8-11 9 18 9-171 9 41 9 287 9-58 9-225 9 99 9 212 10-261 9 19 9 6 8 266 10-185 10-133 7 302 10-156 8 168 10-4 11-340 8 206 11-175 8 191 10-79 11-155 7 206 11-169 10 12 7 190 11-147 10-35 10 14 10-62 5 396 12-202 7 194 11-52 13-278 7 210 12-140 7 161 14-222 4 330 12-133 12-148 7 174 15-235 9 19 6 240 11-71 8 126 9 29 13-147 7 152 13-147 12-70 11-53 4 269 12-60 16-227 3 273 11-21 19-323 5 213 7 122 10 9 9 63 18-303 2 331 12-80 10 25 19-268 4 220 15-157 2 267 17-199 8 103 7 100 12-32 20-275 0 317 10 24 17-191 5 191 19-232 4 187 13-68 13-46 10 18 16-108-3 363 10 26 12-40-24 622-946-248z"/>
<path fill="url(#s0_77)" d="M1254 2015l9-23 9 40 9 76 9-42 9 40 9-3 9 173 9 30 8 10 9-163 9-31 9 193 9-155 9 169 10-223 8 80 9 103 9 103 9-44 9 8 10-111 9 72 8 62 11-265 10-51 7 334 9 11 9 20 12-301 10-75 9 49 9 15 7 265 10-75 9 83 10-36 10-38 11-170 7 259 9 26 14-340 5 343 10-18 14-350 9 71 5 303 15-339 5 355 15-371 6 245 8 102 11-64 9 46 16-320 4 341 11-55 13-154 10-17 10 2 13-147 6 208 10 6 11-24 7 148 10-11 11-31 13-127 8 89 14-123 10 7 7 131 8 109 16-240 5 213 16-189 6 166 16-189 10 22 5 195 14-115 4 215 19-285 15-125 3 228 15-113 2 265 11-1 13-63 10 27 8 81 11-25 10 28 13-44 13-68 8 81 4 202 12-41 14-66 20-249 9 61-34 869-947-250z"/>
<path fill="url(#s0_76)" d="M1245 1999l9 25 9-10 9 15 9 162 9-23 9-170 9 120 9 53 9 30 9 106 8-220 10-83 8 335 10-246 9 67 9-84 8 258 9 46 10-321 9 245 9 25 10-237 8 220 10-162 8 171 9 89 11-231 10-156 8 310 9-23 11-221 10-61 7 349 10-65 10-115 8 133 10 31 10-62 8 114 14-369 6 290 10-18 8 118 10-17 10-31 14-293 7 199 12-163 5 338 10-19 10-6 15-327 7 189 8 110 9 28 16-327 7 194 7 109 11-47 13-102 12-112 11-28 7 151 9 28 11-35 15-203 4 283 8 105 17-294 10 46 7 129 11-31 14-152 2 351 10-15 15-167 15-150 6 186 14-122 2 274 15-136 15-133 7 114 11-16 9 58 11-3 9 57 15-123 8 93 12-58 5 184 20-265 13-38 8 79 3 213 14-79 17-143 9 50 11-13-8 517-17 418-947-251z"/>
<path fill="url(#s0_75)" d="M1236 2013l9 17 9-15 9-19 9 183 9-53 9 20 9-68 9 233 8-309 10 212 9-209 9 148 9 146 8 27 10-25 8 28 10-318 8 370 10-9 9-238 9 239 9-134 10-3 8 119 11-302 8 336 11-334 7 318 10-46 9 64 9-27 9 24 11-79 10-65 10-88 8 113 11-151 9 125 10-31 7 225 13-350 7 295 9 32 10-11 12-210 8 130 9 55 9 23 11-57 10-22 8 128 10-6 13-187 9 32 11-54 8 146 13-200 10 52 6 166 10 36 11-72 11-36 11-47 15-211 10 18 3 336 10 25 14-191 12-33 5 189 14-130 5 201 12-48 9 46 16-221 9 81 7 118 12-52 8 88 16-169 6 149 17-212 9 43 4 215 15-136 7 134 13-71 10 25 15-114 18-208 1 296 8 80 17-194 4 200 10 32 12-15 11-9 9 47 11 11 20-233-35 926-949-252z"/>
<path fill="url(#s0_74)" d="M1227 1995l9 0 9 11 9 99 9-107 9 147 9-16 8-127 10 288 9 34 8-319 10 25 9 61 9 203 9-170 9 59 9 28 9-183 9-14 9 376 9-128 9 74 10-254 9 210 8 131 11-346 10-51 7 375 10-50 10-194 9 69 11-162 7 323 11-227 9 26 10 18 7 203 10-54 11-120 12-194 8 176 11-173 6 371 9 39 12-184 7 185 10-58 14-251 5 315 10-8 14-255 8 77 7 190 14-223 10-6 7 174 9 23 17-363 10 23 6 186 8 118 9 57 15-238 7 137 15-216 8 121 10 19 6 195 10-5 15-210 15-176 10 8 2 375 15-195 15-183 1 386 17-262 6 156 14-103 5 185 16-176 8 96 9 57 11-22 9 53 9 59 20-275 7 98 5 197 19-234 2 245 13-54 9 51 10 30 12-14 18-195-2 343 24-361 5 167 2 251 26-379-35 914-950-252z"/>
<path fill="url(#s0_73)" d="M1218 1995l9 22 9-6 9 68 9 51 9 43 9-80 9 191 9-126 9 85 9-66 9 43 9-211 9 241 9 109 9-129 9 94 9 60 9-61 9-129 9 121 9 65 10-218 8 256 10-11 10-179 8 190 11-300 8 185 11-274 9 134 9 60 10-163 9 101 8 189 10-31 10-60 9 67 11-153 8 151 8 121 13-239 11-109 5 364 13-265 7 214 10-58 13-195 6 234 14-239 10-20 5 336 13-202 8 105 15-274 5 262 15-297 4 372 15-297 4 333 15-269 7 196 9 38 17-349 3 382 11-67 17-294 3 349 12-77 7 149 16-266 11-11 11-13 5 222 17-255 13-108 9 54 12-54 1 382 19-302 9 31 6 197 11-44 15-121 11-1 8 96 8 84 17-186 10 3 3 248 21-305 5 197 4 199 11-4 13-52 9 47 17-157 18-187 3 223 6 142 23-331-39 1045-950-253z"/>
<path fill="url(#s0_72)" d="M1209 2008l9 25 9 17 9-19 9 145 8-174 10 101 9 150 9 4 9-25 9-112 9 219 9-14 9 25 9-158 9 52 9-130 9-34 9 21 9 69 9 82 10-10 8 166 10-167 9 150 10-337 8 305 10 5 9 41 11-292 8 166 10-47 10-70 8 205 9 9 10-21 9 3 10-53 9 125 9-6 13-327 10 39 6 319 11-109 9-2 13-202 6 297 9 52 15-389 6 247 12-141 12-138 6 268 9 37 13-172 6 268 14-238 8 112 9 21 9 96 11-65 10 24 14-221 10 51 9 21 8 101 13-102 7 167 9 20 19-377 8 126 9 44 14-135 6 201 7 138 10 5 10 31 12-76 15-139 8 74 15-134 12-54 1 338 23-400-1 398 11-23 13-81 8 116 22-378-1 404 14-98 13-64 17-182 0 327 11 6 22-320 5 173 10 33 8 71 10 47 15-114-33 890-951-254z"/>
<path fill="url(#s0_71)" d="M1200 2056l9-49 8-7 9 1 10 182 9 12 9-23 9 134 8-299 9 117 10 134 8-248 10 170 9 70 9 56 9-91 9-172 9 250 9-29 9-126 10-16 9 156 9-141 9 39 9 223 10-241 8 241 10 5 10-174 9 36 9-21 9 75 10-19 11-264 10 51 8 143 11-118 7 286 10-41 9 66 12-265 7 287 11-138 8 135 14-347 7 161 7 219 10 0 11-102 9 79 11-70 12-133 11-121 6 300 9 54 10 0 10 0 17-391 3 393 11-51 10 10 14-221 6 197 17-345 8 141 5 252 11-33 17-310 3 349 16-260 10 31 5 222 13-128 12-29 8 87 12-69 15-154 10 18 7 133 14-123 5 204 14-110 5 199 15-130 6 133 14-110 12-33 2 296 20-277 5 174 11 2 15-144 6 159 12-21 14-93 8 100 15-114 10 12 8 106 14-69 18-207-38 1031-952-256z"/>
<path fill="url(#s0_70)" d="M1191 2027l8-13 10 41 9 88 8-139 10 202 8-98 10 212 9-102 9 79 8-144 9-141 10 165 9 105 9 28 9 46 9-338 9 17 9 238 9 62 9 44 10-253 9 247 10-290 8 327 9 8 10-261 9 227 9-23 10-83 9 48 10-113 9 139 9 15 9 43 11-143 8 151 11-170 9 128 10-115 10-61 11-87 9 97 7 210 10 41 9-15 10 31 11-92 8 96 11-51 9 45 13-261 12-131 7 233 7 175 14-222 8 93 10 46 13-211 7 203 9 76 15-276 8 105 7 185 12-93 11-37 12-76 12-95 4 296 13-138 16-210 11-50 10 34 2 342 19-342 2 372 18-327 3 317 9 64 14-126 17-247 5 231 9 56 10 26 15-167 9 64 16-152 2 275 15-125 7 128 11 2 11-18 17-160 3 224 25-412 1 304 7 110 23-333 0 315 12-4 13-74-31 850-953-256z"/>
<path fill="url(#s0_69)" d="M1181 2001l9 1 9 1 10 115 9 41 8-105 10 244 8-178 9-110 10 283 8-153 9-127 9 88 10 271 9-126 9 125 9 11 9-288 9-17 9 198 10-231 9 237 9 87 9-203 10 13 8 235 10-101 10-256 9 98 9 122 9 91 9-17 10 32 10-75 8 110 10 4 11-270 8 282 9 4 12-189 9 57 9 78 12-309 8 188 8 145 10 42 12-201 9 55 8 169 9 17 13-205 12-158 8 138 8 140 11-69 11-54 11-96 11-21 10 3 5 317 11-76 14-196 5 259 12-99 7 183 11-49 17-316 6 197 11-3 8 109 15-205 13-125 3 322 20-390 5 224 12-72 5 224 12-37 8 109 18-287 4 225 17-211 13-98 2 337 11-20 15-141 7 124 11 11 15-156 12-32 14-86 5 209 19-244 1 281 8 104 16-138 8 82 12-11 11-2 21-274 4 214-33 888-953-257z"/>
<path fill="url(#s0_68)" d="M1172 2014l9-11 9 23 10 146 9 98 9 38 8-299 9 1 9 45 9 180 9-34 10 148 8-272 9 146 10 14 9 55 9 31 9-87 9 108 9-71 9 119 10-309 9 200 9-70 9 174 10-96 9-78 9 59 11-237 8 333 11-330 7 365 11-297 8 258 10 53 10-105 10-49 9-11 10 48 9 18 9 73 10 13 9 33 11-123 11-119 9 18 10-5 11-110 9 114 8 152 8 131 10 1 12-129 9 33 13-159 6 258 10-32 10 29 10 7 11-70 10 6 14-211 7 179 10 20 11-50 9 78 15-267 5 283 10 5 10 2 15-174 12-80 7 159 12-91 8 131 17-292 4 288 16-195 2 313 16-195 8 97 19-305 2 321 18-256 5 220 8 85 20-322 9 78 14-111 1 332 16-151 6 155 6 151 18-196 8 76 22-318 5 173-1 369 22-326 4 225 13-62-27 745-954-258z"/>
<path fill="url(#s0_67)" d="M1163 2034l9-29 8 1 10 56 8-34 10 180 10 66 8-19 8-239 10 54 9 180 9-60 9 102 9-184 9-88 10 264 8-248 10 109 9 86 9 98 9-302 9 304 10-117 9 6 9 126 9 65 10 2 9-166 9 150 10-109 9 91 10-38 9 48 9 25 10-64 11-243 8 321 11-303 8 298 10-142 9 134 9 46 10-55 11-111 10-56 8 219 11-151 9 130 10-4 10-12 12-213 11-65 6 321 12-153 7 191 13-209 10-18 7 220 11-51 13-199 6 244 10 11 15-267 6 226 10 60 11-55 9 36 11-10 13-142 7 153 17-310 11-14 6 205 9 65 18-295 6 186 7 132 12-59 17-244 4 288 18-284 4 260 9 38 20-318 4 243 9 55 9 66 22-371 8 113 14-107-1 395 16-163 12-15 5 186 13-73 21-298 2 282 6 140 20-244 6 147 13-38-31 858-955-259z"/>
<path fill="url(#s0_66)" d="M1153 2005l9 1 9 35 10 169 8-153 9-31 10 233 9 38 10 39 9 13 8-142 9 48 9-23 8-212 10 59 9 45 9-62 9 143 9-179 10 371 9-17 9-156 10 82 9-223 9 39 9 163 10 53 9 78 10-191 9 75 10-133 9 165 9 73 10-91 9 52 10-171 9 188 9 9 11-120 11-182 9 45 8 269 12-235 7 282 10-79 9 77 10 30 9-5 14-356 9 83 9 81 8 216 11-108 9 94 14-329 8 140 11-41 9 58 12-137 11-2 7 186 9 49 11-15 14-224 7 199 14-228 10 55 5 239 13-111 14-163 8 126 6 188 14-147 8 126 11-47 13-111 8 128 12-62 11-18 10 41 15-168 13-90 3 297 19-293 1 350 14-98 15-155 14-106 3 291 19-291-1 419 10 13 20-270 12-30 13-49-2 396 25-420-2 411 14-80 15-128-10 599-12 349-956-260z"/>
<path fill="url(#s0_65)" d="M1144 2024l9-1 9 59 9-60 10 159 9 0 8-47 10 212 8-330 10 330 9 10 9-142 9-2 8-97 10 169 9-104 9 128 9-256 10 317 8-340 10 81 9 225 9-166 10 46 9-118 9 355 10-414 9 212 10-126 8 293 10-7 9-14 10-94 10-116 10-41 10-96 8 377 11-243 9 85 10-32 8 157 10-15 10 10 9 57 9 36 11-75 10-48 11-69 9 70 9 47 10-27 11-98 8 192 14-306 5 334 14-228 11-82 7 207 9 105 11-67 11-80 8 119 14-178 13-159 3 378 17-352 8 120 8 147 12-82 8 113 11-10 13-152 8 129 9 59 18-334 6 227 10 18 11-19 11-6 10 12 9 81 10 35 10 1 13-69 13-65 18-254 8 113 9 59 0 359 18-234 8 116 21-345 1 338 12-22 10 19 14-90 16-143 1 310 14-89 18-171 12-39-36 1039-957-261z"/>
<path fill="url(#s0_64)" d="M1135 2033l9 4 9 28 10 136 9 87 9 6 8-157 10 135 7-255 9 7 9-4 10 7 10 342 8-324 9 67 10 135 9 94 9-131 10 154 8-293 10 173 9 127 9-37 10-10 9 88 9-202 10-73 9-8 10-28 9 101 9 216 10-172 9-24 10-128 9 265 10-156 9 225 10-153 11-142 7 278 12-207 10-92 8 279 10-22 9 7 10 40 12-269 10-32 8 180 10-14 11-72 9 65 9 163 13-278 6 297 13-212 10 10 7 230 13-209 10-7 8 195 13-185 8 120 7 179 15-232 9 28 8 137 11-51 11-12 10 42 11-52 14-161 6 222 14-161 8 104 18-313 4 279 9 75 6 182 22-445 7 146 7 134 17-210 6 161 10 45 10 22 18-262 2 311 11 22 9 63 20-311 1 349 24-456 14-67 10 31 0 363 12-36 20-264 0 342 15-122 7 128-25 732-958-262z"/>
<path fill="url(#s0_63)" d="M1125 2010l9 36 9-11 10 102 8-71 11 263 9 23 8-173 9 38 10 81 8-10 8-209 9-55 10 174 9-133 9 57 10 207 9-174 9 211 9 0 10 21 9-257 9 171 9 107 10-370 9 68 9 27 10 269 9-90 10-46 9 150 9-39 10-181 10 5 9 156 10-68 8 149 12-285 10-86 8 180 10 27 10 0 9 127 11-175 8 190 10-25 12-244 7 321 9 36 11-43 13-277 7 205 13-265 6 331 14-287 8 135 9 143 9 47 10 5 15-308 11-61 9 50 6 281 10 9 10 34 11-30 12-93 13-159 6 228 11-35 11-1 13-125 6 196 14-147 9 99 13-147 8 144 12-77 9 101 16-244 14-101 1 393 12-50 9 59 11 0 10 6 22-391 2 344 8 79 9 69 22-368 2 310 17-216 7 161 18-228 4 238 9 65 16-156 11 0 9 91 11 1-28 825-959-263z"/>
<path fill="url(#s0_62)" d="M1116 2011l9 60 9-16 9 89 11 157 7-127 10 108 10 64 8-82 9-67 10 187 7-360 10 216 8-151 10 60 9 25 10 220 9-121 9-4 9-78 9 55 9-39 9-170 10 293 9-271 10 244 9 111 9-76 10-266 10-26 9 334 10-272 9 8 9 309 9-8 11-195 10-157 8 294 11-246 9 173 10-56 10 45 9 109 9 92 10-34 9 51 10-38 12-216 8 172 11-124 9 109 10 55 9 18 14-301 7 258 9 71 10-20 12-114 10-23 10 17 10 50 9 87 11-97 16-298 8 147 6 209 12-50 12-120 7 189 16-295 9 78 10 47 9 67 10 50 8 92 13-127 9 98 18-342 5 271 17-271 7 165 14-140 8 115 11-9 11 0 15-122 5 214 9 75 9 79 9 64 13-90 20-303 1 351 23-371-1 398 22-346 0 356 15-146 16-134 1 307 10 54-24 690-959-265z"/>
<path fill="url(#s0_61)" d="M1106 2012l9 56 9-53 9 60 10 57 10 216 9-25 8-166 9 97 9-97 10 239 9-62 9-22 8-191 10 173 9 20 9 37 9-236 9 176 10-28 9 136 9-214 9-59 10-14 9 12 9 61 10 156 9-285 10 169 9-178 10 18 9 267 9 94 10-9 9-58 10 76 11-335 9 30 9 236 10-34 8 199 11-127 9-13 11-67 10-12 9 6 9 149 12-192 9 56 10 0 8 159 10-14 11-57 11-112 11-88 8 189 12-104 12-170 7 244 9 73 16-363 6 280 8 124 11-28 14-217 6 247 10 7 12-90 14-213 6 265 10 12 13-111 13-136 11-19 6 242 18-334 7 139 9 103 16-246 7 177 13-86 6 182 11 11 9 72 9 50 11-8 14-86 18-257 1 363 10 22 18-226 2 290 22-361 2 300 18-201 5 190 4 241 14-92 15-119 9 45 9 96-22 637-960-265z"/>
<path fill="url(#s0_60)" d="M1097 2059l8-43 10 28 9 91 9-61 11 264 8-78 9-52 8-100 9-40 10 244 10 79 8-113 10 119 9 12 9-47 8-277 10 320 9-33 9-244 10 136 9 120 9-88 9-254 10 230 9 77 9-304 10 262 9 103 10-73 9 43 9 45 10-7 10-216 10-147 9 179 9 184 10 12 9-33 11-86 8 164 10 0 12-330 9 137 11-185 7 383 13-340 8 197 11-112 9 80 10 3 9 135 13-364 7 363 10 4 11-103 12-147 9 59 7 227 11-1 11-95 9 78 11-34 13-178 10 57 7 188 12-107 9 103 17-379 11-12 10 12 1 506 17-339 11 7 6 206 13-112 10 49 13-116 15-200 4 304 9 76 12-35 18-296 10 30 5 254 15-174 9 86 7 154 11-13 19-273 1 338 11 4 13-70 10 60 13-87 13-58 11 33 2 274 18-186-1 354 19-215-23 682-961-266z"/>
<path fill="url(#s0_59)" d="M1087 2036l9 7 9-25 11 212 9 21 8-47 11 172 9 5 8-100 8-118 9-46 8-88 11 225 8-204 10 222 9 64 9-186 9-16 10 114 9 123 9 14 9-330 9 57 10 285 9-353 10 247 9-55 10 182 9-162 9-21 10-95 10-87 9 370 10-267 9 157 9 113 10-17 10 0 9 25 10-88 10 33 10-21 9 94 11-304 10-1 11-63 7 398 10-115 9 103 14-385 6 384 11-78 12-181 7 241 14-326 9 118 9 95 12-113 8 108 11-64 10 67 12-127 6 263 14-208 13-157 7 180 9 115 10 19 10 50 14-210 10 38 11-35 8 118 11-10 12-44 7 171 13-120 10 24 15-186 7 186 10 5 9 106 8 102 15-173 17-229 2 325 19-309 4 276 9 64 13-70 22-366-3 481 15-110 9 47 12-15 17-195 9 67 3 287 26-488 3 267 5 198-22 689-962-267z"/>
<path fill="url(#s0_58)" d="M1077 2018l10 58 8-56 10 132 10 99 9 6 7-218 12 323 8-156 10 212 9-28 9 31 9-33 8-101 9-139 9-24 9 66 10 187 8-338 11 370 9-172 8-170 10 283 9-181 10 111 10 115 9-45 9 43 10 30 9 0 10-39 9-176 9 201 11-352 9 359 9-154 10 44 10-36 9 77 10-46 11-168 8 349 10-34 10-143 10-70 9 148 12-234 9 153 10-37 8 255 13-371 8 227 12-172 8 185 9 63 13-223 10 20 10-20 9 118 9 70 12-92 12-92 6 271 13-200 14-201 8 108 8 203 14-204 7 189 15-293 8 200 7 192 17-364 5 293 12-66 8 117 12-33 17-328 7 194 7 187 12-76 15-172 4 274 21-392 7 162 9 77 17-225 10 49 5 207 17-218 1 394 14-130 10 54 10 25 12-27 19-256-2 444 12-9 18-229 5 199 4 221-16 496-963-268z"/>
<path fill="url(#s0_57)" d="M1068 2047l8-27 10 67 10 130 8-101 11 225 9 3 8-169 11 245 8-62 8-131 10 138 8-238 9-43 9 80 9-1 11 243 9-106 8-169 10 116 10 131 9 14 9-3 9-137 9 8 10-45 9-7 10 34 9 161 10-104 9 110 10-120 9-106 10 71 10-194 10 2 8 339 10-64 10 14 10-77 9 155 10-148 10 91 10-134 9 260 11-185 8 163 13-346 7 299 11-85 11-47 10-68 9 182 12-231 7 283 11-107 9 104 10 5 11-1 11-68 11-86 13-207 9 147 11-58 12-88 10-2 4 390 14-180 11-69 7 216 11-22 12-67 13-125 13-132 7 195 7 192 17-318 7 211 8 107 11-1 12-74 14-136 14-106 3 322 19-352 3 355 20-354 5 231 10 26 12-20 15-150 3 306 18-244 3 283 14-98 21-324 10 45 5 203 14-75 4 251 15-132-29 915-964-269z"/>
<path fill="url(#s0_56)" d="M1059 2101l8-53 9 18 10 103 9-12 11 153 9 53 9 49 8-105 7-259 11 272 9-87 9-13 10 183 8-178 11 201 8-118 8-183 10 117 9-79 10 92 8-209 11 304 8-198 10 99 9 11 10-118 9 218 10-32 9-274 10 1 9 256 10 53 9-25 10-14 9 117 10-107 10 55 9 64 11-378 9 191 9 142 10 79 11-263 9 87 11-130 9 147 9 93 10 73 13-399 7 306 10 74 10-39 10-6 11-75 12-191 11-38 10 52 10-39 7 315 11-56 10-1 13-179 10-11 12-108 5 371 12-53 10 11 11-19 14-251 12-50 11 1 5 275 12-56 10 57 8 119 11-4 13-153 11 35 16-261 5 265 7 177 12-49 18-294 8 125 8 113 11-3 9 85 19-290 4 269 12-48 9 96 18-271 4 258 18-225 7 141 16-166 7 171 16-153 17-172-2 406-26 816-964-270z"/>
<path fill="url(#s0_55)" d="M1048 2021l9 16 9 21 11 181 9-46 11 197 7-113 7-214 13 368 6-282 10 112 10 128 10 21 8-93 7-261 11 284 10 31 9-15 9 60 9-149 9-66 10 116 9-35 8-232 11 345 9-30 9-177 10 85 9 148 10-67 9-175 10 172 9 9 10-186 10 138 9-152 10-23 10 123 10-89 10-79 8 316 10 26 10 44 10-32 9 36 12-387 8 295 12-187 8 173 11-138 8 241 10 3 13-343 10 22 11-71 9 128 10 97 8 137 10 24 12-111 10 30 10 13 9 76 10 0 11 10 10-13 16-374 11 1 6 285 8 113 16-322 8 160 9 124 12-86 14-167 8 118 9 129 9 46 13-98 11-23 11-3 14-128 6 237 13-89 16-210 3 316 10 48 19-330 5 263 8 100 15-129 9 55 12-9 9 73 11 15 18-254 11 10 6 206 21-348 1 351 24-402-38 1221-965-271z"/>
<path fill="url(#s0_54)" d="M1039 2065l9 29 9-6 10 105 9 6 10 113 10 56 7-184 11 237 8-161 10 176 6-345 10 13 11 297 8-136 10 144 9-76 7-289 10 49 9 16 10 1 10 98 9 94 9-220 9 20 10 105 10 126 9 41 10-159 9 211 10-190 9 182 10-345 10-9 9 72 10 251 9 50 10 24 10-377 10 161 9 97 10-43 11-151 10-66 9 93 10 148 9 127 9 50 11-64 11-135 10-90 10-7 10 119 12-216 10 13 9 120 8 215 10 20 12-219 9 152 14-305 10-1 7 326 13-213 5 354 13-146 9 81 15-327 10 96 7 195 10 15 17-367 5 333 11-39 9 107 13-134 16-259 9 80 7 197 16-230 4 318 12-69 18-283 11-4 8 138 4 285 21-402 2 380 14-122 7 142 10 36 14-76 12-49 8 133 23-442 2 354 8 92 13-59 22-333-1 392 16-141-28 923-967-272z"/>
<path fill="url(#s0_53)" d="M1029 2056l9-2 8-27 9 15 13 269 9 28 6-277 12 336 10 53 7-147 9-38 10 141 9-12 10 66 7-227 9 0 8-190 10 1 11 341 8-201 9-85 9-50 10 58 9 35 11 207 8-295 10 327 9-173 10 183 10-115 9 82 10 9 9 54 10-169 10-58 9 224 10-51 10-143 9 188 10-90 10-12 9 120 11-207 9 217 10-80 9 94 10-20 10 3 12-279 9 154 9 145 10 4 11-173 10 89 9 74 13-315 9 184 12-223 7 352 13-281 10 82 8 193 10 33 9 68 12-89 10 6 16-351 5 369 13-169 7 186 17-372 7 236 12-102 8 176 15-250 5 321 15-220 13-110 6 260 13-145 9 123 12-91 7 221 18-336 4 321 11-12 15-164 9 75 10 45 9 86 13-50 14-125 8 115 12-17 11-3 17-195 6 186 14-89 18-223 4 269 13-51-31 1013-967-273z"/>
<path fill="url(#s0_52)" d="M1019 2046l9 16 8-34 12 209 10 120 8-76 10 99 6-270 12 263 8-80 9-51 10 127 7-267 12 316 8-77 7-297 12 382 10 0 8-173 8-125 10 136 8-193 10 67 10 67 10 129 9-189 9-87 10 96 9-4 10 185 10-19 9 49 10-164 9-134 10 132 10 205 9-163 10 215 10 3 10-332 9 328 10-209 9 233 11-286 11-101 9 133 9 163 10 96 10-146 10 129 10-77 10-11 10 76 10-66 13-293 8 288 12-269 8 277 12-181 8 265 10-18 13-238 7 333 10-20 13-219 9 110 13-138 8 182 15-318 6 313 12-117 8 184 16-356 6 320 10 36 16-339 11 2 6 254 10 52 13-108 12-47 15-210 6 256 16-245 6 231 8 158 14-146 12-23 5 250 12-41 17-242 5 258 11-11 15-123 13-57 16-185 10 64 6 174 11 18 10 76 9 63-24 785-967-275z"/>
<path fill="url(#s0_51)" d="M1009 2056l9 41 8-67 12 171 9 57 9-33 9 50 10 87 10 41 9-1 9 15 9-15 6-271 10 94 11 106 6-285 13 382 9-5 8-121 10 113 9-9 8-326 9 58 10-15 11 302 8-215 9-132 11 351 8-366 10 6 10 261 9-79 10 103 10-240 9 230 10 156 10-277 9 241 10-328 10 1 10 33 10-3 10 59 9 216 11-292 9 172 9 153 12-296 9 215 10-71 9 136 12-181 8 200 12-178 10 32 12-233 9 160 8 205 10 10 11-18 13-304 7 326 13-216 10-9 11 20 8 174 12-104 11-65 7 231 11 2 10 26 14-246 9 106 9 110 11 26 10-11 11 6 11 15 16-322 11 20 12-74 6 249 10 64 18-341 4 333 16-214 12-41 5 251 9 114 11-3 22-429 5 235 6 208 15-130 8 118 20-311 3 287 18-227 7 143 17-192 3 319-24 798-969-275z"/>
<path fill="url(#s0_50)" d="M999 2045l8-15 10 58 10 49 10 116 11 91 8-67 6-202 13 309 9-3 5-340 11 176 9-80 8-50 13 330 7-236 9-25 9 52 10 110 10 65 9-110 8-106 11 117 10 147 8-141 10 49 9-37 9-77 10 106 10 67 9-117 9-213 10 212 10-205 10 343 9-154 10 196 10-155 10-228 9 247 10 54 10-297 10 86 9 321 10-95 10-15 10 114 10-36 10-2 11-233 10 46 9 212 12-375 8 374 10-35 13-273 10 8 8 260 10-11 12-197 9 181 13-223 7 320 12-143 12-168 6 361 12-133 14-271 9 167 12-145 7 273 13-155 13-113 11-33 5 349 17-368 3 422 14-131 13-131 7 205 17-321 5 317 13-100 16-249 4 312 9 102 16-213 6 217 11 21 18-308 5 255 16-162 10 21 6 204 16-179 7 194 18-246 4 248 16-150 13-57 6 204-24 799-969-277z"/>
<path fill="url(#s0_49)" d="M989 2077l8-43 9-1 12 180 10 57 6-211 13 331 8-100 10 117 8-92 8-149 9 13 10 52 11 170 9 25 6-375 9 17 9-16 11 232 11 108 8-68 10 85 8-180 11 207 7-375 12 366 8-295 10 200 10 48 9-30 10 39 10 39 8-357 11 385 9-8 10-268 9 81 10 206 10-370 10 220 10-140 10-64 9 296 10-158 11-123 10-39 9 301 9 76 10 13 11-58 11-181 10-114 9 290 9 58 11-15 12-302 8 304 13-264 8 255 10-44 12-181 10 100 9 140 12-168 7 266 15-340 8 230 9 99 11-41 14-266 12-66 10 19 10 83 9 101 11-34 14-187 7 249 11-29 12-44 7 171 17-310 12-32 6 263 15-194 11 17 5 268 10 47 17-280 6 256 20-388 2 392 11 21 18-297 5 258 15-143 7 177 10 28 14-89 12-3 3 282 24-428-31 1052-970-277z"/>
<path fill="url(#s0_48)" d="M979 2072l9-26 8-11 10 31 11 154 11 124 8-50 9 22 10 24 9 49 10 39 7-154 7-217 12 293 8-97 8-153 10 21 11 255 9-85 9-12 7-222 10 44 12 335 7-300 12 305 7-358 11 317 8-334 11 270 10 115 8-254 11 148 9 90 10-5 9-266 10 277 10 37 9-354 10 364 10-67 10-25 10-219 10 104 9 110 10 37 10-80 10 82 11-283 10-24 10 116 9 236 10-89 10 92 11-130 10 8 10-18 11-31 9 162 10 2 13-266 10-30 10 36 12-97 9 151 7 277 13-193 9 125 9 119 11-25 13-202 9 150 10 18 11-46 15-244 6 258 11 8 10 64 13-152 8 154 11-19 11 10 12-67 17-279 7 188 8 135 13-76 9 93 18-297 4 310 15-171 11-3 13-70 11 29 8 127 19-286 12-36 12 1 0 411 13-46 16-147 11-6-29 1035-971-279z"/>
<path fill="url(#s0_47)" d="M968 2037l10 13 8-14 12 175 10 103 10 13 9 51 5-332 11 190 9-72 9 14 11 208 9-81 10 72 7-198 10 110 10 81 6-315 12 225 9 44 8-259 11 272 10 99 8-282 8-90 11 135 10 60 9 54 9-203 10 138 9-154 10 106 10 35 10-51 10 225 9-56 10 116 10-131 9-218 10-36 10 104 10 234 10-334 10 345 10-275 9 322 11-250 9 184 11-105 9 119 10 69 11-130 10-89 12-175 10 2 8 357 10-11 13-320 10 46 8 290 12-219 8 265 10 16 13-266 11-38 10 92 11-25 8 155 9 125 11-32 11 12 10 17 12-84 15-264 10 29 6 294 13-150 10 65 10 47 10 54 12-70 10 74 11-3 13-134 11 28 9 111 14-130 8 130 20-408 9 109 12-18 3 326 11 17 16-205 7 203 22-424 2 365 20-318 9 101 3 304 4 276-15 523-972-280z"/>
<path fill="url(#s0_46)" d="M959 2072l9-6 9 30 9 20 13 234 9 19 9 21 8-117 9-15 8-58 8-100 12 257 9 11 6-316 13 366 8-106 8-174 8-62 13 316 6-333 11 170 11 152 8-107 10 108 9-101 9-107 10 52 10 195 10 23 8-199 11 188 9 3 9-244 10 140 9-189 11 267 9 5 10-44 10-274 10 250 9 46 10-91 10 124 10-9 10 10 10 17 10-118 10 110 11-254 9 193 10 33 11-249 10 71 9 225 11-173 9 206 10-3 11 11 10-3 10 14 14-392 7 384 12-246 9 192 12-176 10 61 11-46 12-135 6 411 11-16 11-27 14-259 7 262 15-269 9 106 13-162 5 367 12-75 13-86 9 98 13-132 15-221 4 398 12-59 16-240 13-93 5 299 17-280 12-14 2 413 13-103 10 72 10 51 21-412 10 95 3 306 13-35 15-155 7 188 10 51 19-278-30 1071-973-280z"/>
<path fill="url(#s0_45)" d="M949 2074l9-3 9 2 11 135 8-55 9 35 11 133 10 38 9 28 10 16 6-225 8-110 13 314 5-329 13 336 8-141 10 148 7-259 12 290 9-6 10-4 9 24 9-41 9-16 10 7 8-137 9-50 11 141 8-272 11 340 8-282 12 328 9-71 10 56 9-265 10 208 10 56 9-64 10-121 10 193 10-33 9-298 10 130 10-28 10 200 10-144 10 84 10-50 10-8 11-89 9 258 11-193 9 140 10 47 12-292 9 232 10-17 13-277 7 355 10 42 11-21 12-226 9 208 10-20 10 96 10-11 11 30 12-124 8 190 11-45 12-134 11-18 9 101 12-85 9 133 11 0 13-164 11-3 8 164 11 5 12-62 13-118 9 136 17-330 5 300 10 54 13-78 11-5 17-245 12-55 11 38 12-57 6 268 12-50 7 172 12 5 15-156 7 173 19-292 12 0 4 278-24 864-973-282z"/>
<path fill="url(#s0_44)" d="M939 2077l8-34 10 53 9 33 11 90 7-123 11 166 11 80 5-284 13 281 5-259 14 327 9-18 5-334 9 21 11 150 8-139 13 311 7-204 12 245 6-264 12 268 6-356 10 41 12 226 8-109 11 140 10 94 9-12 9-191 10 107 9-107 9-51 11 187 10 39 8-316 11 227 10 101 9-367 10 330 10-94 10 97 10 44 9-58 10 19 11-297 9 337 11-352 10 23 9 331 11-292 10 90 10 184 10-89 10 6 11-149 10 96 12-207 9 176 9 224 13-356 9 116 9 208 12-194 8 278 12-146 9 127 12-72 10 54 10 23 15-328 9 88 8 195 11 19 10 7 17-365 7 227 8 189 11 0 12-51 14-176 12-61 11 11 12-87 11 19 10 92 6 233 11 11 13-99 9 93 14-95 9 91 20-379 3 381 19-343 7 190 14-80 5 255 22-409-5 625 24-470-29 1095-975-283z"/>
<path fill="url(#s0_43)" d="M928 2052l10 45 9 7 8-41 9-18 10 94 13 255 6-237 12 205 5-311 9 2 10 99 13 255 8-69 6-280 9 1 13 307 7-212 8-91 11 154 12 193 9 29 9-115 8-158 12 300 9-13 9-46 9-56 8-193 11 171 9-23 9-208 10-16 10 169 10 156 10 20 9-151 11 195 9-200 10 169 10-225 10 124 10 118 10-165 10-150 9 339 10-6 10-36 11-335 10 39 10 221 10 124 10 4 10-98 10 55 12-217 10-27 10 67 10-3 9 193 11 35 10-55 10 107 14-424 7 411 10 80 10-41 12-128 13-162 7 276 11 13 13-185 8 203 12-109 11-49 14-212 9 117 11 33 11-25 7 244 17-356 6 291 11 15 13-122 16-228 5 296 17-288 8 145 7 210 18-291 11 2 4 328 15-174 14-113 9 139 14-106 6 229 10 40 14-102 8 132 23-429-32 1227-976-284z"/>
<path fill="url(#s0_42)" d="M917 2042l10 27 8-22 10 53 13 234 8-56 6-216 15 352 4-331 9 15 10 46 11 162 9-64 9-4 9-26 9 44 8-171 13 335 9-3 7-262 10 132 10-12 10 63 8-109 11 211 9-31 8-260 10 87 10 102 10-9 9-27 11 159 8-248 10-82 10 92 9-33 11 224 9-139 10 38 10-50 10-169 10 300 10-180 10-116 10 393 10-358 10 184 10 116 10-328 10 382 10-203 11-127 9 230 11-65 9 152 10 18 12-227 9 165 11-91 10 135 12-313 9 198 11-72 11-8 9 186 10 38 14-345 9 180 12-121 8 212 10 50 11-17 13-151 10 22 11-16 12-18 11-61 8 220 9 102 16-282 8 156 14-150 11-30 11 21 10 87 10 49 13-72 12-69 4 405 20-461 6 276 13-78 10 50 14-127 14-97 12 11 6 213 11 3 18-222 13-60-2 533-19 724-976-285z"/>
<path fill="url(#s0_41)" d="M907 2057l10 23 8-12 13 181 8-39 10 69 11 94 6-184 12 206 4-340 9 8 9-6 13 260 6-257 14 364 6-288 8-45 14 343 8-134 9 31 9-84 11 177 9-14 8-207 8-73 13 376 9-57 9-112 9-109 10 178 8-229 12 236 7-328 11 82 10 203 9-157 11 81 10 54 9-238 10 170 10 197 10-10 10 2 10 4 10 59 10-189 10 70 10-276 10 127 10-155 10 255 11-174 10 31 9 269 12-321 9 320 10 14 12-290 8 292 13-304 11-72 10 31 10 63 9 254 10-25 13-280 11-27 9 206 9 179 10 40 10 13 12-33 14-343 10 117 5 399 13-132 12-74 14-228 8 183 11 6 12-62 10 89 6 253 22-599 10 62 12-59 5 369 18-356 3 413 18-359 9 129 12-30 12-28 8 180 10 59 14-99 11 0 7 192 18-274 8 175 18-274-30 1186-977-286z"/>
<path fill="url(#s0_40)" d="M897 2063l9-17 9 34 12 158 7-98 13 217 7-159 11 149 9 18 5-309 14 361 8-119 7-141 12 231 7-182 11 126 9-45 10 118 8-114 11 147 9-85 7-235 10 118 11 85 10 119 9-110 8-146 11 194 9-108 10 97 10 45 9-45 10-66 8-213 11 205 10 51 10 102 8-349 11 153 9-154 11 375 10-92 10-8 10-204 10 105 10 218 10-279 10 234 10-336 10 28 10 291 11-173 10 119 10 41 10 107 10-42 12-351 8 363 11-115 12-252 9 199 10 123 11-37 12-279 10 140 8 266 12-67 10 56 10 62 12-148 13-278 6 430 12-51 10 1 14-200 10 56 8 243 11-16 15-307 12-102 10 119 11 2 6 314 14-218 9 153 10 53 20-462 9 132 10 64 9 116 16-225 5 316 15-212 15-138 3 357 15-148 10 73 18-281 12 8 3 344 19-289-29 1156-978-287z"/>
<path fill="url(#s0_39)" d="M886 2062l9 0 10 47 9-6 11 68 7-118 10 104 14 253 6-158 7-140 13 264 10-4 4-310 11 117 9-19 13 255 5-291 13 266 10 46 7-213 11 183 7-263 10 121 9-46 9-120 11 223 9-106 8-133 12 201 9-17 11 107 7-275 10-9 12 276 10 59 9-135 8-195 11 76 10 239 10-17 10-50 9-193 11 301 9-301 11 315 10-42 10-49 10 120 10-9 10-160 10-12 11-180 10 148 10 218 10-5 11-369 10 142 10 50 10 140 11-14 10 42 10-23 10 74 11-76 10 32 11 30 11-127 11-9 12-153 10 141 12-191 8 315 12-113 10 20 9 162 16-374 5 468 13-192 6 355 19-580 7 272 13-120 15-221 4 446 17-337 11-23 6 283 11 22 15-165 8 159 18-346 12-18 4 360 16-208 6 266 13-73 12-36 10 65 16-185 10 72 7 178-20 821-979-289z"/>
<path fill="url(#s0_38)" d="M877 2092l8-42 9 5 10 71 11 70 11 122 5-206 9-18 14 278 4-312 10 52 14 280 9 32 4-359 14 295 5-292 12 208 8-83 12 198 8-91 10 68 6-292 10 41 13 292 7-254 12 299 7-355 12 260 8-161 8-112 11 135 9-104 12 268 9-79 9-129 9-82 12 370 9-104 10-35 10 119 9-298 11 177 10 148 10-16 10 34 10 3 10-383 10 1 10 296 10 83 10-313 10 360 11-418 10 31 10 195 10 26 10 127 12-265 9 280 10 11 12-236 11-68 8 305 11-4 10 26 13-246 10 58 11-102 12-107 7 408 14-326 8 251 14-290 9 197 13-187 6 418 14-260 13-178 11 31 10 72 7 291 11-20 11 33 16-328 7 229 9 132 18-393 7 281 10 66 19-402 3 399 12-3 6 268 17-307 15-147 16-200 5 308 12-45 17-217 2 422 12-31-20 838-980-290z"/>
<path fill="url(#s0_37)" d="M867 2114l7-63 10 18 11 113 12 145 5-212 9 19 13 202 10 33 7-123 11 165 10 4 8-23 10 25 9-30 6-224 13 269 9-26 6-257 10 83 12 182 8-125 8-98 12 248 6-358 9 2 13 343 9-103 11 120 8-180 11 193 7-307 9-57 11 176 11 85 8-237 12 340 10 17 8-372 11 307 10 52 9-355 11 221 9-14 11 137 10 33 10-141 10 7 10 121 10-176 10-175 10 273 11 85 10-68 10 71 11-316 10 205 10-68 11-34 11-76 10 95 9 248 11-148 11-69 10 146 10 110 11-45 12-201 12-135 7 361 12-145 11 42 10 90 10 16 11-19 12-84 12-62 8 190 12-67 12-91 15-255 6 337 15-253 9 126 15-195 4 405 17-338 12-4 8 173 9 140 9 109 14-126 9 131 13-75 19-388 10 106 4 321 13-80 8 170 15-140 12-2-22 881-980-291z"/>
<path fill="url(#s0_36)" d="M855 2088l9-11 9-7 9 11 14 242 4-259 14 234 9-1 7-125 13 253 7-116 6-187 13 190 7-136 7-106 12 126 8-89 11 140 10 56 10 54 7-222 9-56 10 27 11 208 10-32 10 79 7-275 13 351 8-132 8-215 12 327 10 30 10 7 9-23 9-212 11 229 10-26 9 7 10 5 10-4 8-321 10-2 12 362 9-156 10-19 11 68 9-102 10-145 11 2 10 152 10 70 10-160 11 67 10 191 10-123 11-51 9 230 11 1 11-241 9 371 12-317 9 232 11-4 11-239 12-156 11 18 8 402 10-18 11 25 11-86 13-202 12-113 11-14 8 210 9 215 12-59 12-119 14-227 6 390 14-238 7 289 12-69 13-112 12-64 9 125 12-61 10 87 12-60 10 77 17-306 9 149 8 158 17-252 10 46 11 51 16-193 3 404 16-212 14-105 4 319 13-54-22 929-981-292z"/>
<path fill="url(#s0_35)" d="M845 2093l9 17 9-32 12 144 7-99 11 133 6-195 15 346 5-262 8-27 12 152 10 60 5-261 14 297 7-165 10 42 10 30 10 84 10 56 9-84 10 82 10 24 8-93 10 74 8-118 11 59 6-269 11 72 9-70 13 340 9 26 10-55 10 52 9-52 10 43 8-286 10 107 11 81 9-127 9-113 12 305 8-274 12 359 9-155 10-40 11 175 10-10 10-96 10-100 10 9 10 106 10 174 10-164 11 167 10-407 11 100 10 131 11-184 9 310 10 1 11-31 12-333 9 316 12-268 10 82 9 252 12-205 10 143 9 153 14-338 11-65 9 222 10 111 11-8 12-118 9 161 11-34 14-222 8 210 12-34 9 100 10 101 15-271 14-230 12-1 6 338 11-27 11 34 15-188 8 164 12-16 16-257 12-25 6 310 12-25 9 111 17-243 15-170 3 387 13-39 11 13-21 902-982-294z"/>
<path fill="url(#s0_34)" d="M835 2105l8-20 9-7 10 44 10 67 9-3 7-119 11 85 8-58 12 122 9 27 12 176 6-212 13 224 7-118 9-57 10 42 11 135 6-225 9-10 10 22 9-3 12 155 9-60 6-225 13 285 8-176 9-42 13 310 9-67 10 58 9-60 8-177 12 227 7-317 10-26 12 307 10 34 10-30 9-88 9-127 11 249 10-51 10 11 10-180 10 211 10-154 10 25 10-154 11 229 10-46 10 129 10-319 11 363 10-294 10 202 10 95 11 1 10 16 11-150 11-126 10 50 10 197 10 55 11-3 11-104 10 44 11 6 10 78 10 8 11 21 15-452 7 406 11-73 13-130 9 147 14-324 6 482 14-236 10 59 12-47 12-85 9 141 15-250 9 180 10 77 14-208 12 9 13-106 4 401 18-359 11 51 5 336 12-56 12 7 11-11 18-290 9 122 6 255 14-76 12-16-21 919-983-295z"/>
<path fill="url(#s0_33)" d="M825 2136l7-78 9 20 11 95 12 102 7-71 8-51 11 69 11 109 11 80 4-236 8-93 9 11 12 157 10 1 10 60 10 50 7-171 11 105 7-155 9-57 10 61 12 154 10 91 6-301 11 151 10-21 12 256 10 3 7-211 11 157 7-311 13 337 9-30 10-31 9-39 10 24 11 45 10 24 10 36 8-333 10 147 10-26 10-151 11 331 9-272 11 300 10-55 10-198 10-97 10 130 11 59 10-133 10-47 11 436 10-87 11-206 10 256 10-43 10 39 11-190 11-38 11-69 10 169 10 172 11-104 10 112 10-40 11 38 11-57 13-335 8 333 12-121 12-32 11-49 11-53 9 262 13-165 11-14 12-68 7 323 14-205 9 137 13-147 8 209 12-38 11 24 12-82 14-133 13-113 6 332 19-397 4 417 17-334 14-78 2 448 14-87 18-326 9 123 5 308 12-19-19 844-983-296z"/>
<path fill="url(#s0_32)" d="M812 2062l9 7 11 53 11 121 5-180 16 306 8-34 6-184 8-48 11 120 11 71 7-139 8-42 10 45 11 104 8-97 13 192 7-94 9-69 12 217 10-9 4-316 15 326 10 40 8-48 11 84 6-252 8-142 10 2 12 226 11 126 8-222 11 200 10-53 9-17 11 85 10 18 9-92 10 117 9-134 9-174 10 8 12 251 9-119 10-126 11 232 10-26 9-262 11 257 10 61 10-285 11 279 10-315 10 13 10 337 11-115 10-54 10 154 11 75 11-170 11-220 10-7 11 17 9 387 12-320 10 102 10 250 12-236 10 124 11-153 12-157 8 409 12-90 10 65 11-41 14-336 10 113 9 261 15-359 6 427 11-17 12-81 12-59 10 90 14-186 10 67 12-59 8 235 14-169 8 189 18-385 8 198 8 203 14-127 10 71 11 38 10 78 15-164 11 42 10 58 11 36-18 825-984-297z"/>
<path fill="url(#s0_31)" d="M802 2083l8-22 9 1 10 2 15 269 7-87 11 113 8-36 11 90 6-186 10 43 8-47 13 205 8-53 7-149 11 69 11 146 7-161 6-196 15 355 10 3 7-142 10 70 8-110 11 107 10-30 6-207 12 136 10 54 7-201 11 31 13 306 9-9 9-43 8-284 9-4 13 348 9-176 9-24 10 1 10-43 11 146 10 81 10-37 9-216 11 202 10-143 10-126 10 128 10-129 11 286 10-20 10-171 11 295 10-28 11 75 10-226 11-199 10 204 10 36 10 140 12-243 10 14 10 275 11-258 10 205 11-5 11-126 10 239 11-79 13-382 8 391 13-221 9 175 13-251 8 351 13-212 10 75 13-148 8 284 13-146 13-142 10 32 10 166 15-332 11 39 6 351 18-385 11 29 10 72 7 257 17-335 5 415 14-148 11 35 9 133 12-4 13-89 10 88 12-23 18-291-25 1169-985-298z"/>
<path fill="url(#s0_30)" d="M791 2099l9-36 9 1 13 180 11 77 3-253 12 112 9 29 7-137 12 162 10 26 8-85 7-92 15 282 4-266 15 339 4-341 9-13 10 1 12 167 10 65 12 125 9 2 8-74 9-79 9-46 9-22 12 206 9-38 10-36 8-73 12 177 8-171 11 157 10-2 10 19 9-150 9-23 11 104 10 75 8-317 12 273 9-212 10 25 11 218 10-110 9-120 11 139 11 141 9-147 11 6 10 26 10 124 11 15 10-1 10-355 11 255 10-192 11 20 10-46 11 134 10 182 11-329 10 269 10 91 11-131 11 93 10 36 11-58 12-201 11-51 12-47 8 293 11 29 11-8 13-191 10 38 11 37 12-131 10 118 14-205 6 441 15-287 9 179 12-78 14-194 9 175 14-170 8 210 9 124 17-320 9 129 8 247 12-69 15-185 7 251 12-24 12 10 11 8 20-372 3 427-18 820-986-300z"/>
<path fill="url(#s0_29)" d="M781 2135l9-27 8-42 10 69 8-67 16 290 10 39 3-253 8-70 16 336 10 24 2-356 14 262 9-14 7-151 11 114 11 90 10 60 4-326 13 229 9-87 8-60 13 247 7-172 11 108 7-172 10 22 13 227 10 37 7-242 8-146 13 276 10 39 9-49 10 1 7-260 13 350 10-25 8-213 9-106 13 379 9-114 10-36 11 135 9-178 9-133 12 270 10 54 10-59 10-82 11 127 10 18 10 21 10-111 11 126 10-224 10 253 11-38 10-87 11-274 10 341 11-19 11-335 10 125 11-17 11-103 9 418 13-415 10 202 10 58 11-1 12-117 11-134 9 380 11-7 9 187 15-424 8 298 11-52 14-290 8 369 11-17 15-350 8 312 11 23 13-184 10 153 11-19 11 72 13-135 13-99 11 22 10 113 17-318 6 323 9 130 14-129 9 141 18-298 7 248 11 19-18 870-987-301z"/>
<path fill="url(#s0_28)" d="M770 2133l10 10 8-38 9 13 14 203 10 34 3-282 13 187 7-104 7-79 13 146 13 204 7-136 9-7 8-67 10 29 7-118 11 103 10 26 7-156 14 310 10 37 6-234 12 180 9-87 11 99 5-306 14 304 10 44 6-255 12 174 8-125 11 67 9-103 12 214 9-88 11 147 8-187 9-71 13 282 7-383 10 2 10 12 12 236 9-162 11 156 10 103 9-336 11 137 10 98 11 117 9-304 11 110 11 144 10 64 10-98 11-225 10-28 11 209 10 77 11-102 10 268 11-149 10 113 12-406 10 273 10 47 12-300 9 453 11-38 12-141 10 142 11-102 12-102 11-13 11-66 10 117 10 203 11-36 12-52 12-180 13-149 8 316 14-240 11 53 10 118 14-228 6 407 16-331 12-21 11 44 8 238 12-31 9 127 17-296 7 238 15-179 11 26 12-5 7 235 7 232-12 595-987-302z"/>
<path fill="url(#s0_27)" d="M759 2098l9 3 8-32 10 44 13 153 5-155 13 168 5-203 17 348 7-101 10 48 11 69 9 0 2-356 9 1 15 267 4-264 15 322 10-5 4-313 11 120 11 46 10 48 11 80 8-95 8-106 8-83 15 333 5-330 12 233 12 108 8-71 10-15 9-36 11 108 8-159 9-152 12 277 9-157 12 259 7-323 13 324 8-295 12 260 8-264 12 323 9-204 10 40 11-23 10 138 11 44 9-353 11 346 11 22 10 4 10-170 11 165 10-156 10-22 11 148 10-150 11-38 10 215 11 61 11-238 11-194 10 303 10 105 13-403 9 329 10 135 12-110 13-348 8 436 11 14 11 7 12-226 10 218 12-168 9 191 12-43 12-100 14-207 8 276 14-251 11-10 9 220 10 120 14-196 9 195 15-280 11 75 10 52 9 152 14-142 13-44 12-14 10 96 9 125 12 6 17-288-22 1130-989-303z"/>
<path fill="url(#s0_26)" d="M747 2081l9-11 11 72 10 68 6-136 17 299 2-297 14 236 11 90 6-169 14 209 5-160 12 113 8-40 4-268 13 161 11 104 7-126 8-67 11 50 13 216 6-197 11 100 12 144 9-57 10 63 5-298 9-75 10 2 14 344 8-141 11 117 9-105 9-56 12 166 8-169 9-56 13 272 8-140 11 151 8-241 9-101 13 345 10-13 11 52 9-142 9-151 11 215 11 6 10 77 10-20 9-377 12 383 10-84 10 38 10-330 11 288 10-74 11 97 10-42 11-77 10-5 11-16 11 99 10 85 11-134 11-110 10 311 11-27 11 19 11-223 11-8 12-115 10 127 10 231 11-8 11-54 10 131 12-113 12-106 10 156 12-94 10 107 12-48 11-27 11 64 13-159 14-171 12-51 6 447 14-190 8 214 18-410 12-22 10 132 8 174 14-138 10 149 12-50 10 107 16-224-22 1131-989-304z"/>
<path fill="url(#s0_25)" d="M736 2070l9 11 9-8 14 186 5-160 13 181 5-202 9 1 9 2 10 1 16 346 8-92 10 41 6-122 9-49 8-75 9 22 11 71 12 95 9 25 11 57 5-242 11 85 12 150 10 15 11 73 9-2 5-286 14 276 8-113 11 69 9-8 6-304 13 262 10-34 11 137 7-278 13 300 6-373 12 134 12 222 6-357 12 165 12 235 9-141 10 43 11 120 10-105 8-306 10 1 13 390 9-156 10-158 12 329 10-7 10-69 11 19 10 57 10-336 11 279 10 22 11-50 11 84 10-201 11 159 10 31 11-82 11-14 11-93 11-1 12-170 9 314 13-271 9 304 11-2 11 22 12-218 10 210 11-2 10 82 11 41 11-5 13-119 12-107 9 239 11-25 11 75 12-111 9 215 14-233 10 95 15-224 11 69 9 157 12-49 15-198 8 243 12-26 12-44 11 53 14-114-19 982-989-305z"/>
<path fill="url(#s0_24)" d="M725 2072l9 11 10 32 10 38 13 140 7-77 14 193 3-240 15 241 4-196 15 220 6-113 12 99 6-133 10 32 10 15 12 126 9 9 9-2 4-325 11 113 12 100 5-253 11 107 8-81 10-22 15 342 6-195 13 221 7-235 12 186 6-257 10 8 13 232 7-212 9-56 15 371 6-274 14 278 6-324 11 122 10 3 11 65 9-98 12 190 10-35 9-176 9-72 13 354 10-3 9-301 11 109 9-203 11 226 11-27 11 207 9-253 12 247 10-102 10 108 11-225 10 133 11-105 11-30 10 22 11 123 11-155 10 172 12-205 11-53 11 9 10 239 12-224 10 99 12-27 10 78 11 95 11 27 10 36 13-191 9 267 11 27 13-212 9 204 13-125 10 133 10 49 13-73 13-152 10 127 14-224 9 218 16-338 6 399 13-65 12-22 10 99 11-3 15-158 12-45 12 45-19 1009-991-306z"/>
<path fill="url(#s0_23)" d="M714 2089l9-14 9 1 11 88 10 43 14 169 7-62 6-138 7-92 12 95 7-92 11 96 10 32 7-124 15 268 12 108 9 3 6-162 12 152 6-208 11 80 7-142 14 276 8-76 10 1 5-262 13 222 12 105 8-87 10-6 6-210 10-36 9 1 11 79 13 220 10-29 11 150 9-68 9-71 9-116 12 191 7-265 14 331 10-17 6-364 11-22 11 123 10-27 12 325 10-9 10-65 10-51 11 100 11 53 9-258 10-175 11 349 11-37 9-308 11 35 11 71 11 297 10-244 11 144 11 26 10 63 11-109 11 86 11-143 11-74 11-23 10 320 11-114 11 85 11-60 11 76 10 77 11-43 12-61 11-22 11 0 11 115 12-143 10 149 12-39 15-402 11 94 12-58 10 138 9 160 11 88 15-297 11 41 14-110 4 496 15-228 10 123 11 17 16-245 9 194 13-82-18 981-991-308z"/>
<path fill="url(#s0_22)" d="M703 2099l9 0 9-7 10 29 13 145 4-184 12 115 11 69 11 72 12 112 1-345 18 361 6-114 8-63 12 130 9-41 3-281 10 5 15 295 8-72 11 88 10 19 6-183 13 164 8-102 11 123 11 62 10 31 7-180 10 45 7-176 14 257 9-4 8-161 12 194 10-32 8-126 12 182 10-7 7-259 13 278 8-239 10 15 11 120 8-263 13 380 10-60 10 53 9-230 11 144 9-237 10-26 13 373 10-26 9-156 11 94 11 58 10-81 11 79 10-117 11 148 10-403 11 39 11 352 10-386 11 318 11 72 11-163 11-221 11 2 10 399 11-29 11 5 11-146 10 302 12-224 11 14 11-39 12-68 10 96 10 166 14-311 10 186 12-158 12 11 12-137 11 78 9 255 10 97 13-142 14-179 8 274 17-370 9 196 12-68 8 304 11-3 14-132 13-54 9 152 15-196-19 1085-992-309z"/>
<path fill="url(#s0_21)" d="M692 2105l8-17 12 87 12 115 11 66 8-28 9-1 3-241 11 61 14 194 6-146 7-74 15 221 4-210 17 335 9-5 2-344 13 137 14 225 9-13 10 14 2-375 13 201 13 169 7-158 9 7 12 113 9-53 7-132 10 9 13 232 9-80 8-134 8-77 14 271 5-346 14 276 6-275 13 174 10 21 9-103 10 25 10-54 14 373 9-41 10 29 10-53 11 61 9-143 11 142 8-285 13 328 8-337 10-112 12 216 10 78 11-1 11 110 10-17 10-54 11-204 10 133 11 73 11 70 11-33 10 48 11-399 11 212 11 168 11-187 11 22 10 171 12-235 10 311 11-162 11 22 12-117 11-14 10 296 13-355 10 123 10 204 12-94 13-134 11 11 10 130 11 83 15-420 10 159 11 90 9 236 12-99 13-82 9 158 13-47 11 2 13-69 14-158 8 245 15-165 13-46-20 1113-993-310z"/>
<path fill="url(#s0_20)" d="M681 2131l9-12 8-33 15 207 9-13 12 112 10 35 9-6 2-284 9-1 15 237 11 53 7-56 11 39 10 66 3-284 13 129 6-132 8-84 16 336 9-49 9-4 11 85 10 12 3-372 13 172 6-169 16 369 4-366 13 196 12 124 11 81 5-259 14 262 4-392 14 247 11 117 10-26 8-125 11 76 12 151 7-240 10-46 8-136 12 183 11 13 11 171 11 55 10-11 10-72 9-73 10-184 10-2 10-51 12 329 11 5 10-37 10-81 11 113 11-69 10 104 11 36 11-50 10-104 11-250 11 401 10-342 11 65 11-117 11 409 11-406 11 257 11-95 10 246 11 40 12-130 12-187 8 451 14-389 10 72 11 146 12-212 11 66 13-113 9 203 11 20 13-67 10 118 12-113 9 241 16-337 14-178 9 141 10 170 10 153 15-240 5 443 13-76 17-346 10 117 14-138-18 1105-994-311z"/>
<path fill="url(#s0_19)" d="M670 2132l8-50 9 1 15 218 6-118 6-96 16 234 12 105 10 49 4-187 6-152 14 209 11 36 5-163 13 159 6-151 15 258 7-128 12 121 5-170 7-123 15 247 10 7 5-210 11 57 11 68 12 145 8-110 5-235 15 308 7-204 12 146 7-137 12 143 10-49 11 77 8-122 11 126 7-285 9-20 16 432 6-308 12 147 11 78 11 60 6-349 12 134 8-182 14 411 10-14 11 29 8-252 10-24 12 239 11-40 9-124 11 67 11 150 10-197 11 28 11 120 10 17 10-207 12 221 10-336 11 252 11-221 10-79 11-6 11 316 11-11 11-135 11 265 11-222 11-3 12-186 9 457 12-13 11-23 11-39 12-47 10 81 11 9 14-329 10 232 11 2 10 143 14-253 11 95 11 56 10 111 16-379 7 391 15-311 10 162 13-51 10 87 10 129 13-104 11 71 16-251-18 1125-995-313z"/>
<path fill="url(#s0_18)" d="M657 2082l11 62 7-59 15 207 6-124 15 228 8-67 3-232 17 288 1-290 13 145 15 208 10 25 0-359 16 291 7-138 8-49 7-112 13 152 6-149 17 365 3-315 16 300 4-262 15 238 7-99 9-34 11 73 12 121 3-365 12 132 14 213 6-211 11 41 10 22 13 177 6-246 13 225 7-228 12 164 12 145 10-4 6-340 9-77 15 425 8-188 9-93 13 202 9-31 11 28 10 9 9-230 13 304 10-49 8-341 11 123 10-54 12 255 11 62 9-244 12 251 9-400 13 495 9-259 11 46 11-139 11 244 11-125 11-251 11 38 11-5 10 508 11-350 11 437 11-367 12-247 11 93 10 364 11 40 11-19 12-160 11 74 13-309 9 391 13-205 11 15 13-185 8 375 15-331 11 71 8 287 17-448 8 332 15-282 13-62 9 173 12-13 8 309 12-3 18-426 7 342-15 941-996-314z"/>
<path fill="url(#s0_17)" d="M646 2104l11 54 8-46 13 138 8-41 10 50 8-69 15 239 6-133 14 171 9 17 10 9 4-205 14 200 4-232 7-87 17 325 6-125 4-260 15 256 12 116 6-167 6-165 17 346 8-100 4-276 9 2 17 362 3-352 17 386 8-89 5-279 15 284 6-211 15 279 4-367 15 326 11 72 10 9 8-141 6-258 15 395 8-192 9-87 9-105 15 413 6-415 11 48 13 293 11 58 8-156 9-177 11 80 11 5 12 251 10-152 9-197 13 384 9-270 11 147 11 47 10-27 11 104 11-23 11-7 10-320 11 327 11 23 11-72 11-60 11 129 10 41 12-381 10 321 12-296 11 147 11-53 10 243 12-40 11 17 12-185 11 28 10 192 13-218 13-140 11 73 8 383 13-211 11 121 15-391 9 258 12-6 11 43 14-208 7 369 14-146 15-261 12 18 9 204 14-133 11 47-17 1145-996-315z"/>
<path fill="url(#s0_16)" d="M635 2111l10 43 8-51 14 156 4-168 18 302 5-136 10 26 6-104 15 184 10 39 12 101 8-16 0-383 17 292 10 50 10 28 7-129 12 141 5-230 10 23 12 134 11 57 3-299 12 131 13 168 8-87 9-26 12 81 9-5 9-73 7-156 8-72 13 162 13 194 9-51 11 35 9-34 8-150 9-45 11 14 13 254 7-263 14 316 9-113 10-9 11 146 8-234 13 220 10 17 10-56 7-369 11 88 12 151 10-6 11 88 9-241 12 164 11 56 11 76 9-322 11 29 11 182 10-99 12 225 10-357 11 134 11 40 11 184 11 31 11-177 11 176 11 9 10 81 12-242 10 277 12-213 12-142 10 134 13-213 11 6 11 59 11 126 10 201 10 99 13-227 13-168 7 547 13-226 13-59 14-255 8 325 11 7 12-11 12-30 12-12 12 3 17-398 9 212 15-236 6 466-13 865-997-317z"/>
<path fill="url(#s0_15)" d="M624 2117l8-28 10 19 9 22 17 247 9 4 6-115 14 190 3-218 16 233 5-141 10 15 9-31 14 184 6-112 3-258 17 310 5-198 9-18 13 160 7-107 13 131 7-84 5-202 15 217 13 156 2-368 16 346 10-12 5-248 9-32 16 335 8-85 5-294 14 252 9-47 13 164 10 26 7-218 13 203 11 46 7-183 12 102 7-217 11 88 12 132 11 50 7-288 14 339 9-105 8-206 10-27 13 258 11 19 10 43 11 24 8-326 12 253 11 72 10-69 10-152 12 241 9-428 12 276 10-74 12 236 10-110 11-88 11 208 11-337 11 240 11-77 11 146 11-20 11-167 12-204 10 365 11 62 11-30 12-40 12-198 10 266 11 6 12-202 10 296 12-115 12-2 11 22 14-313 10 150 12-42 12-29 11 77 14-206 9 282 15-259 11 72 14-131 6 431 17-375 12 22-19 1259-997-318z"/>
<path fill="url(#s0_14)" d="M612 2108l8-17 10 27 14 140 13 145 0-307 19 338 5-158 15 211 3-229 6-121 14 179 9-4 12 111 12 94 3-256 12 117 12 109 10 2 0-373 16 247 10 42 7-123 12 94 4-252 16 325 4-284 16 307 10 10 3-351 13 182 7-179 16 331 4-328 10 2 11 59 15 330 9-88 10 42 11 68 10-42 6-256 11 69 12 106 8-144 14 306 10-4 8-222 13 246 8-203 12 190 6-431 14 382 7-364 14 367 9-206 12 253 8-340 13 314 9-252 13 284 9-193 11-13 10-213 11 192 11 63 12 164 10-132 11-240 11 316 11 65 11 31 11-281 11-87 11 326 11-263 11 111 12-96 11 180 11 17 11-49 11 168 13-374 10 274 11 106 12-121 11 118 12-128 13-149 12-138 12 58 8 403 12-68 15-312 11 95 9 216 11 40 15-183 13-141 11 82 10 152-14 985-998-320z"/>
<path fill="url(#s0_13)" d="M600 2091l11 78 8-24 13 117 13 120 10 47 0-329 14 174 10 17 8-36 16 247 5-156 8-64 9-11 11 74 12 110 11 57 0-397 18 350 10 35 4-237 8-47 10 17 8-83 9-24 16 297 4-294 16 313 5-260 8-49 16 284 10 35 11 49 4-301 15 267 11 37 3-360 16 342 5-338 13 239 13 128 6-218 11 46 13 183 11 41 5-360 10 15 14 254 9-117 10-23 12 148 7-272 12 97 11 22 10-31 13 304 8-261 10-122 13 348 8-328 13 342 9-324 11 67 12 162 11 144 10-175 11-78 12 239 10 11 11-73 11-59 11-297 11 302 11 53 11-174 11 205 12-321 11 43 11-96 11 379 12-277 10 334 12-125 12-54 10 199 14-440 9 466 12-116 11 44 11 92 12-41 12-98 11 119 15-355 11 82 9 253 14-187 11 110 14-212 9 228 17-310-18 1286-999-321z"/>
<path fill="url(#s0_12)" d="M589 2115l9 14 9-12 10 39 15 182 12 83 10 29 9 4 2-244 18 296 9 2 4-182 13 144 10-3 4-187 9-7 15 228 2-308 8-66 9-7 10 2 17 299 10 48 10-7 10 29 8-62 11 65 9-29 11 34 5-232 11 74 11 66 7-169 8-97 10 2 10 1 13 199 12 72 5-266 16 323 9-32 9-71 11 25 6-237 13 187 9-133 13 198 9-60 9-76 15 320 8-166 12 168 10-49 9-116 8-254 15 411 10 13 7-407 14 318 10-48 11 26 11 96 11 90 9-358 11 48 12 264 10-203 11 23 11 98 11 61 11-103 11-135 11-127 11 374 11-410 11 401 11-15 12-177 11 154 12-333 10 351 13-322 11 36 11-15 11 188 10 273 12-51 12-149 11 187 13-308 12 9 10 239 11 41 12-11 16-403 9 250 14-249 11 154 8 309 13-80 13-114-13 1023-1000-323z"/>
<path fill="url(#s0_11)" d="M579 2169l6-70 11 55 15 168 7-46 16 205 4-154 14 139 1-267 13 141 12 83 2-246 13 136 15 197-1-395 10 17 14 172 8-35 15 199 9-31 5-174 7-114 9-22 16 283 3-281 16 271 9-29 13 128 8-48 6-191 7-121 16 301 7-170 14 244 11 36 5-262 14 234 9-58 11 30 11 67 8-103 10 15 11 72 10-46 8-106 14 205 8-153 12 128 6-282 13 176 10 23 7-319 15 424 9-199 12 195 8-237 12 151 11 57 11 45 9-159 10-220 11 72 12 193 10-71 11-52 11 174 10-272 12 327 10-343 11 118 12 317 11-237 11 176 11-105 11-207 11 15 11 45 11 267 12-419 12 2 10 257 12 25 11 131 12-311 11 170 12-32 11 65 10 174 14-347 11 130 12 1 10 234 11-25 15-335 11 117 12 17 10 166 11 54 11 53 16-285 15-225-17 1338-1001-324z"/>
<path fill="url(#s0_10)" d="M567 2163l8-28 9-1 11 63 9-5 17 259 6-108 13 112 0-295 16 209 6-89 7-77 19 335-1-375 11 66 10 2 12 104 6-111 12 84 7-110 14 200 8-75 12 75 10 41 10 1 10 45 8-89 8-93 6-160 17 347 3-349 10 1 14 217 12 93 4-268 13 127 7-161 13 194 9-102 15 319 10-7 11 34 9-29 11 8 6-249 12 130 8-139 10-56 12 92 12 195 12 81 6-353 14 355 10-24 11-26 10-24 11 21 9-69 11 51 10-148 12 230 11-14 10-87 9-259 13 344 11 25 9-322 11 48 12 137 11 70 11-89 10-48 11-215 12 438 11-104 11 68 11-93 12-292 11 206 11 47 12-271 10 503 13-500 12 2 11 2 11 177 10 265 12-8 11 11 12 46 11-17 12-1 11 19 16-436 10 166 9 335 11 30 14-154 15-313 11 121 14-174-16 1309-1001-325z"/>
<path fill="url(#s0_9)" d="M553 2098l10 51 9-21 16 199 8-18 12 89 12 76 8-22 3-198 9-6 15 194 8-45 14 152 8-31 8-40 7-86 11 45 4-186 11 50 11 36 7-77 16 241 5-181 12 89 3-259 18 331 9-40 10 16 2-317 18 346 9-3 4-285 11 54 8-92 18 367 9-41 12 126 5-280 12 155 5-297 12 108 14 187 11 89 7-220 10 3 12 86 12 140 8-114 10-55 13 217 5-411 11 63 14 256 10-75 9-123 10-23 13 224 11 40 10-31 8-362 13 277 11 135 11 14 10-186 9-232 14 455 10-135 11 120 11-57 11 88 11-9 11-88 11 82 11-3 11-295 11 99 11-137 11 113 12-184 11 93 11 260 11 39 12 36 12-444 11 204 11 118 12-140 11 298 12-176 11 70 14-327 9 441 15-392 8 403 14-192 9 318 15-368 11 121 12-55 11 83 13-77-12 1052-1002-326z"/>
<path fill="url(#s0_8)" d="M541 2100l10 23 9-2 10 38 8-46 15 181 5-128 14 151 7-76 16 213 11 52 8-33 2-234 12 90 12 85 11 57 11 63 9-8 7-86 12 78 5-181 4-206 19 371 8-75 11 85 8-91 12 96 7-86 11 34 11 46 1-366 18 372 8-91 11 28 3-303 15 214 11 58 7-124 8-142 16 321 6-210 16 334 10-1 9-79 5-294 14 212 13 179 10 16 9-102 11 31 11 23 10-1 10-53 10 9 9-139 11 84 12 129 11-31 10-8 11 65 7-385 12 86 13 313 10-165 11 131 11-72 11 72 10-194 12 144 11 70 10-140 11 60 11-8 12 73 11-49 11-70 11 133 11 27 11-367 12 224 11 112 11-87 12-234 12 134 10 267 12-39 12-70 10 148 13-218 11 165 14-370 10 248 12-67 10 212 11 98 15-306 9 312 14-265 13-36 12-70 14-166-15 1324-1002-328z"/>
<path fill="url(#s0_7)" d="M529 2102l10 28 8-24 11 48 13 128 8-58 6-103 17 250 7-55 6-126 15 207 13 99 10 18 5-135 6-109 9 3 14 132 1-278 14 160 10 7 13 127 11 56 1-343 14 170 8-55 16 232 6-131 5-206 17 309 6-153 14 162 3-278 17 302 6-170 11 51 10-6 6-171 12 87 8-118 18 431 7-193 11 38 11 49 11 54 11 84 11 17 3-405 17 392 8-169 9-41 13 154 7-207 13 163 11 61 11 55 8-274 12 181 10-69 12 169 10-150 9-162 13 320 11 8 8-408 13 392 8-422 13 256 10-78 11-62 12 103 11 151 11-122 11-65 11 208 12 35 11 28 11-153 11 154 11-309 12 298 11-207 12-233 11 318 11-185 12-24 11 196 11 178 12-17 12-228 13-154 10 315 11 56 14-370 11 198 12 15 12-95 11 158 13-88 14-239 8 452 15-321-13 1226-1004-329z"/>
<path fill="url(#s0_6)" d="M517 2112l9-7 9 2 10 26 13 117 16 202 6-97 2-232 15 194 8-62 8-25 14 152 12 73 8-29 13 110-1-364 20 367-1-363 15 199 10 36 2-278 10 2 10 1 19 349 10 40 1-365 17 300 10 33 4-235 15 202 11 68 8-97 11 51 11 56 4-256 16 263 9-33 6-200 9-75 13 159 13 138 7-177 15 271 9-30 9-47 8-138 7-197 12 99 12 75 9-68 10-38 13 185 7-272 12 85 15 369 7-251 14 245 6-380 12 112 10-36 13 191 12 139 7-440 13 318 10-169 13 254 10-108 10-142 11 61 10-228 13 448 10-258 11-26 11-49 11-58 11-42 13 446 10-365 12 88 11-123 12 356 11 33 12-408 11 94 11 353 12-357 11 349 12-146 12-141 11 240 13-194 10 237 12-1 12 13 12-98 12-45 11 124 11 95 13-54 13-92 15-309-14 1301-1004-331z"/>
<path fill="url(#s0_5)" d="M516 2409l6-64 14 122-3-338 18 241 13 132 0-265 17 219 11 45 7-47 8-43 12 70 4-157 11 56 13 133-1-345 14 121 18 289-4-446 19 340 0-337 20 351 10 31 1-330 17 270 9 0 12 91 10-14 6-132 4-253 15 229 12 78 10 14 12 102 9-42 5-208 8-104 10-41 18 433 9-90 8-108 12 132 11 56 11 20 10-23 3-373 15 227 7-206 15 338 6-304 16 396 5-367 14 245 12 76 9-118 11 78 11 63 10-89 10-36 9-143 10-93 12 117 10-74 13 270 11 25 8-390 14 418 10-119 11 32 12 33 10-152 10-137 12 135 11 80 11-39 11-128 12 218 11-339 11 122 12 276 11 39 12-43 11-309 12 268 11-137 11 184 13-207 11-88 12 72 11 292 11 17 13-248 11 212 11 37 13-191 11 211 14-322 11 100 10 240 17-478 12-16-13 1362-1005-332z"/>
<path fill="url(#s0_4)" d="M506 2480l7-49 12 64-2-294 10 1 8-28 15 175 10 15 10 37 10 18 11 34 11 74 0-281 8-75 21 402 8-43 10 8 8-63 10 34 9-18 10 21 3-228 6-144 11 44 11 60 17 275 4-206 16 217 7-90 12 71 2-299 12 58 8-57 9-56 15 213 9-48 16 282 10 1 9-33 11 56 8-107 9-43 14 170 10-13 10 26 5-323 12 124 12 99 12 105 11 73 4-445 14 250 6-291 11-27 11 90 12 59 10-43 11 43 14 295 6-398 15 391 10-100 7-346 14 277 12 169 8-347 11 37 14 340 10-105 9-316 13 385 10-295 11-89 11-38 13 454 10-202 11-188 11 36 12-93 12 298 11 246 11-112 12-318 11 258 12-95 11-8 12-11 12 5 11 190 11 28 13-217 13-191 11 69 10 314 14-278 10 265 13-106 12-72 11 149 16-384 11 90-12 1277-1006-333z"/>
<path fill="url(#s0_3)" d="M488 2307l8-18 10 16 3-182 14 144 17 233 8-52 12 95 8-46 8-20 8-35 6-111 7-72 18 275 2-246 7-53 19 285 9-16 2-224 18 268 4-173 11 45 12 82 9-4 7-112 13 109 10 28 5-173 14 145 11 50 9-6 7-111 11 17 13 150 6-166 7-136 16 289 8-129 13 136 6-159 9-87 14 213 5-246 17 336 7-187 13 158 11 56 7-176 8-152 10 0 13 107 10 32 12 61 7-210 14 232 10-58 8-179 15 347 5-462 16 444 11 15 9-126 12 134 11 11 12 90 6-503 12 57 11 40 12 97 9-186 12-4 11 78 12 70 12 157 11 51 10-362 12 123 11 118 11-122 12 97 12 112 11 135 11-193 12-72 12-108 11-25 12 157 11 196 13-380 10 399 12-8 13-289 12 3 12-158 12 2 12 34 11 250 11 163 14-246 11 83 11 85-9 1011-1006-335z"/>
<path fill="url(#s0_2)" d="M477 2340l8-19 11 31 0-235 15 146 17 239 3-173 17 217 9-9-4-381 18 264 4-159 5-132 24 425 8-35 9-14 3-206 14 165 14 141-3-417 19 321 10 2-1-367 12 85 18 308 7-100 7-102 16 234 1-330 16 226 13 118 9-22 7-104 7-135 13 151 7-131 16 264 7-147 11 35 13 148 7-139 13 131 8-107 10-14 9-21 14 180 10 5 6-260 11 14 12 127 8-147 14 235 10-58 12 100 7-183 14 185 5-414 15 395 6-430 15 340 8-230 11 36 13 255 11 10 11-38 9-146 9-180 15 389 9-182 12 133 11 17 9-409 12 148 13 269 9-307 13 340 11 9 11-6 11-95 11-159 12 253 12-68 11-343 12 387 11-236 12 111 11 98 12-382 12 293 11-54 12 120 12 16 11 42 12-91 13-58 11 161 12-91 14-319 10 424 14-280 9 303-7 930-1007-336z"/>
<path fill="url(#s0_1)" d="M468 2435l5-112 14 114 5-92 4-148 21 326 5-127 4-134 15 163 4-160 11 49 8-23 18 257 7-68 7-77 14 143 9 0 7-105 4-164 13 106 6-96 18 255 8-26 9-49 7-67 3-249 13 109 9-39 9-18 15 213 13 101 12 84-1-439 14 160 15 214 9-29 9-40 13 118 10 5 4-277 8-80 16 268 9-56 11 48 16 259 6-183 8-143 14 225 7-195 14 214 8-149 10 1 14 172 5-352 13 177 12 107 10-17 12 85 5-413 16 391 11 8 10-42 6-398 15 342 11 76 10-80 12 105 11 1 11 27 9-284 12 155 11-83 11 3 12 206 9-368 14 362 9-301 11-71 13 293 12 94 11 9 11-211 12 163 11 32 11-458 12 419 12-387 11 434 12-15 12-25 12-315 12 72 12 28 11 137 13-173 11 87 14-211 10 230 14-255 10 324 11 138-7 917-1008-338z"/>
<path fill="url(#s0_0)" d="M459 2507l9-5 6-65 7-73 8-30 12 87 1-224 18 240-2-310 15 153 9-16 20 307 8-19 7-89 0-282 18 273 13 102 1-244 9-35 9 4 7-95 15 174 15 183 6-121 5-151 18 278 3-225 10-8 9-50 18 316 9-24 7-98 6-168 9-28 12 86 17 270 3-288 15 212 8-88 13 147 4-272 18 332 10-6 4-270 17 337 10-32 4-287 11-11 13 159 9-59 13 116 8-127 13 136 7-168 10-35 17 402 4-443 12 113 12 81 7-312 13 155 13 249 11 10 10-117 11 24 11 61 11-69 8-249 14 327 12 65 7-477 12 163 13 267 11 0 11-45 12 87 9-377 14 407 11-19 10-209 12-45 11 93 12 145 12-4 11 2 12 23 11-466 12 2 11 411 12 51 12-79 12 39 11 289 14-658 12-22 10 449 12-33 13-182 12 40 11 75 15-268-10 1290-1008-339z"/>
</g></g>
<rect x="241.5" y="204.5" width="10.8" height="119.5" fill="url(#cbg)"/>
<line x1="252.3" y1="204.5" x2="253.8" y2="204.5" stroke="#666" stroke-width="0.5"/>
<text x="255.1" y="206.1" font-size="4.6" fill="#222">1200</text>
<line x1="252.3" y1="216.4" x2="253.8" y2="216.4" stroke="#666" stroke-width="0.5"/>
<text x="255.1" y="218.0" font-size="4.6" fill="#222">1120</text>
<line x1="252.3" y1="228.4" x2="253.8" y2="228.4" stroke="#666" stroke-width="0.5"/>
<text x="255.1" y="230.0" font-size="4.6" fill="#222">1040</text>
<line x1="252.3" y1="240.3" x2="253.8" y2="240.3" stroke="#666" stroke-width="0.5"/>
<text x="255.1" y="241.9" font-size="4.6" fill="#222">960.0</text>
<line x1="252.3" y1="252.3" x2="253.8" y2="252.3" stroke="#666" stroke-width="0.5"/>
<text x="255.1" y="253.9" font-size="4.6" fill="#222">880.0</text>
<line x1="252.3" y1="264.2" x2="253.8" y2="264.2" stroke="#666" stroke-width="0.5"/>
<text x="255.1" y="265.9" font-size="4.6" fill="#222">800.0</text>
<line x1="252.3" y1="276.2" x2="253.8" y2="276.2" stroke="#666" stroke-width="0.5"/>
<text x="255.1" y="277.8" font-size="4.6" fill="#222">720.0</text>
<line x1="252.3" y1="288.1" x2="253.8" y2="288.1" stroke="#666" stroke-width="0.5"/>
<text x="255.1" y="289.8" font-size="4.6" fill="#222">640.0</text>
<line x1="252.3" y1="300.1" x2="253.8" y2="300.1" stroke="#666" stroke-width="0.5"/>
<text x="255.1" y="301.7" font-size="4.6" fill="#222">560.0</text>
<line x1="252.3" y1="312.1" x2="253.8" y2="312.1" stroke="#666" stroke-width="0.5"/>
<text x="255.1" y="313.7" font-size="4.6" fill="#222">480.0</text>
<line x1="252.3" y1="324.0" x2="253.8" y2="324.0" stroke="#666" stroke-width="0.5"/>
<text x="255.1" y="325.6" font-size="4.6" fill="#222">400.0</text>
<text x="247.1" y="200.0" text-anchor="middle" font-size="7.85" fill="#222">Temperature</text>
<text x="64.7" y="360.8" text-anchor="middle" font-size="11.7" fill="#151515" stroke="#151515" stroke-width="0.4">1000</text>
<text x="93.3" y="370.6" text-anchor="middle" font-size="11.7" fill="#151515" stroke="#151515" stroke-width="0.4">2000</text>
<text x="125.5" y="382.7" text-anchor="middle" font-size="11.7" fill="#151515" stroke="#151515" stroke-width="0.4">3000</text>
<text x="160.2" y="382.7" text-anchor="middle" font-size="11.7" fill="#151515" stroke="#151515" stroke-width="0.4">0</text>
<text x="201.2" y="365.9" text-anchor="middle" font-size="11.7" fill="#151515" stroke="#151515" stroke-width="0.4">2000</text>
<text x="240.0" y="344.6" text-anchor="middle" font-size="11.7" fill="#151515" stroke="#151515" stroke-width="0.4">4000</text>
<text x="64.5" y="379.9" text-anchor="middle" font-family='"Liberation Sans", sans-serif' font-size="10.2" letter-spacing="0.4" fill="#1a1a1a" stroke="#1a1a1a" stroke-width="0.2">x axis (μm)</text>
<text transform="translate(225.3,371.0) rotate(-30)" text-anchor="middle" font-family='"Liberation Sans", sans-serif' font-size="10.2" letter-spacing="0.4" fill="#1a1a1a" stroke="#1a1a1a" stroke-width="0.2">y axis (μm)</text>
<text x="85.6" y="408.2" font-size="9.75" fill="#222">Acetylene black (<tspan font-style="italic">E</tspan><tspan font-size="6.2" font-style="italic" dy="1.9">max</tspan><tspan dy="-1.9">, 900 °C)</tspan></text>
<text x="12.4" y="198.4" font-size="10" font-weight="bold" fill="#222">(c)</text>
<polyline points="318.1,211.5 406.2,197.8 505.1,210.0" fill="none" stroke="#d6d6d6" stroke-width="0.6"/>
<polyline points="318.7,228.2 406.2,211.9 504.5,225.8" fill="none" stroke="#d6d6d6" stroke-width="0.6"/>
<polyline points="319.4,244.6 406.2,225.9 503.8,241.4" fill="none" stroke="#d6d6d6" stroke-width="0.6"/>
<polyline points="320.0,260.8 406.2,239.7 503.2,256.9" fill="none" stroke="#d6d6d6" stroke-width="0.6"/>
<polyline points="320.6,276.7 406.3,253.3 502.5,272.1" fill="none" stroke="#d6d6d6" stroke-width="0.6"/>
<polyline points="321.2,292.4 406.3,266.7 501.9,287.1" fill="none" stroke="#d6d6d6" stroke-width="0.6"/>
<polyline points="321.8,308.0 406.3,280.0 501.3,301.9" fill="none" stroke="#d6d6d6" stroke-width="0.6"/>
<polyline points="322.4,323.2 406.3,293.1 500.7,316.5" fill="none" stroke="#d6d6d6" stroke-width="0.6"/>
<polyline points="323.0,338.3 406.3,306.1 500.0,330.9" fill="none" stroke="#d6d6d6" stroke-width="0.6"/>
<line x1="359.6" y1="324.2" x2="357.0" y2="205.5" stroke="#d6d6d6" stroke-width="0.6"/>
<line x1="387.9" y1="313.2" x2="386.9" y2="200.8" stroke="#d6d6d6" stroke-width="0.6"/>
<line x1="430.4" y1="312.5" x2="431.5" y2="200.9" stroke="#d6d6d6" stroke-width="0.6"/>
<line x1="456.1" y1="319.3" x2="458.6" y2="204.3" stroke="#d6d6d6" stroke-width="0.6"/>
<line x1="483.5" y1="326.6" x2="487.6" y2="207.8" stroke="#d6d6d6" stroke-width="0.6"/>
<polyline points="318.1,211.5 406.2,197.8 505.1,210.0 500.0,330.9" fill="none" stroke="#bdbdbd" stroke-width="0.7"/>
<line x1="406.2" y1="197.8" x2="406.3" y2="306.1" stroke="#cfcfcf" stroke-width="0.6"/>
<polygon points="423.6,373.0 323.0,338.3 406.3,306.1 500.0,330.9" fill="#f01e16"/>
<g transform="scale(.1)" fill="none" stroke-linecap="round">
<use href="#fdd" stroke="#606060" stroke-width="17"/>
<use href="#fdd" stroke="#fff" stroke-width="9"/>
<path d="M0 0m3499 3456l16-4m-15-127l21-13m-244 56l12-6m-8 34l28-21m83 19l28-7m52-40l25-8m-165 15l20-14m94-33l12-6m196 221l31-7m-382-135l16-8m324 95l31-11m-160-73l29-13m-125-14l30-19m61 47l27-18m181 15l32-9m-387 51l11-7m105-96l30-16m-44-6l17-7m173 148l20-3m-23-70l19-12m-84 128l20-6m-23-161l27-6m139 80l21-14m-288 16l12-3m-82-23l13-8m5-24l24-11m130 23l21-12m-161-3l16-6m-10-22l11-4m219 163l30-5m0-82l22-6m-28 82l35-8m-160 1l20-10m-315-47l18-10m135 47l13-3m270 101l22-12m63-149l28-19m-418 79l26-8m79-47l34-13m-215 25l13-4m573 101l24-8m-597-111l26-10m47 38l20-4m14 83l27-20m185 40l22-16m-244-165l30-14m-49 129l28-22m59 60l23-7m-91-19l14-5m180 65l11-7m-242-141l27-11m278 131l28-4m-176-68l35-14m10 102l29-20m-61-2l25-19m-125-139l31-12m-16 149l29-21m-182-65l32-11m141 127l19-4m-180-66l30-9m-27 39l21-15m212-22l18-13m-92-15l31-15m5-61l19-11m-119 127l21-6m38 68l34-12m-97-94l31-20m-86 66l18-13m202-62l29-13m-376 68l29-16m141 45l26-12m99 75l21-15m-20 31l27-17m80-58l27-15m-36 15l27-10m-235 28l17-10m-79-43l25-11m238 30l33-10m-137-3l35-7m-266-11l20-6m86-32l24-5m104 6l28-7m227 43l16-8m-71 40l31-12m-471-12l35-7m-91 26l31-4m254 53l29-20m2-68l31-12m-124-12l36-12m-67 94l16-4m-88 7l23-17m262-73l26-12m-158 48l15-10m19 23l36-11m93 161l13-2m-366-121l23-13m-67-3l12-4m206-37l30-11m-52 88l18-7m191-1l27-4m-262-39l35-6m51 37l31-15m-117 29l28-8m107 89l12-4m13 19l21-6" stroke="#ffa800" stroke-width="9"/>
</g>
<line x1="318.1" y1="211.5" x2="323.0" y2="338.3" stroke="#5a5a5a" stroke-width="0.8"/>
<line x1="316.5" y1="211.8" x2="318.1" y2="211.5" stroke="#5a5a5a" stroke-width="0.6"/>
<text transform="translate(315.5,213.7) rotate(-12)" text-anchor="end" font-size="5.2" fill="#333">1200</text>
<line x1="317.1" y1="228.5" x2="318.7" y2="228.2" stroke="#5a5a5a" stroke-width="0.6"/>
<text transform="translate(316.1,230.4) rotate(-12)" text-anchor="end" font-size="5.2" fill="#333">1100</text>
<line x1="317.8" y1="244.9" x2="319.4" y2="244.6" stroke="#5a5a5a" stroke-width="0.6"/>
<text transform="translate(316.8,246.8) rotate(-12)" text-anchor="end" font-size="5.2" fill="#333">1000</text>
<line x1="318.4" y1="261.1" x2="320.0" y2="260.8" stroke="#5a5a5a" stroke-width="0.6"/>
<text transform="translate(317.4,263.0) rotate(-12)" text-anchor="end" font-size="5.2" fill="#333">900</text>
<line x1="319.0" y1="277.0" x2="320.6" y2="276.7" stroke="#5a5a5a" stroke-width="0.6"/>
<text transform="translate(318.0,278.9) rotate(-12)" text-anchor="end" font-size="5.2" fill="#333">800</text>
<line x1="319.6" y1="292.7" x2="321.2" y2="292.4" stroke="#5a5a5a" stroke-width="0.6"/>
<text transform="translate(318.6,294.6) rotate(-12)" text-anchor="end" font-size="5.2" fill="#333">700</text>
<line x1="320.2" y1="308.3" x2="321.8" y2="308.0" stroke="#5a5a5a" stroke-width="0.6"/>
<text transform="translate(319.2,310.2) rotate(-12)" text-anchor="end" font-size="5.2" fill="#333">600</text>
<line x1="320.8" y1="323.5" x2="322.4" y2="323.2" stroke="#5a5a5a" stroke-width="0.6"/>
<text transform="translate(319.8,325.4) rotate(-12)" text-anchor="end" font-size="5.2" fill="#333">500</text>
<line x1="321.4" y1="338.6" x2="323.0" y2="338.3" stroke="#5a5a5a" stroke-width="0.6"/>
<text transform="translate(320.4,340.5) rotate(-12)" text-anchor="end" font-size="5.2" fill="#333">400</text>
<text transform="translate(302.3,281.5) rotate(90)" text-anchor="middle" font-size="6.6" fill="#333">Temperature</text>
<clipPath id="sc273"><path transform="scale(.1)" d="M3208 2809l5-180 5 20 5 28 5 57 5 39 5 28 5 13 5-15 5-15 5-41 5 29 5 17 5-28 5 14 5 49 5-20 5 15 5 1 5 20 5-6 5-6 5-35 5-6 5 28 5 23 5 7 5 8 5-2 5-4 5-10 5-14 5 3 5-1 5-18 5 22 5 72 5 72 5-252 5 31 5 8 5 8 5 9 5-29 5-18 5-75 5 1 5 84 5 78 5-89 5 56 5 103 5 103 5 103 5-405 5-158 5 94 5 103 5 105 5-11 5 34 5 58 5 59 5 22 5-287 5 72 5 72 5 84 5 54 5-146 5-141 5 41 5 40 5 29 5 22 5-19 5-61 5-40 5 18 5-34 5-20 5-14 5-1 5 5 5 8 5-37 5 61 5 30 5 7 5 5 5 5 5 6 5 11 5 32 5 40 5-66 5-62 5 15 5 15 5 38 5 43 5 7 5-46 5-60 5 14 5-2 5-12 5-32 5-10 5 2 5 1 5 5 5 7 5-15 5 93 5 127 5-238 5 21 5 0 5-3 5 0 5 0 5 10 5 1 5-54 5 54 5 37 5-68 5 5 5 51 5-15 5-30 5-4 5 36 5 90 5 5 5 77 5-188 5 55 5 43 5-5 5 0 5 55 5 55 5 0 5-31 5 1 5 25 5 2 5 175 5-72 5-118 5-54 5 46 5 50 5-155 5-94 5 6 5 96 5 24 5-81 5 64 5 92 5 55 5 4 5-11 5-77 5-78 5 73 5 79 5-1 5-44 5 37 5-25 5-31 5-46 5-49 5-30 5 66 5 12 5 12 5-24 5-25 5 18 5 30 5-28 5-23 5 14 5-2 5-87 5 70 5 48 5-9 5-32 5-59 5-52 5 34 5 50 5 78 5-10 5-40 5 28 5 28 5 113 5-101 5-114 5 57 5-4 5-39 5 53 5 33 5 43 5-21 5-12 5-70 5-51 5 25 5 27 5 28 5 2 5-1 5 107 5-60 5-66 5 39 5 29 5 76 5-28 5-29 5-107 5 170 5 108 5 35 5-43 5-104 5-94 5 9 5-7 5 22 5 27 5-69 5-89 5 47 5 25 5 75 5-82 5-82 5 110 5-62 5-41 5-62 5 5 5-8 5 21 5 18 5-13 5 78 5 66 5-57 5-29 5 55 5-67 5 70 5 30 5-6 5 24 5-66 5-67 5-11 5 55 5-24 5-49 5 117 5 37 5-7 5-74 5-55 5-2 5 53 5 91 5-6 5-78 5-25 5-11 5 274 5-118 5-105 5-45 5-46 5 6 5 66 5-38 5-21 5 113 5-35 5-57 5 5 5 9 5-29 5-29 5 30 5-22 5 28 5 46 5 3 5-2 5-6 5 10 5 12 5-47 5-68 5 118 5 65 5 44 5 17 5-65 5-65 5-65 5 14 5-62 5-11 5-11 5 175 5 71 5-94 5-50 5-27 5-83 5-17 5 41 5-50 5-8 5-33 5 14 5 21 5 10 5 313 5-80 5-81 5-81 5-28 5-4 5-73 5-4 5-41 5 38 5 86 5-5 5-30 5-32 5-29 5-29 5 13 5 8 5 110 5-43 5-43 5-43 5-43 5-44 5-43 5-26 5-14 5-56 5-63 5-63 5-22 5 2 5 9 0-647-1840 0z"/></clipPath>
<g clip-path="url(#sc273)"><g transform="scale(.1)">
<path fill="url(#s273_85)" d="M4062 2231l9-184 9 152 9-187 8-14 9-5 9-8 9 17 9 34 9-48 9 35 9-1 9-31 9 42 9-2 9-23 9 40 9-51 9 26 9-3 9-20 8 237 9-47 11-176 9 5 9 46 10-33 9 6 9 5 10-32 9 1 9 34 10-4 9-25 9 43 10-31 9 26 10-13 9 28 10-20 10-27 9 65 10-10 10-39 10-1 9 9 10 26 10-26 9 27 11-40 9 34 10-31 10 9 10-7 10 3 10-1 4 270 12-70 10 8 14-188 9 37 10 17 11-29 9 34 8 105 13-112 11-58 10 22 9 46 12-39 10-6 11-17 10 19 11-13 10 4 10 16 10 5 11-10 10 41 11-28 11-2 11-15 10 6 10 30 12-36 9 58 11-18 12-33 10 26 12-13 9 42 12-19 9 30 13-49 11-4 10 42 11 4 13-48 11 2 10 17 10 34-46 1103-940-243z"/>
<path fill="url(#s273_84)" d="M4054 2229l8-70 9-144 9-28 9-3 9 1 8 6 9-4 9 19 9-16 9 49 9 7 9-24 9 2 9-10 9 51 9-68 9 38 9-33 9 54 10-34 8 145 8 99 11-148 9-57 9 34 10-71 9 48 10-30 9 2 9 13 10-43 9 2 10 13 9-11 10 19 9 5 10-21 9 9 10-6 9 55 10-26 10-20 10-4 8 65 11-46 6 196 13-172 11-37 9 7 10 23 10-1 10-23 9 25 10-1 9 62 7 153 9 48 10-26 11-21 14-196 11-16 10-12 10-1 7 147 12-82 12-64 10 15 11-4 10 10 10 0 9 50 11-31 11-23 11 4 11-10 8 74 12-41 11-29 10 41 11-30 11-7 9 48 7 109 9 68 12-49 17-167 9 45 11 0 12-43 11 1 11 1 11 2 10 26 11 2 10 35 11-13 12-7 12-24 11-10 10 36-47 1120-940-244z"/>
<path fill="url(#s273_83)" d="M4045 2135l8-153 9 1 9 35 9 58 9-89 9 12 9 19 8-20 9 69 9-15 9-22 9-9 9 9 9-7 9 53 10-76 9 0 9 31 8 122 10-85 9-7 9-2 9 10 10-49 9-5 10 11 8 88 10-30 9 21 9 10 10-13 9-44 10 5 10-16 9 27 9-1 10 22 10-54 8 91 11-91 9 19 11-26 8 59 11-52 9 23 10 9 8 68 11-28 11-61 9 23 9 47 11-48 9 30 10 31 9 7 12-90 10 16 4 281 12-99 12-93 11-32 12-69 10 22 8 87 7 108 15-180 10 25 9 31 13-85 9 58 10-7 11-3 11-12 11-26 10 5 9 72 11-18 12-59 11 1 10 1 8 94 11-25 10 23 13-65 8 81 13-64 10 22 12-10 8 67 5 179 20-250 9 40 11-2 13-43 12-16 9 55 11-17 12-22 7 113 15-102-46 1126-942-244z"/>
<path fill="url(#s273_82)" d="M4036 1987l9 21 8-19 9 148 9-74 9 207 9-35 9-161 9 30 9-50 9-22 9-16 9 8 8 120 9-37 9-3 9 76 10-125 8 125 10-76 8 184 9-71 10-64 9-4 9 50 11-176 7 204 10-51 9 50 9-31 10 1 9 21 10-67 9 68 11-143 8 100 9 26 10-24 9 35 9 28 10 3 11-141 8 151 11-107 10-40 10 16 8 112 11-102 7 146 11-19 11-114 9 53 10 10 7 134 11-49 14-185 10-12 10 2 4 305 10-34 6 203 16-272 12-71 10-9 13-121 6 173 11-12 12-82 13-100 7 109 14-108 7 103 9 62 13-111 11 9 12-70 10 18 6 158 16-173 5 170 16-163 6 152 16-153 9 29 12-13 11-12 4 192 13-53 7 102 11-1 13-76 12-19 14-81 5 153 16-124 3 216 13-52 14-95 7 117 18-174 5 147-38 927-942-245z"/>
<path fill="url(#s273_81)" d="M4027 2101l9 69 9 8 9-66 8 43 9-120 9 131 9-15 9-101 9 99 9-79 8 174 9 91 9-138 10-103 9 52 9-1 8 108 10-198 8 204 9-22 10-38 10-93 9 16 8 100 9 24 10-101 9 108 10-104 8 153 9 9 11-196 8 183 9 24 11-106 9 2 10-5 8 47 9 66 10 3 9-7 12-167 7 177 11-87 8 89 13-174 7 179 13-200 8 78 12-109 9 37 7 147 6 244 10-14 15-269 9 13 10-6 11-40 8 83 12-70 9 61 4 242 10-2 21-443 5 227 10-2 16-244 6 157 10 18 10 38 12-80 11-15 8 73 14-114 11-21 9 50 14-103 10 1 2 299 12-51 15-152 7 117 13-78 15-127 4 219 9 37 17-174 3 215 14-92 12-29 8 89 11-2 9 55 10 7 13-35 13-50 15-102 12-33-7 464 16-144 18-148-37 907-944-246z"/>
<path fill="url(#s273_80)" d="M4019 2185l9 69 8-63 9 188 9-213 8 12 9-186 9 7 9 131 9-81 9 145 8 236 9 29 10-219 9 0 8 26 9-14 10-83 9-29 9 60 9 17 9 34 9 18 11-230 7 254 11-199 9-14 9 99 8 102 11-135 7 224 12-244 8 122 9 24 11-139 8 170 9-28 9 38 11-106 11-109 9 60 9 33 9 36 9 75 12-135 8 104 6 185 14-239 7 157 10-23 11-43 9 56 5 236 11-81 12-119 11-7 12-138 10-7 14-162 4 269 6 191 13-125 6 169 19-410 7 135 10 31 10-9 12-70 9 54 12-47 9 29 15-177 6 190 12-77 5 190 13-70 18-283 11 10 3 259 18-252 9 33 12-24-1 358 14-103 11 9 11-25 10 34 8 73 17-185 15-120 1 293 18-215 4 218 20-265 3 227 18-199 7 110 4 193 10 24 14-67 18-182-40 992-944-247z"/>
<path fill="url(#s273_79)" d="M4009 2016l9-28 9 75 9 125 9-60 9-1 8-95 9 190 9-157 9 186 9 169 9-146 9 58 9-211 9 78 9 54 9-188 10-15 8 110 10-114 9 30 8 212 11-262 8 157 10-126 8 142 11-124 9 27 8 137 8 196 12-311 7 199 10-35 9 2 10-64 9 41 11-78 7 169 12-200 8 182 9-17 11-95 8 135 13-211 7 172 10-11 11-119 8 95 13-161 6 240 9-2 11-57 13-137 6 213 8 74 15-282 7 177 13-161 6 191 11-58 7 161 8 83 14-178 11-40 12-57 12-68 13-114 9 52 5 198 16-219 12-62 5 190 11-11 7 114 12-53 15-138 9 43 9 40 5 186 10 36 14-128 14-110 16-165 11 1 2 265 19-262 0 330 11-9 15-108 12-49 13-53 8 88 5 171 19-227 4 191 12-16 3 200 13-45 24-328 14-86-5 407-29 720-945-248z"/>
<path fill="url(#s273_78)" d="M4000 1988l9 50 9 14 9 193 9-133 9 250 9-315 9 177 8-167 9 31 9-89 9 129 9-61 9 205 9-249 9 137 9 18 10-83 8 100 9 76 9-25 9 39 11-198 8 91 9 122 9-66 10 29 9 37 8 123 10-64 9 33 11-285 8 244 11-196 7 207 12-175 8 116 9 18 9 42 12-187 7 197 10-38 9 46 11-112 12-109 8 115 11-96 10-22 6 215 10 3 10-7 14-216 8 90 8 106 7 162 12-137 12-101 10 19 12-90 9 46 6 198 13-138 7 107 12-57 13-112 7 116 14-143 12-65 12-73 7 136 8 87 14-132 6 151 17-246 9 71 6 173 14-127 3 263 11-23 9 35 10 13 17-180 17-213 6 151 5 173 21-298 0 307 17-190 5 174 19-231 13-44 11-13 1 288 14-81 6 139 8 85 17-181 2 237 23-301 3 217 23-315-42 1075-946-248z"/>
<path fill="url(#s273_77)" d="M3991 1989l9 29 9-20 9 55 9-59 9 25 9 227 9 77 8-232 9 146 9-171 9 40 9 144 9-188 9 223 9-112 9 62 9-16 10-1 9-29 9-106 10-49 8 186 10-123 8 204 10-52 9 13 9 33 10-103 8 107 11-88 9-6 8 165 11-199 8 212 8 84 8 132 14-422 10-59 7 251 10-6 11-147 10-12 9 37 9 64 9 28 12-144 8 111 8 154 12-187 12-131 8 134 11-65 9 66 12-140 10 0 7 170 11-52 7 140 13-116 4 299 15-239 9 42 10-1 11-43 9 52 12-53 14-153 9 48 10 4 14-149 4 256 12-61 10 38 15-176 8 90 15-146 3 263 12-76 8 101 12-52 4 236 25-464 9 34 7 135 9 49 7 122 13-78 8 99 19-253 6 160 8 75 12-18 14-106 14-79-1 325 15-87 17-154 11-3 12-15 5 151-33 839-947-250z"/>
<path fill="url(#s273_76)" d="M3982 1991l9 12 9 2 9 6 9 147 9 16 9 69 9-71 9-41 9-50 9 66 8-61 9 81 10-86 9 62 8 138 9 4 10-248 9 63 8 256 10-21 10-209 9-33 9-17 8 224 10-81 9 98 9 10 10-158 10 22 8 133 10-48 10-101 8 180 10-37 7 215 9-12 12-193 9 47 12-235 9 34 8 190 9 4 11-58 8 75 11-93 9 87 9 10 12-135 12-123 6 242 11-64 9 72 9-4 10-5 11-45 10 28 12-141 7 176 12-96 4 277 17-294 8 84 10 26 11-65 13-112 8 108 12-76 10-7 8 125 10 0 16-213 6 162 11-26 15-150 7 112 12-64 9 75 14-135 11 14 6 151 2 294 17-209 13-87 7 127 15-126 8 66 20-253-1 333 18-199 4 217 14-115 15-92 5 175 17-181 4 210 19-221-2 358 25-372 6 131 9 54-35 893-947-251z"/>
<path fill="url(#s273_75)" d="M3973 2025l9-32 9 3 9 72 9 140 9-67 9 21 9-61 9 81 9 132 9-41 9-236 9 157 9-70 9 165 9-207 9 165 9 11 9 44 9-172 9 89 9 48 9 25 9 12 9 21 11-279 8 187 10-10 8 128 10-80 11-188 8 184 9 81 11-245 7 281 11-144 8 149 11-179 9 102 9 34 9 32 11-56 9 25 12-156 7 176 10-13 10 3 9 39 9 17 10-13 11-33 12-169 7 183 12-98 9 10 13-129 8 105 13-150 7 124 12-58 8 108 10-20 8 116 7 131 16-254 8 94 13-110 9 37 15-168 4 239 13-88 13-97 3 264 15-164 15-159 6 158 12-59 12-56 4 248 10 11 6 186 12-63 16-182 4 214 24-426 9 71 9 54 8 80 12-41 6 166 23-371-2 375 17-162 17-159 12-20 8 83 8 81 7 97 6 150 10 28 13-58-29 774-949-252z"/>
<path fill="url(#s273_74)" d="M3964 2041l9-27 9 37 9-27 9 69 9 139 9-140 9 147 9-24 9-40 9 64 9 13 9-134 9 49 9 123 9-27 9-48 9-78 9-93 9 247 9-26 9-31 9 40 10-44 9 98 10-190 8 201 11-239 8 247 11-268 7 277 11-210 9 33 10-23 10-31 8 127 10-8 11-131 6 299 12-200 10-73 7 240 11-102 11-129 9 97 9 30 9 100 12-168 7 200 10 4 13-252 7 186 9 61 15-291 6 229 9 78 9 19 11-49 11-66 11-42 9 61 12-90 10 27 14-194 9 75 8 99 12-89 10 40 12-67 12-69 4 248 14-125 13-119 9 74 9 58 11-20 7 145 11-21 13-100 1 353 14-114 8 70 17-197 4 222 14-127 16-161 15-140 9 60 7 145 13-60 3 234 12-41 10 28 12-22 14-100 14-86 5 185 17-153 4 181 10 37 7 93-25 673-950-252z"/>
<path fill="url(#s273_73)" d="M3955 2040l9 24 9-24 9 144 9-51 9 102 9-82 9 114 8-242 10 111 9-21 9 174 9-108 9-159 9 266 9-28 9-210 9 151 9-96 9 159 10-199 9 182 8 90 10-38 9 5 10-81 9 71 9 22 10-109 8 118 10-71 9 57 11-145 8 117 9 43 12-213 7 263 11-120 8 126 10-52 11-120 7 186 13-258 7 214 11-96 7 244 11-90 10-75 9 73 13-219 10 35 7 179 14-256 7 142 10 26 13-194 5 281 13-167 11-49 9 76 8 111 13-123 9 20 10 9 7 176 10-6 12-69 17-296 4 268 17-253 6 149 11-22 15-143 8 85 7 136 15-178 12-38 4 262 17-251 3 263 11 9 10 4 5 211 16-167 14-118 8 102 10 26 13-91 11-6 8 109 21-305 10 32 3 218 11 21 8 91 23-362 10 60 7 106 6 141 16-128-1 318-25 668-950-253z"/>
<path fill="url(#s273_72)" d="M3946 2027l9-23 9 113 10 143 9 3 7-261 10 61 8-16 10 45 9 61 9-5 9 107 9-202 9 251 9-5 9-97 9-160 9 98 9 40 9 0 9 136 9-13 10 21 9-83 10-134 8 261 10-48 10-170 8 254 11-287 8 203 8 154 10-45 10-150 9 86 12-233 9-11 9 157 8 74 10-4 8 144 13-265 8 87 10-30 12-135 9 43 6 318 13-256 9 16 11-38 10-15 8 153 11-129 9 98 11-56 12-158 9 72 11-44 8 124 9 87 11-42 12-106 4 319 9 24 13-119 7 160 14-201 12-46 10-15 11-34 11-6 14-167 12-46 5 235 15-192 10 30 12-68 9 93 7 136 11-37 10 35 9 69 16-187 7 129 9 52 9 59 19-248 7 116 16-162 9 70 0 341 13-63 18-229 5 204 16-166 6 152 16-132 15-98 7 109 7 101 16-110-37 981-951-254z"/>
<path fill="url(#s273_71)" d="M3937 1998l10 196 9 20 9 81 8-84 9 53 9-144 9 21 9 47 9 35 9 52 9 12 9-88 9-77 9 45 9 40 9-51 9-27 9-70 9 24 9 204 10-237 9 287 9-9 10-193 9-10 9 22 10-86 8 274 10-123 9 36 10 21 9 37 10-59 10-60 8 121 10-34 11-179 9 150 9 47 7 226 12-214 9 97 11-111 8 96 12-140 8 76 10 38 10-59 10 44 9 26 13-198 7 162 13-156 7 167 10 24 14-233 10 15 7 147 13-139 10-18 5 313 12-120 8 95 8 131 14-183 15-230 8 127 12-85 9 75 12-97 7 177 10-1 13-111 13-63 12-79 9 90 13-88 3 267 14-110 13-85 9 60 12-53 5 201 14-90 10 6 10 28 10 53 7 113 4 229 19-274 18-204 1 318 15-130 6 149 16-146 10 32 13-54 10 43 9 42 18-179-37 1001-952-256z"/>
<path fill="url(#s273_70)" d="M3928 2110l10 137 9 1 9 51 9 6 8-120 9 87 9-90 9 93 8-114 10 171 8-206 9 21 9-67 10 221 9-58 9-87 9 159 9-42 9 25 9-43 9 90 10-216 9 25 9 171 10-53 9-76 9 34 10 5 8 161 10-124 10-36 10 3 10-151 8 173 10-33 9 114 10-130 11-84 8 139 7 290 12-232 10-51 9 67 10 3 11-111 11-83 7 225 12-157 10-70 11-14 9 15 7 208 12-101 8 106 12-108 12-105 10-26 4 377 13-154 12-144 11-2 6 207 9 85 12-120 14-160 11-44 7 149 12-48 11-42 9 60 15-200 5 253 15-208 12-33 4 251 17-256 5 232 17-230 4 239 14-123 11 5 14-107 1 325 11-6 16-157 5 170 10 27 11 18 21-330 12-14 2 262 20-260-2 398 14-82 20-282 0 335 8 78 12-30 23-326-3 392-25 686-953-256z"/>
<path fill="url(#s273_69)" d="M3920 2204l9 92 8-82 9 4 10 194 7-371 10 225 9-75 9 99 9 95 8-303 10 208 9 3 8-121 10 43 9 219 9-276 9 162 9-141 9 1 10-53 9 62 9 39 9-48 10-21 8 182 10-140 9 89 9 228 10-283 9 121 10-141 9 48 11-170 10-8 7 279 11-133 9 83 9 18 9 46 11-68 10-86 8 222 10-90 11-69 11-147 8 209 9 58 12-166 8 81 13-168 7 158 12-112 7 169 13-159 8 105 9 102 8 109 14-265 8 157 13-179 11-58 7 197 7 175 12-74 12-96 16-301 8 100 13-96 10 0 7 170 9 76 11-2 13-105 7 114 11 4 8 93 16-217 7 168 15-181 11-3 8 88 8 128 12-63 8 90 17-186 9 38 5 218 15-157 9 63 9 77 17-189 9 57 18-213-9 610 27-454 1 272 24-345 6 129 16-117-3 381-25 688-953-257z"/>
<path fill="url(#s273_68)" d="M3911 2250l9 23 8-64 9-65 8-86 9 114 10 51 9 60 8-48 9-175 10 230 8-158 9 113 10 134 9 58 9-154 9 31 9-178 9 364 9-131 9-24 9-8 10-50 9 88 9 192 9-2 9-18 10-166 9 139 10-163 9-8 10-104 9 175 9-73 10-18 10 3 11-249 7 327 9 120 11-224 10-5 9 57 7 233 12-218 9 74 12-188 9 32 10-7 11-32 8 120 13-217 8 123 8 122 12-106 9 69 12-148 3 444 11-31 16-403 9 60 11-44 13-153 9 93 8 103 8 139 14-204 13-135 7 192 9 58 11-18 12-72 14-154 8 88 10 28 10 60 7 122 12-60 13-79 8 120 15-170 11-6 6 148 9 98 11-16 9 45 11 17 20-322 1 332 17-208 6 166 8 87 15-119 10 49 13-58 5 174 10 15 12-19 22-322 8 97 16-116-14 703-14 378-954-258z"/>
<path fill="url(#s273_67)" d="M3900 2008l9 33 9 12 9-3 8-42 11 301 9 28 8-92 9-140 10 193 8-53 9-171 10 306 8-228 9 17 9 75 9-83 10 192 9 85 9-268 9 125 10-144 9 142 9-137 9 50 10 87 9 53 9-15 9 177 10-183 9 36 11-267 9-23 10 69 9 64 9 2 8 244 11-85 10-60 11-197 8 182 9 117 10-109 10 53 10-107 9 99 10-49 10 10 11-73 10-46 8 164 10 23 10 27 10-60 11-76 8 145 8 128 16-352 10-10 3 449 15-265 10-17 11-9 9 31 7 184 14-184 11-56 13-136 8 125 12-56 14-149 9 57 12-54 5 225 14-159 7 158 5 261 12-55 13-116 15-153 9 47 7 137 15-137 9 72 10 38 12-42 6 137 15-132 7 128 14-99 9 77 11-4 11-10 17-155 2 257 10 42 15-103 7 103 21-290 11 13 16-114-40 1107-955-259z"/>
<path fill="url(#s273_66)" d="M3890 2025l9-19 9 12 9-3 9 5 11 264 9 36 9 132 9-117 8-25 8-266 9 20 10 142 9 23 9 62 10 48 8-187 9-23 10 367 9-326 9-49 9 76 10 45 9 125 9-188 10-61 9 160 9 44 10-76 9-128 9 243 10-79 10-52 9 87 10-68 10-118 7 350 12-335 8 177 10 35 10-130 9 166 11-207 9 141 11-146 8 143 11-111 8 189 10 36 11-96 9 44 10 21 10-33 12-117 7 154 14-255 7 228 14-236 7 202 10-22 9 55 12-95 14-181 9 78 7 183 14-235 8 130 9 80 13-102 9 65 11-48 14-165 9 97 10 1 7 168 16-204 6 178 12-43 12-51 8 101 9 56 10 37 12-45 17-233 4 253 14-114 11 5 6 183 21-343 6 172 6 142 14-79 7 135 9 56 14-103 7 137 13-53 17-179 19-231-3 413 10 42-26 739-956-260z"/>
<path fill="url(#s273_65)" d="M3881 2032l9 24 9-28 9 45 10 161 9 29 8-134 10 185 8-185 9-81 9 126 10 155 8-251 10 201 9 61 9-148 9 134 9-207 10 213 9 34 9 57 9-111 9-1 10-41 9-110 10-51 9 169 9-159 10 98 9 147 9-6 10-40 10-182 9 152 10-114 8 174 11-241 9 243 9 40 9 72 10-90 11-180 11-36 8 127 11-51 10-69 8 203 12-183 7 197 10-13 12-112 8 132 13-246 6 284 15-309 6 281 10-32 10 37 10-22 13-167 7 185 13-121 11-59 8 157 12-100 6 214 12-114 12-57 14-159 8 76 12-25 13-114 9 64 8 94 14-154 7 172 13-79 10 7 10 40 7 172 11-17 11-1 12-44 7 117 17-206 8 79 12-19 8 113 16-190 11 9 3 261 18-231 15-129 9 75 0 357 12-33 10 58 12-32 17-191 13-28 18-201-41 1176-957-261z"/>
<path fill="url(#s273_64)" d="M3872 2022l9 45 8-47 10 32 9 106 9-58 10 169 9-24 9 79 9-49 8-162 10 164 8-76 10 125 9-4 8-221 10 40 9 47 9-19 10 123 9 279 9-258 9-121 10 52 9 193 9-189 10-146 9 262 9-49 10-52 9 85 10-60 9-92 10 92 9 77 11-279 9 19 8 279 11-194 10-48 10 58 8 127 11-80 11-118 7 266 10-40 11-108 11-88 5 464 12-194 10-31 12-130 8 132 12-130 8 123 14-257 8 110 8 167 13-227 9 102 13-188 7 201 12-54 8 126 7 158 10 30 13-150 10-4 14-186 9 103 9 84 12-104 15-205 9 81 13-78 4 259 16-216 9 64 6 199 16-210 5 226 18-279 11 10 10 17 10 69 8 98 6 177 13-93 6 185 19-265 5 192 15-122 12-19 5 175 11-4 13-36 11-4 9 71 21-292 0 328 19-231-32 939-958-262z"/>
<path fill="url(#s273_63)" d="M3863 2128l8-117 9 36 9 7 9 43 11 180 9 13 9 0 9 3 7-170 10 154 8-195 10 187 9-204 10 225 8-212 10 252 9 9 9 16 9-132 10 73 9-89 9-58 9 218 10-199 9 114 9-91 10 159 9-253 10 87 9 214 10-237 10-83 9 25 10-12 9 36 10 47 10-13 8 205 11-214 10-12 8 263 10-5 9 6 12-200 10-30 8 178 11-132 9 146 9 63 11-138 10 36 9 58 10 38 12-151 9 50 13-201 10 33 9 58 8 183 13-209 11-11 10-5 8 158 12-109 12-94 11-33 6 259 13-131 8 93 13-111 11-11 7 161 16-242 4 281 11-10 10 30 15-183 7 169 15-158 11-35 9 80 8 97 16-189 7 147 4 283 18-255 11-36 13-53 12-25 8 115 16-182 5 201 5 214 20-284 7 134 8 94 11 15 12-21 18-202 9 53-32 954-959-263z"/>
<path fill="url(#s273_62)" d="M3854 2168l8-125 8-29 10 138 9-106 8-9 11 260 8-132 9 0 10 127 9-91 9 44 9 34 8-142 10-2 10 220 9 10 9-79 9 35 9-79 9 86 10 46 9-4 9 7 9-54 10-190 9-3 10-49 9 93 10-46 9 241 9-22 10 4 10-157 9 177 9-46 9 168 10-11 10-138 11-147 10-61 9 65 10 45 10-102 8 206 11-99 11-72 7 216 13-277 8 232 8 142 9 96 10-34 11-24 12-203 10-27 11-42 11-14 9 29 9 137 10-20 11-75 11-48 10 19 10 39 10 40 15-271 7 210 10 30 10-10 15-224 5 312 10 17 11-49 11 21 10 5 16-248 12-39 3 325 13-79 8 98 16-185 7 126 17-245 3 325 6 190 14-143 20-300 10 9 4 250 18-224 3 292 10 35 18-240 16-143 4 208 15-104 2 303 17-189 8 91 19-208-36 1038-959-265z"/>
<path fill="url(#s273_61)" d="M3843 2012l9 2 9 45 10 52 9 45 9 52 9-29 9 12 9 10 8-105 10 22 10 219 9-42 9 40 9-112 10 262 9-15 8-320 9 71 9-119 10 93 9 60 9-126 10 166 9-69 9 4 10 12 9-107 10 89 9 60 10-166 9-2 10 80 9-33 10 71 9 133 10-111 9 102 11-244 9 102 9 174 10-64 11-228 8 290 10-6 9 70 12-271 11-30 8 200 10-53 9 118 11-145 9 142 12-173 7 241 10 49 12-181 10 42 12-183 9 130 13-236 6 300 10-1 13-133 8 123 11-21 12-97 12-109 9 110 10 33 10 11 10 22 9 76 15-223 7 217 11-16 10 18 17-291 8 106 7 174 13-79 8 123 9 47 17-211-1 454 14-146 21-358 3 309 14-114 9 69 9 74 12-46 18-224 13-74 8 132 2 273 20-282 3 270 12-13 10 25 18-183-31 906-960-265z"/>
<path fill="url(#s273_60)" d="M3835 2150l7-135 9 1 10 128 10 90 9 10 9-2 11 268 8-92 8-124 8-147 10 39 9-21 9 72 10 246 9-109 10 205 9-89 9 95 8-310 10 144 9-73 9-237 9 186 10 62 9-42 10 155 9-237 9 71 10-32 9 15 10 65 10-241 9 74 9 108 10-45 9 182 9 73 11-160 10-188 9 128 11-164 10 40 9 141 8 273 10-63 11-155 11-162 11-67 8 198 10-31 10 37 12-168 7 203 10 12 11-21 7 218 15-346 11-60 7 247 12-131 10-25 13-130 7 189 7 204 11-14 13-151 13-146 10 12 12-109 6 278 12-67 7 154 15-200 4 296 14-165 13-106 11 1 11 7 7 159 17-282 6 211 9 69 11 25 7 126 11-18 17-220 9 77 14-103 11-7 10 44 18-226 3 264 10 59 10 47 9 54 7 130 16-146 12-37 20-249-8 585-16 483-961-266z"/>
<path fill="url(#s273_59)" d="M3824 2022l9 38 9-26 10 128 8-58 11 184 8-81 9 36 11 210 7-267 9-19 8-100 10 73 9-81 11 307 9 30 9 138 9-203 8-237 10 170 9-147 10 245 9 4 9 4 9-136 10-99 9 43 10 90 9 58 9 46 10-186 10-113 9 203 9 72 10-196 10 207 10-285 9 293 10-135 10-147 9 261 9 21 10-25 10 39 10-82 8 251 11-176 11-48 11-171 8 247 12-222 10-38 8 253 11-94 8 147 12-99 10 9 9 36 11-30 13-171 7 222 13-206 11-73 7 263 11-80 11 1 10 25 14-244 6 280 13-142 10 17 10 56 11-25 8 128 13-125 11 20 12-94 11-14 8 128 8 141 11-7 18-287 7 136 11 28 8 87 18-267 3 311 11 9 7 152 12-32 21-381 12-34 5 237 11-4 8 102 11 37 13-68 6 154 16-134 17-183-3 450-19 585-962-267z"/>
<path fill="url(#s273_58)" d="M3815 2052l8-19 9 30 10 79 9 24 9-79 10 155 8-162 10 227 8-144 10 111 8-178 11 219 8-40 9-105 11 339 8-139 9-33 8-237 10 50 9 22 10 182 9-12 10 24 9-244 9 107 10 41 9-175 10 260 9-13 10 3 9-115 10 17 9 19 10 63 9 76 10-52 10-103 10-89 8 294 12-379 9 205 10-89 10-47 9 140 9 80 12-227 9 194 9 57 12-235 6 414 10-4 9 68 11-51 15-435 9 95 8 195 10-44 10 43 11-71 9 84 13-199 13-148 10 42 7 181 12-69 13-153 6 277 12-127 9 107 11-18 11-53 12-26 13-119 6 203 12-46 13-97 10 6 8 139 14-113 5 227 10 26 11 5 19-310 2 334 12-15 10 16 11 26 11-19 18-266 3 298 11 23 15-147 9 87 12-55 7 156 10 32 11 16 26-454-2 398 12-4-25 757-963-268z"/>
<path fill="url(#s273_57)" d="M3804 2018l10 23 9 15 9 23 11 178 6-218 10 47 11 207 10 94 6-305 11 183 8-78 9-47 9 54 10 122 9 8 9-34 9-26 10 46 9-112 9 103 9-92 10 69 9-49 9 15 10 152 9-4 10-4 9-178 10 49 9 58 10 24 9 84 10-60 9 88 10 67 10-206 9 24 10-84 10 86 10-166 10 34 10 12 9 102 10-130 10-3 11-30 8 226 11-88 9 72 8 196 12-171 8 226 13-317 11-133 8 255 9 21 13-222 9 149 12-133 8 166 12-172 9 148 13-189 9 75 11-38 9 109 10-2 12-79 9 86 13-108 11-43 11-3 6 237 10 19 13-121 10 55 9 70 16-235 11 6 5 245 16-224 13-58 7 146 12-37 10 42 6 182 16-166 6 178 14-104 7 155 18-252 8 130 11 7 16-178 11-2 11 23 8 132 14-89 12-24 1 309-23 735-964-269z"/>
<path fill="url(#s273_56)" d="M3795 2048l9 2 9-19 11 169 8-42 9-45 10 193 9-34 9 24 9-22 9 3 9 19 10 32 9 33 9 6 8-147 9-7 10 146 9-115 10 140 8-190 10 171 9-248 9 94 10 54 10 127 9 0 9-240 10 219 9-95 10-169 9 121 10 298 9-122 10-84 9 207 10 73 9-34 11-262 10-83 10-6 10-143 10 63 8 237 12-276 8 241 10 34 11-168 9 144 10 12 8 160 9 151 10-19 13-273 11-153 11-82 9 142 10-13 9 170 10-2 13-221 9 118 9 63 14-257 10 70 9 61 9 104 13-158 7 250 12-131 13-121 7 195 12-43 13-165 8 161 10 54 10 8 10 23 12-18 12-92 14-112 11-24 5 249 10 52 15-160 7 167 17-247 6 198 17-237 8 142 16-208 6 208 12-8 4 258 14-132 16-158 2 326 23-387 9 94-6 534 19-246-23 725-964-270z"/>
<path fill="url(#s273_55)" d="M3785 2047l9 11 9-34 10 62 10 133 8-95 10 135 8-150 9-29 11 278 8-189 10 177 8-206 10 159 8-120 9-26 11 206 8-110 10 140 8-243 10 151 10 19 9-56 9 97 9-250 9 3 10 7 10 272 9-246 10-37 9-4 10 248 9-32 10 25 10-143 9 68 9 259 11-296 9 40 10 30 10-163 10 0 9 241 11-138 9 32 11-178 9 144 9 133 10 4 10-18 10 30 9 104 10 85 10-79 14-366 8 176 12-101 11-54 7 276 13-247 7 233 11-31 13-193 10 12 12-99 8 196 10 43 12-133 12-65 7 189 10 74 10 19 16-291 8 160 13-125 8 116 13-98 9 90 7 184 10 38 15-176 10 28 8 139 14-146 15-172 5 262 14-139 5 266 16-199 6 195 21-366 4 244 14-102 15-113 8 98 5 240 8 94 17-169 18-212-6 567 16-167-22 707-965-271z"/>
<path fill="url(#s273_54)" d="M3775 2044l9-20 10 58 10 102 10 68 7-166 11 238 9-61 9 34 9 49 8-195 8-67 11 213 8-144 10 100 10 63 8-151 9 28 11 195 9-9 9-42 9-40 10 105 9-15 9-127 10 81 9-10 9-155 10 17 9 118 10 33 9-251 10 240 9 42 10-115 10-70 9 105 10 52 10-252 9 252 10-40 10 33 11-238 10 5 9 114 10 45 10-49 10 18 9 112 11-181 11-40 9 109 7 388 12-176 10-15 11-75 10-38 10 2 10 85 10 0 11-79 12-86 8 185 12-178 12-103 7 260 11-2 10-26 15-252 9 87 12-47 8 124 10 54 11-30 13-127 9 120 8 150 10 0 15-206 10 62 10 34 8 123 17-251 4 296 13-68 10 34 10 54 11 3 11-10 14-120 14-109 3 313 11 13 20-321 12-49 4 269 12-13 8 119 13-67 5 213 15-119-22 728-967-272z"/>
<path fill="url(#s273_53)" d="M3765 2030l10 38 9-4 10 107 9 9 10 129 8-100 10 50 9-25 8-44 9-67 11 200 9 36 9-55 9 48 9 19 8-210 11 210 9-31 8-214 10 254 9-74 10 64 9-25 9-141 9-12 10 28 10 31 9 114 10-24 9-218 10 203 9-130 10-123 10 191 9-11 10-143 10 107 9 127 10 26 10-21 10-156 10-89 9 272 10-26 11-112 9 65 10 32 9 85 11-98 9 91 10 78 8 256 12-308 13-263 8 210 11-78 9 142 10-1 12-177 10 66 10 8 12-114 8 139 13-187 9 174 10-11 14-194 7 229 14-216 7 179 12-65 13-107 7 169 11-13 10 59 13-109 11-4 11-15 6 254 13-115 11 0 13-105 14-130 6 231 15-170 9 75 5 262 14-114 12-33 8 110 11 3 17-208 7 162 8 102 10 59 21-320 4 224 7 161 20-294 5 234-23 741-967-273z"/>
<path fill="url(#s273_52)" d="M3756 2082l8-45 9-9 11 162 9-22 10 122 7-196 13 358 9 24 7-230 10 47 9 73 7-254 11 146 7-153 11 223 9-67 10 96 9 5 8-167 11 169 9-70 9 23 9-154 9-14 10 90 10 119 10 205 9-224 9 49 9-222 10 97 10 31 9 80 10-280 10 71 9 178 10-177 10-8 10 90 10-101 9 135 10-2 10 51 11-229 9 68 10 148 9 15 9 272 11-202 10 58 8 172 11-31 12-237 10-84 9 144 10 27 11-26 12-231 9 200 12-153 10 17 9 132 13-249 8 226 10 46 12-133 9 79 11-38 8 209 8 133 15-261 13-163 9 144 14-232 7 241 13-104 9 99 10 7 9 112 15-204 12-46 11-7 12-43 4 317 10 23 16-209 6 232 20-390 7 185 7 157 8 137 18-258 6 202 12-48 20-281 1 341 13-58 20-299-1 444 16-149-26 841-967-275z"/>
<path fill="url(#s273_51)" d="M3745 2028l9 1 9 1 10 62 12 189 8-82 10 123 10 85 7-150 10 45 8-37 11 103 9 3 7-246 11 237 9-29 8-165 9 5 11 196 9 21 9-118 9 63 9-39 10 69 9-124 9 2 10 157 9-212 10 225 9-199 10-46 9-32 10 224 10-231 9 262 10-265 10 83 9 72 10 97 10-199 10 210 10-289 10 141 10-116 9 239 10-2 11-236 9 232 11-161 10-2 9 198 9 73 10-15 12-253 10 39 10 39 9 156 10 2 12-156 11-16 9 80 12-126 10 50 9 129 10-19 13-180 10 16 9 168 10 47 11-80 6 327 10 1 17-401 11-8 12-33 8 133 15-214 8 148 8 156 16-270 7 208 8 119 12-50 15-175 12-47 10 70 5 257 12-58 10 62 14-131 17-225 5 245 11 3 13-55 7 150 18-215 9 86 3 270 17-165 5 195 11 25-19 643-969-275z"/>
<path fill="url(#s273_50)" d="M3736 2040l9 31 9 7 11 125 9 31 10 48 8-77 10 93 9-25 7-137 10 105 9-1 11 109 7-194 11 226 7-218 11 171 10 27 8-53 10-7 9 38 9-51 10 100 10 21 9-7 8-189 11 256 9-73 9-136 9-80 10 116 10-83 9-92 10 171 10 76 9-129 10 91 10-217 10 233 10-218 9 259 10-164 10 17 10-144 10 111 10 123 10-75 10-124 10 152 10 11 10 0 10 4 9 99 12-144 10-45 10 57 11-87 8 277 10-26 12-115 10 33 12-170 8 219 12-142 9 103 13-197 8 227 14-243 7 221 13-158 8 176 12-78 11 5 12-132 8 205 13-162 10 76 8 176 13-127 8 148 12-87 16-236 10 80 12-58 5 281 16-208 7 167 15-150 8 135 16-206 5 248 6 232 15-166 17-226 4 288 20-347 11 25 7 184 5 231 9 59 22-335-30 998-969-277z"/>
<path fill="url(#s273_49)" d="M3725 2031l9 1 10 22 10 54 10 99 8-65 9-31 11 157 10 77 8-86 9 45 9-22 9-32 10 139 9-43 8-91 9-95 11 232 9-35 9-81 8-145 11 305 10 77 9-156 10 239 9-45 9-180 9-29 9-42 10 38 9-159 10 110 10 55 9 0 10-179 10 36 10 165 9 20 10-67 10 54 10-215 9 232 10 9 10-133 10 91 10-142 10 83 10-91 10 179 10 2 10-15 11-188 10-21 9 240 10-24 11-118 10 35 11-91 11-53 9 152 12-173 11 4 10-16 7 317 13-223 9 197 10 8 11-56 13-182 8 200 11-25 12-95 7 263 13-169 12-61 8 200 15-289 7 264 11-15 12-84 10 70 12-67 8 132 10 36 13-90 10 73 18-335 5 287 6 235 11-15 14-98 10 21 11 10 13-50 20-336 6 193 6 191 12-10 19-263 1 380 21-328-30 1001-970-277z"/>
<path fill="url(#s273_48)" d="M3717 2109l7-75 9 1 11 112 11 117 9 20 11 132 5-318 9 50 12 217 7-164 8-73 10 8 11 158 7-152 11 136 8-90 11 198 7-267 12 269 8-64 10 31 9-120 10 156 12 445 7-375 9-125 9-135 10 154 10 31 9-108 9 8 10 113 10-5 9-217 10 98 10-156 9 161 10 46 10 97 10 109 10-162 10-56 9 64 10-81 11-42 9 98 11-119 9 140 11-78 10-52 9 206 10-8 11-84 8 326 12-376 12-146 9 158 9 156 12-175 9 137 11-38 12-216 9 154 9 110 11-42 12-114 12-91 8 182 14-257 10 89 9 136 9 58 15-221 11-38 9 102 13-84 9 85 7 223 11 5 10 16 14-139 10 55 12-66 14-125 4 318 9 92 13-48 10 28 16-195 7 145 20-362 1 438 14-113 8 133 13-48 9 81 19-281 5 219 20-289 14-97-33 1169-971-279z"/>
<path fill="url(#s273_47)" d="M3706 2062l8-26 9 0 11 84 10 125 10 11 10 79 9 17 6-261 11 149 7-126 10 106 9-102 11 248 10-2 7-190 10 132 9-106 11 190 8-142 10 117 9-5 9-122 11 331 9-75 9-49 8-303 9-13 10 38 11 176 8-182 11 194 9-204 10 26 10 167 9-83 10-155 10 220 9-205 10 17 10 333 10-204 10-105 10 175 10 61 9 185 10-184 11-88 10-82 10 18 10 112 10-34 11-76 10-78 10 46 10 124 11-132 10 88 9 128 10-13 13-261 9 200 9 54 13-206 9 125 12-89 9 82 12-118 11 17 8 173 12-45 10 29 11-36 9 93 12-21 11-53 9 113 15-242 11 6 6 269 10 38 12-44 15-190 10 33 8 155 10 63 11-11 11 5 6 261 19-376 15-143 6 229 14-123 5 258 11 3 15-151 19-282 3 321 7 166 14-78 11 10-22 771-972-280z"/>
<path fill="url(#s273_46)" d="M3696 2062l9-3 9 2 10 111 10 40 10 95 10 66 5-276 13 238 9 56 6-299 12 271 6-252 10 76 12 192 9 2 7-234 10 133 10 54 10 23 9 6 8-119 10 56 10 47 9-77 10 103 9-16 10 48 10 0 9 35 9-261 10 227 10-76 9-14 10 93 9-276 10 38 10-67 10 19 10 108 9-84 10 222 10-37 10-64 10-50 10 204 10-169 10 69 10 99 10-26 10-27 11-113 10-49 10 150 10-106 9 205 11-28 10 15 12-281 11-18 8 302 13-264 10-10 10 119 10 17 10 52 10 63 10 3 11-26 13-214 8 227 12-61 12-105 9 135 14-210 8 161 12-80 9 146 15-244 10 69 12-48 8 126 12-2 9 71 15-189 7 204 11-5 9 126 4 316 17-250 13-84 10 54 12-21 8 124 8 121 18-267 14-82 4 298 12-23 16-180 7 171-21 738-973-280z"/>
<path fill="url(#s273_45)" d="M3685 2037l9 1 9 1 12 160 9 33 7-165 12 255 8-101 11 131 5-269 12 226 9-57 10 44 7-167 9 30 11 115 10 114 8-119 9-84 10 41 8-48 9-52 12 273 8-193 11 184 10 59 9-61 8-161 11 184 9-28 10-1 9 22 9-158 10-52 10 8 9 56 11 128 9 26 10 2 10 4 10-6 9 6 10 6 10-207 10 10 10 229 10-151 10-27 11-46 10-4 10 92 9 94 11-214 10 213 10-64 10-3 12-158 8 265 13-296 10 21 8 244 10 61 13-280 8 243 11 1 12-200 10 74 10 43 11-24 10 91 12-81 12-106 9 120 12-93 11-51 11-3 8 230 13-120 8 142 12-57 10 58 12-35 11-18 9 97 10 42 11 4 11 8 19-373 3 383 16-219 9 101 11 41 14-124 8 154 12-56 7 206 19-309 7 190 6 174 14-94 20-306-30 1090-973-282z"/>
<path fill="url(#s273_44)" d="M3675 2052l9 4 9 17 9-27 13 245 8-63 8-89 11 151 11 125 5-285 11 175 8-125 11 133 11 182 7-192 8-81 10 63 10 27 10 56 7-213 11 145 10 73 7-270 11 235 11 172 9 0 9-137 9-31 9-103 10 117 9-62 10 94 9-169 11 210 10 38 8-296 11 215 9 21 10-55 10-55 10-138 10 92 10 125 9-64 11-146 10-46 10 60 9 179 10 58 11-119 10-125 10 192 10 29 11-181 10 47 10-46 10 76 10 168 10-22 11-68 10 65 10 21 10-15 12-65 10 31 12-151 10 54 10 41 12-140 8 238 13-159 11-75 12-25 7 264 12-61 8 148 11 24 13-185 12-57 10 65 10 45 15-217 11 37 6 239 10 68 17-295 8 157 8 153 12-20 17-298 9 128 8 160 7 176 8 143 18-279 8 111 15-142 15-132 5 238 8 132 21-351-26 992-975-283z"/>
<path fill="url(#s273_43)" d="M3665 2082l10 17 9 15 9 31 12 135 6-189 9 6 12 220 8-52 8-124 12 207 9-28 8-21 9-78 9 44 9-71 11 204 10-9 7-129 9-84 11 189 8-181 10 109 10 77 11 190 11 141 7-312 9 0 9-86 10 90 9-124 10 75 10 5 9-71 11 224 8-297 11 207 9-268 10 261 10-93 10 78 10-146 10-30 10 90 10 157 10-309 9 276 11-118 10 102 10-230 10 119 10 8 10-33 11 52 10-40 10 54 10 117 10-94 11 12 10-54 10 85 11-10 10-36 11-35 10 67 12-110 10 0 13-137 8 175 10 77 11-13 10 16 12-92 9 157 12-97 12-85 9 173 12-79 9 99 12-80 11 32 15-228 8 171 11-25 9 149 12-62 9 136 14-168 8 167 15-194 13-79 12-24 10 95 9 101 10 53 14-117 10 86 7 149 11 48 16-205 6 217-19 736-976-284z"/>
<path fill="url(#s273_42)" d="M3655 2061l8-18 10 17 9 28 12 158 9 12 10 85 9-10 9-28 9 14 10 30 9 26 9-3 8-98 8-74 12 192 8-120 10 37 10 86 9 2 7-234 11 106 9-44 10 156 10 60 9-75 10 35 8-146 11 101 9 26 9-110 10 56 9-196 11 240 9-126 10 38 9-183 11 280 9-15 10 38 10-252 10 267 10-138 10-174 10 204 10-179 10 194 10 76 10-1 10-17 10 1 10 1 10-13 11-50 10-46 11-141 11 4 9 184 10 82 12-271 10 45 10 65 10 150 11-159 11 6 10 24 10 62 11 15 10 48 13-190 10 28 11 26 8 195 11-9 12-104 11 36 9 76 11 44 12-133 11 14 10 106 13-122 9 114 11-12 13-121 14-141 4 402 8 137 9 108 15-203 9 130 21-465 7 205 9 120 15-164 11 14 7 178 11 29 19-307 10 86 17-223-31 1195-976-285z"/>
<path fill="url(#s273_41)" d="M3644 2059l9-2 11 82 8-49 9 11 9-29 11 117 9 42 12 131 8-62 10 77 6-194 10 55 9-4 10 51 11 113 9-43 9 24 7-186 12 204 7-227 9-21 12 218 11 150 9-13 8-105 9-113 9-88 9-33 11 244 9-204 10 52 10 153 9-171 10-37 9-51 10 36 10-38 10 246 10-31 10-88 10-76 10 106 10-167 10-26 10 99 10-13 10 168 10-29 10-142 11-47 10-15 9 297 11-60 11-205 9 292 10-30 11-19 11-202 10 139 11-134 11-80 8 305 12-191 6 551 14-406 10 56 13-202 10 37 10 120 11-34 12-113 10 73 10 86 10 26 13-173 10 65 11 19 9 132 11 2 11 21 8 136 13-70 16-287 8 131 9 165 13-125 12-35 8 188 11-1 17-290 10 54 14-99 9 127 5 272 12-12 11-11 11 12 14-67 20-339 3 320-22 870-977-286z"/>
<path fill="url(#s273_40)" d="M3634 2059l9-13 9 2 11 133 8-62 13 203 8-33 10 62 9 4 6-224 11 131 9 12 7-145 12 148 9 4 10 78 10 30 7-174 12 181 10 98 9 15 9-55 6-303 12 179 8-161 10 136 10 60 10-20 9-85 8-133 11 113 9-20 10 48 9-96 11 100 9-97 12 364 8-213 10 69 9-259 11 240 10-107 10 137 10-11 10-62 10-56 10 110 10-269 10 27 10 204 10 70 11-119 10-178 10 18 10 313 10-36 10 170 11-236 10 103 11-92 10 63 11-76 9 175 12-197 7 389 13-222 12-213 10 79 10 100 12-157 10 118 11-39 11-50 9 149 14-203 10 58 9 91 13-98 8 166 14-152 9 104 13-121 5 400 15-286 9 129 11 18 13-98 9 94 18-347 5 325 17-261 11 35 14-114 9 107 10 76 10 53 7 203 11 22 11 2 12-28 13-27-21 821-978-287z"/>
<path fill="url(#s273_39)" d="M3624 2086l9-17 9 26 11 113 7-109 13 197 6-157 14 274 4-282 13 223 8-86 8-66 9 8 12 175 5-270 11 101 13 272 7-190 10 69 9-48 9-2 9-85 11 177 9-21 9-26 10 38 7-239 12 224 9-78 8-157 12 267 9-40 9-172 11 182 8-274 11 219 10 61 9-129 10 65 10-24 10 34 9-149 11 219 9-226 11 176 10-252 10 166 10 49 10 85 10-159 10-40 11 9 10 35 10 183 11-244 9 256 11-147 10 43 10 93 12-238 10 116 9 141 12-144 10-14 8 384 11-107 14-398 11 15 8 242 13-249 11 52 8 204 13-179 9 208 12-93 9 105 11 23 14-223 11-5 9 161 10 12 12-70 9 190 10 50 14-164 11-22 10 58 13-74 3 413 16-204 11-3 13-106 10 61 16-173 8 157 14-127 17-228 0 499 11 8 16-162 12-33-23 936-979-289z"/>
<path fill="url(#s273_38)" d="M3614 2092l8-42 9 10 10 75 10 35 11 93 11 136 10 41 6-167 11 94 7-106 10 12 8-58 12 171 8-101 10 89 10 28 9-7 11 128 6-267 11 127 9 0 10 20 11 172 7-238 10 24 11 190 6-327 12 189 8-170 9 7 12 187 9-71 9-56 10 10 10 51 9-30 10 15 10-150 10 89 10 4 9-196 10 68 10-65 10 81 11 53 10-81 10 214 10 28 10-57 10-142 11-8 10-28 10 278 10-89 10 101 11-211 11-1 9 204 11-85 10 82 11-127 10 110 10 75 9 190 11-76 12-181 13-225 9 126 11 1 11-42 11 47 11-3 9 156 11-8 10 2 11 23 13-136 13-158 8 238 12-103 13-124 5 383 11 49 12-93 10 86 13-140 12-45 12-5 11 16 12-34 14-115 5 295 19-372 7 209 15-144 3 363 21-376 10 37 15-133-8 831-10 418-980-290z"/>
<path fill="url(#s273_37)" d="M3603 2076l9 21 9-16 12 172 8-86 12 156 7-82 8-66 10 70 6-182 13 190 9 26 11 92 9 1 9 0 7-205 12 204 8-111 9-38 11 133 9-32 10 116 8-116 10 12 11 127 7-246 10 99 9-56 10-12 9-75 12 333 7-384 10 86 10-63 11 265 9-141 9-131 10 90 10-90 11 226 9-139 10-52 10 18 11 201 9-158 10-123 11 290 10-194 10 46 10-55 10 66 10 76 11 138 10-58 10-76 10 26 11-212 10 239 10-2 11 58 10-22 11-9 12-228 10-56 8 416 12-87 12-230 9 181 11 34 10 19 12-120 10 109 13-279 8 266 11 40 12-127 10 118 13-174 8 250 10 5 13-124 13-104 12-65 6 306 16-290 9 129 14-156 11 38 6 294 17-323 12-17 10 69 13-78 10 87 4 345 12-21 18-280 14-122 9 161 5 252 20-321-28 1127-980-291z"/>
<path fill="url(#s273_36)" d="M3593 2093l11 127 12 147 9-4 10 71 4-263 11 63 9 46 9-8 8-117 9 42 11 86 11 93 4-298 12 144 8-82 12 163 6-189 14 298 9-18 6-251 12 237 10-17 7-170 12 201 8-147 10 51 10 63 8-210 12 240 9 30 10-40 10 33 9-25 10-41 9-38 10-30 10 106 10-24 10 43 9-70 10-25 10-202 10 200 10 34 11 33 10 202 10-263 10-128 10 229 10 7 10-89 11 65 10-231 10 116 10 128 11-31 10-43 10 122 11-189 11-129 10 235 10 80 11-3 10-40 11-27 10 68 11-61 9 311 11-81 12-141 12-140 10 94 10 62 14-277 9 148 13-158 7 342 14-233 8 190 12-62 13-127 7 264 12-18 12-75 12-12 15-233 8 176 11 1 10 94 11 29 15-205 6 289 19-379 9 121 5 307 21-434 10 88 4 340 11 21 17-213-24 988-981-292z"/>
<path fill="url(#s273_35)" d="M3581 2053l9 1 13 209 12 109 7-75 9-9 7-124 9 6 8-74 13 252 9-25 7-134 10 32 12 160 8-83 10 47 11 135 6-212 7-162 13 263 9-23 10 50 10 32 9-52 10 96 8-201 9-31 11 143 8-108 11 118 10 18 10-9 9 20 9-105 10-50 9-49 11 195 9-220 11 180 9-14 10-164 9-66 11 45 10 101 10-155 10 169 10 94 10-198 11 212 10-272 10 38 10 244 10-172 11 184 10-276 11 1 10-2 10 153 10 153 11 12 10-103 12-132 10-38 11-21 9 279 12-119 11-68 11-102 8 396 11-74 13-286 11 27 9 207 13-232 8 285 11 53 10 20 13-190 9 203 14-226 8 249 14-245 9 144 13-84 13-114 11 0 9 131 14-181 10 122 10 65 7 225 11 13 12-7 12-14 20-432 7 235 14-117 10 62 13-42 4 346 11 11-18 769-982-294z"/>
<path fill="url(#s273_34)" d="M3570 2055l9 1 10 35 12 132 8-57 12 130 8-35 5-197 10 1 10 79 9-47 10 43 11 112 11 96 9 8 9-6 6-243 10 70 10 36 12 191 8-78 8-125 10 40 12 161 9 19 7-235 13 249 8-124 13 347 4-532 11 128 12 195 8-206 11 161 7-246 10-18 12 273 9-48 10-86 10 83 10-84 9-45 11 157 10-56 10 42 10-1 11 103 9-109 10-249 11 277 10 137 10-409 10 26 11-12 10 133 10-51 11 75 10 122 10 23 11-3 10-7 11-178 10 158 12-170 11-58 9 257 11-134 10 105 11-16 11 6 10 66 13-256 9 253 12-119 11 0 9 148 13-217 10 107 9 197 11-25 15-265 8 194 14-184 12-70 12-5 6 355 10 24 17-354 9 138 13-69 9 158 12-45 14-115 6 250 18-284 8 165 16-236 2 470 22-452 4 356 20-364-29 1258-983-295z"/>
<path fill="url(#s273_33)" d="M3560 2086l9-14 9-13 9 1 12 154 11 56 9 6 8-24 11 75 7-104 7-111 14 242 7-118 11 132 9-18 10 1 9-6 8-97 8-68 10 40 9-43 13 249 7-162 14 328 9-23 5-331 11 75 11 167 11 101 7-204 9-109 10 49 11 101 8-132 10-54 11 175 10-3 9-67 9-107 9-121 11 126 10 47 10-131 11 210 9-124 11 109 10 51 10-217 10 195 10-251 10 23 11 273 10-48 10 29 11 47 10-209 11-58 9 382 12-397 9 295 11-117 11 80 10-35 11 61 10-41 12-219 10 75 11 59 10 68 12-136 9 191 13-200 8 254 11 7 12-109 10 138 11-8 14-281 8 268 13-170 8 230 15-264 12-69 8 214 12-58 11 3 8 240 12-53 17-338 6 316 13-87 8 181 14-145 9 152 20-469 10 125 7 200 12-22 12 12 13-60 13-63-25 1094-983-296z"/>
<path fill="url(#s273_32)" d="M3550 2080l10 70 8-42 8-46 13 182 7-135 10 63 12 138 8-75 7-108 13 233 7-141 8-69 9 8 13 210 9-3 10 9 5-275 13 253 6-215 14 265 9 4 9-42 12 229 9-93 8-68 7-193 13 261 11 74 5-392 10 53 11 86 10 109 8-269 11 121 12 262 10 87 6-478 10 0 11 181 10-119 9-101 11 231 10-92 11 130 8-263 11 114 10-63 11 178 10-46 10 49 10-76 11-100 10 216 10-188 11 255 10-50 11-38 10-9 11-163 10 24 11 160 11-236 9 380 11-122 11 37 10 7 12-235 10 171 10 77 12-156 9 262 8 317 13-279 13-148 10 83 13-260 9 257 12-84 10 52 11-27 12-39 9 140 15-243 7 291 14-216 9 194 11-3 12-69 15-185 9 114 8 204 12-15 11 8 16-199 12-20 13-64 8 157 9 145 14-109 19-364-28 1284-984-297z"/>
<path fill="url(#s273_31)" d="M3538 2060l10 12 9 28 10 38 9-24 11 105 11 96 9-4 9-25 13 206 6-167 7-115 7-134 12 161 8-77 11 105 11 118 5-284 11 82 13 225 9 5 6-240 13 221 8-87 9-36 12 147 8-49 12 183 9-93 9-43 7-182 10-59 9-11 13 258 9-2 10-69 10 94 9-65 9-195 9-70 12 242 10-7 10 22 10-79 9-53 11-11 9-69 11 95 10 70 11 19 10-127 10-44 11 227 10-63 10 128 11 33 10-177 10 29 11-73 10 18 11-137 11 133 11-142 9 415 11-89 11-216 12-102 9 287 12-275 11 38 9 204 12-66 11-54 10 82 10 106 12-122 10 183 10 20 12-34 12-67 11-48 10 157 13-174 12-80 7 293 15-217 9 158 11-10 14-167 8 210 15-227 8 206 11 46 11 41 17-283 14-162 10 100 6 310 10 73 14-113 9 122-17 803-985-298z"/>
<path fill="url(#s273_30)" d="M3528 2099l10 22 8-54 10 63 12 114 8-39 9-17 12 122 4-238 15 290 7-111 11 88 9-10 9 15 10 24 9 11 10 10 9-2 9-46 10 51 10 23 9 16 9-31 7-174 9-57 15 361 8-86 8-113 11 95 9-10 9-128 9-34 11 148 9-82 10 21 9-149 9-78 12 229 8-229 11 131 9-129 11 141 9-63 12 163 11 174 8-369 11 138 10 90 10-69 10-107 11 158 10-51 10 96 10-91 11 205 10-183 11-195 10 306 10-21 11-82 11-74 10 152 11-121 10 48 10 140 11-85 12-224 11 30 11-38 9 294 11-22 11 11 13-280 11 15 9 204 9 218 11-63 11 7 10 150 14-283 11-3 13-142 10 83 12-53 8 286 13-163 9 182 13-129 15-246 11 15 6 336 17-305 6 298 13-69 12 9 10 72 15-185 4 411 14-116 19-399 9 180-22 1003-986-300z"/>
<path fill="url(#s273_29)" d="M3517 2071l9-1 9 14 12 107 8-37 10 48 12 104 9 15 10 37 9-26 5-184 13 170 9 1 10 48 10 16 6-155 12 134 8-67 12 185 7-142 13 222 6-242 12 145 8-46 10-1 6-220 11 93 8-107 13 190 7-164 11 72 8-172 12 275 9-138 9-17 11 78 12 184 8-176 8-196 12 269 9-155 11 94 10 0 10-10 9-192 11 245 10-25 10-22 11 7 10 76 10-8 11 2 9-263 11 374 10-137 11-198 10 99 11 191 10 4 11-37 10 95 10 30 12-311 10 174 10 4 11 19 11-77 10 274 11-205 12-88 10 86 10 64 12-52 11-104 10 206 12-172 10 98 12-58 11-52 11 19 9 205 12-23 12-76 11 5 10 118 12-62 13-148 8 221 16-325 8 229 14-120 12-27 8 197 10 59 12 19 12-43 16-239 6 292 17-249 7 232 16-213-22 1071-987-301z"/>
<path fill="url(#s273_28)" d="M3507 2105l9 11 9-7 10 39 12 136 9-20 6-127 9 11 14 222 8-80 5-195 15 283 7-112 10 43 10 17 7-95 12 116 10 28 9-17 6-163 13 212 7-151 16 365 6-220 7-144 9-32 9-37 9-48 11 114 8-150 13 259 8-178 10 49 11 101 8-138 13 215 7-208 12 198 10-52 7-231 11 114 12 132 8-242 10 50 11 124 10-50 10 18 10-89 11 123 9-165 12 203 10 105 11 66 10 55 11 236 10-109 10-39 10-286 11-49 10 295 10 132 11-130 11-410 11 35 10 232 11-43 11-139 10 195 11-32 11-84 10 115 13-283 11 20 10 89 11 42 10 135 10 79 11-18 11 11 13-156 11 8 10 151 11-49 15-289 9 169 9 232 14-211 9 168 14-224 12 17 11 16 14-178 11 59 12-34 9 154 9 172 9 140 12-15 12-32 20-388 6 267-20 976-987-302z"/>
<path fill="url(#s273_27)" d="M3495 2067l9 1 9 1 10 38 13 157 9 9 7-88 11 70 12 123 4-243 8-47 13 201 7-129 11 106 7-136 13 170 10 23 5-199 13 176 8-56 9-56 11 77 9 15 8-97 10-15 9-34 11 88 12 193 6-258 11 93 11 98 9-106 8-131 11 73 9-29 11 118 11 91 9-132 11 125 9-82 10 7 10-61 9-96 12 215 9-155 10-56 11 180 10-113 10-62 10 73 11 203 10-85 12 403 9-369 11 40 10 158 10-203 11 6 10 2 11 185 10-76 11-21 11-251 10 224 11-106 11-10 10 172 11-74 12-219 9 449 11-167 12-235 10 296 10 28 11-13 12-62 11-38 13-214 8 342 11-31 13-171 11 1 11 76 11 11 10 76 11 45 16-330 6 355 17-357 12-48 10 126 8 227 12-12 10 95 15-250 14-137 7 282 6 300 21-494 15-120 7 244-21 1055-989-303z"/>
<path fill="url(#s273_26)" d="M3485 2108l9 16 9-26 12 119 8-25 10 31 11 97 10 32 8-58 5-191 15 276 4-259 14 209 9 3 6-153 14 208 5-184 11 58 8-81 12 138 11 115 12 126 6-216 9-28 10 62 10 26 10 4 9-22 8-115 11 79 10 66 6-304 13 215 10 73 8-172 14 315 7-273 8-149 10 1 12 233 11 42 9-14 10-33 9-189 12 224 9-46 9-205 12 264 10-41 9-214 11 70 11 163 10 52 11-12 10 34 10-34 11 53 10-150 11 144 10-44 11-264 11 95 10 0 11 167 10 66 12-320 10 183 11-163 10 273 12-142 11 3 10 39 12-81 10 107 10 162 13-307 11-3 9 309 11 26 13-243 10 170 11 9 13-228 12-57 9 221 10 158 15-294 10 60 10 165 12-34 14-218 8 290 12-47 10 112 12-25 13-119 13-69 15-159 10 100 10 119 16-259-25 1300-989-304z"/>
<path fill="url(#s273_25)" d="M3474 2123l8-46 9-4 10 22 12 133 8-59 12 131 14 191 9 38 4-249 11 71 8-50 10 52 7-131 12 131 10 40 8-67 6-154 13 196 12 109 10 29 6-205 9 13 11 67 9-38 8-105 11 78 8-56 8-131 12 165 10 7 9-70 8-102 14 277 10 1 7-208 12 185 7-262 13 279 8-155 10-67 12 203 8-253 12 223 8-161 12 180 9-101 11 10 11 93 10-7 9-225 11 215 11-1 10 48 10-156 11 150 10 19 11-144 10 194 11-109 10 98 11-185 11 134 10-138 11 111 11-122 11-12 10 119 11 52 11 38 11-191 10 250 11-68 12-82 10 168 11 16 13-282 10 148 11 10 10 126 12-108 10 139 12-71 14-247 7 327 14-210 10 93 12 11 12-86 10 151 9 133 15-236 9 178 18-370 4 428 12 30 17-353 12 26 13-84 13-77 4 457-17 847-989-305z"/>
<path fill="url(#s273_24)" d="M3462 2081l9-8 9 22 13 126 5-144 11 46 12 149 16 256 8-5 6-154 9 5 8-79 11 98 7-130 12 125 3-296 9 6 12 115 14 205 8-27 8-110 11 75 6-174 15 286 8-78 7-117 11 38 8-62 10-27 10 27 9-35 11 56 11 130 8-139 9-61 12 163 9-89 10 5 10 31 10-52 9-84 10-45 11 98 9-95 10 2 11 122 11 116 11 2 10 29 10-4 10-31 10-51 10-171 11 167 11 28 9-190 11 59 11 129 11 140 10-119 11-103 10-13 11 241 11-48 10-32 11 29 11-165 11-56 10 270 11 52 12-235 10 95 12-149 10 91 11 91 11-3 10 176 13-251 11-22 9 232 14-328 11 34 9 245 12-17 13-138 10 137 12-55 14-225 9 184 12-67 11 98 10 75 8 242 14-166 7 320 19-458 10 77 17-298 3 513 17-288 9 162-17 923-991-306z"/>
<path fill="url(#s273_23)" d="M3453 2151l8-34 8-41 13 153 9 17 6-155 12 144 12 110 7-90 13 143 7-81 9 7 9-51 11 82 5-170 13 176 8-76 9-27 11 60 8-50 11 74 10 37 6-210 11 105 11 38 6-204 14 290 9-29 10-28 7-165 9-61 12 208 11 37 7-168 11 33 11 119 8-184 13 242 6-275 16 509 7-286 8-219 12 213 9-61 11 71 9-160 11 71 11 84 9-135 11 168 11-3 10 51 9-282 11 159 10-75 11 83 11-10 11 109 10-133 11 118 10 65 11-47 10 16 11 48 11-39 11-60 10 69 11 33 11-109 11 108 11-22 11-222 10 270 11-19 12-232 10 307 11 8 13-356 9 351 12-155 10 163 12-131 13-163 11 95 10 123 12-107 10 187 11 0 12-23 10 83 13-95 15-245 4 519 11 56 18-471 9 216 11 17 11 65 17-327 14-125 3 491-14 795-991-308z"/>
<path fill="url(#s273_22)" d="M3440 2086l8-9 10 7 11 63 12 122 9 10 9-13 5-158 9-17 14 201 5-176 15 253 5-183 9-25 11 81 8-103 11 82 12 149 9-24 8-80 9-3 7-158 10 44 11 58 12 121 9-24 9-66 11 93 11 74 8-73 7-215 12 178 10 26 11 49 10 19 9-41 10-1 9-72 10-8 11 111 8-234 11 110 11 127 8-215 11-10 10 44 11 70 9-109 12 105 11 107 9-141 10-83 12 234 10 15 10-75 11 128 11 25 10-11 10-253 11 164 11 97 10 14 11-240 10-12 11 435 11-250 11-151 10 234 11-22 11 24 11 64 11-114 11-73 12-142 9 410 12-226 11 42 11-5 13-208 9 287 11 41 11-53 13-141 9 201 14-273 9 262 13-167 10 112 14-186 11 42 7 418 15-304 7 341 16-313 12-55 10 152 11 3 14-120 10 98 16-208 8 208-17 943-992-309z"/>
<path fill="url(#s273_21)" d="M3429 2102l10 35 8-20 13 124 8-47 7-55 14 174 10 42 4-224 14 185 8-35 5-171 15 256 10 28 7-108 12 101 5-200 13 184 9-34 5-234 13 173 8-60 8-55 13 143 10 43 6-208 10 34 10-31 12 141 8-92 12 175 7-187 16 410 6-306 11 143 10-2 9-100 11 96 6-289 11 70 10-5 10-14 12 136 13 256 7-260 10-12 9-136 12 173 10-16 11 34 9-184 11 214 11-44 10 11 9-188 11-9 12 301 10 25 10-322 11 145 11 131 11 14 10 41 11-125 11 122 10-108 11-4 11 64 11 36 11-92 10 159 11 125 11-148 11-19 11 61 12-293 11 22 11 123 10 102 11 54 11 5 12-25 13-248 10 183 13-246 12-34 9 318 12-46 13-197 10 176 10 140 7 315 21-694 10 119 10 110 9 235 10 96 16-307 7 337 20-490 12-10-22 1238-993-310z"/>
<path fill="url(#s273_20)" d="M3417 2100l10 10 8-29 14 168 7-55 7-109 12 105 15 221 6-93 8-51 12 86 6-127 14 199 7-79 10 24 10 20 9-18 9-1 10 36 5-212 14 204 7-120 9-10 9-38 8-90 9-27 12 121 8-104 10-13 11 114 13 196 9-64 15 297 4-374 9-7 13 179 9-79 9-41 11 79 7-262 10 41 10-60 13 260 7-257 12 142 9-97 10-40 10 15 13 203 11 92 10-17 10 43 12 237 9-182 9-217 11 71 11 79 10-71 10-210 12 244 10 51 10-168 12 185 10-8 11-103 11-90 10-26 11 173 11 71 11 15 11-59 10 173 11-6 11-25 11 129 12-441 11 207 11 54 12-233 12-115 10 143 10 191 12-57 14-288 11 18 8 379 12-64 11 19 12-38 11 103 13-200 11 86 11 26 15-191 13-119 7 309 14-106 11 60 15-226 5 419 13-57-15 928-994-311z"/>
<path fill="url(#s273_19)" d="M3406 2103l10 10 9 11 12 97 11 92 3-226 17 292 7-87 12 96 7-62 5-182 14 189 11 79 3-275 15 234 12 130 8-65 4-237 9-48 11 65 13 198 5-220 12 89 6-139 15 255 5-233 10 11 10 14 14 256 9-83 8-60 11 56 14 284 5-339 7-176 12 128 11 114 11 33 7-198 9-61 13 166 10 41 11 69 10-60 9-34 11 89 10-34 9-189 10-43 14 432 8-203 10-28 13 314 9-159 10-45 11 25 10 16 11 90 10-96 10-136 11-181 11 144 11 246 10-106 11-95 11 125 11-240 10 138 11-57 11 150 11 158 11 96 10 83 11-135 11-17 12-120 11-9 12-216 12-125 10 267 12-120 12-67 9 275 13-251 12-80 11 152 9 215 12-12 10 114 13-186 15-248 8 279 12-15 11 31 14-117 13-128 12 23 9 162 10 156 11 10 11 90-13 808-995-313z"/>
<path fill="url(#s273_18)" d="M3400 2278l4-155 9-12 12 86 12 127 9-32 7-66 14 172 8-18 9-27 11 57 7-66 5-191 11 75 15 220 9-8 5-193 12 129 4-230 9-20 10-8 9-5 12 94 14 241 9-15 8-84 10-16 11 71 5-239 15 298 10-2 8-110 10 53 11 24 9-62 10 63 10-8 10 30 6-314 11 92 10-56 12 174 8-204 11 95 13 259 9-127 10 35 9-167 11 54 10-7 11 96 11 89 9-274 12 252 11 59 8-344 13 317 9-140 11-29 10 3 12 281 11-25 10-228 10-112 11 109 11 131 11-203 11 77 11 65 10 64 11-103 11 440 11-95 11 90 12-579 10 279 12-186 11 16 11 15 11 114 10 173 14-431 11 103 11 20 10 252 11-14 13-151 10 199 14-233 13-162 8 333 11 42 16-370 12 5 10 115 11 88 10 164 11-6 17-292 9 162 16-210-21 1311-996-314z"/>
<path fill="url(#s273_17)" d="M3389 2299l3-208 10 18 11 69 12 111 7-70 10 9 10 55 11 47 5-156 8-28 17 276 9 13 10 16 5-177 8-50 8-59 16 281 5-206 13 165 4-246 13 156 11 58 12 97 2-347 12 116 11 83 9-58 13 159 5-243 13 205 8-113 13 182 6-239 12 111 12 165 10-28 8-134 9-9 12 144 10-60 8-134 12 182 11 7 9-100 11 87 7-277 12 143 10 28 11 79 11 53 10-32 11 33 9-137 11 109 12 145 10 21 10-95 11-28 9-299 12 358 11 150 9-495 12 244 10-158 11 251 11 0 11-42 11 49 11-349 10 438 11 149 11-50 11 30 12-246 11-267 11 285 11-83 11 95 12-160 12-113 11-43 10 338 13-350 9 358 12-59 12 6 10 68 15-372 8 377 13-74 11 42 13-109 9 182 16-296 10 100 13-28 12-2 7 336 12-56 15-204-16 1078-996-315z"/>
<path fill="url(#s273_16)" d="M3389 2657l8-32 3-199 19 349-1-319-1-363 16 247 7-104 12 97 3-203 14 151 12 117 11 78 9-23 11 91 11 43 5-163 11 69 9-19 4-252 12 107 7-118 15 268 5-231 9-23 13 167 7-111 11 53 9-41 13 170 4-291 15 243 10 59 5-281 15 281 10 6 9-32 7-189 10-32 13 218 9-52 10 0 7-246 12 135 14 306 8-227 10-33 10 3 10-45 10-39 10 15 12 184 10-38 10-111 12 161 11 210 11-37 10 0 10-123 10-151 12 301 9-245 11-22 11 79 10-37 11-171 11 126 11 110 11 91 11-166 11-194 11 303 10 194 11 8 12-476 11 143 12-123 10 156 11 256 11-152 12-121 12-25 10 163 12-89 12-136 10 214 12 5 13-199 10 120 14-240 9 274 11 140 11 4 12 22 16-426 11 120 9 226 10 155 17-429 9 228 8 242-11 787-997-317z"/>
<path fill="url(#s273_15)" d="M3377 2653l13 130 0-282 17 257 6-96 0-307 6-117 15 217 0-356 16 261 3-216 18 309 10 14 7-75 12 116 5-196 10 28 17 314 2-283 10 20 12 97 10 22 8-68 11 54 7-91 8-106 9-39 7-121 13 161 7-126 14 232 12 101 10-11 7-116 11 34 12 114 8-76 9-41 12 87 9-21 11 11 6-277 10-23 9-38 15 335 9-44 8-225 13 259 10-90 8-197 13 235 10-5 10-8 10-122 11 63 12 216 11 98 9-261 9-172 12 232 10-214 11 176 10-174 12 315 10-352 11 272 11 11 11-29 11-78 11 2 11 24 11-143 11 408 11-72 11-263 11-19 12-9 11 51 10 316 13-411 11 57 10 221 13-339 10 290 13-220 12-64 9 353 10 120 13-86 11-12 12-19 14-227 10 127 14-151 8 352 15-266 11 51 9 226 12-12 11 30 18-373-19 1245-997-318z"/>
<path fill="url(#s273_14)" d="M3370 2773l8-3 10 19 5-107 7-91 5-128 7-67 3-220 15 193 6-89 7-89 18 317 9-7 5-181 6-102 10 25 7-104 20 420 5-198 11 80 4-217 8-68 19 373 7-110 5-171 16 295 7-151 10 39 15 244 4-300 8-83 10 32 14 196 8-90 10 35 10 11 10-13 7-204 9-68 12 117 8-85 10-72 14 286 8-144 10 7 9-144 12 204 10-43 11 26 8-181 12 124 12 182 12 145 7-362 13 257 9-101 11 32 12 243 9-245 9-233 13 329 9-298 11 66 11 39 11-99 11 244 11-242 10-31 12 61 11-55 11-22 11 339 11 325 11-100 11-178 11-90 11 91 12-275 12-98 10 258 11 56 12-198 12-68 11 33 10 269 13-172 11 15 12 18 10 172 14-226 10 164 10 116 14-219 12-12 12-42 8 333 16-273 10 101 10 127 13-57 13-49-15 1028-998-320z"/>
<path fill="url(#s273_13)" d="M3352 2589l7-71 17 270 4-180 15 188-5-441 13 114 1-269 6-98 13 99 17 302 9-36 5-135 11 73 12 101 8-82 9-18 12 116 6-146 13 174 1-381 12 114 13 170 11 37 10 44 9-60 2-339 18 379 9-28 7-137 14 218 4-291 15 302 4-339 9-64 10-15 13 194 13 171 7-149 12 108 8-113 11 41 9-92 10-14 11 89 12 85 8-165 11 108 11 62 10-28 9-138 9-104 12 112 11 82 9-212 13 336 11 35 10-27 11-19 10-49 9-239 12 241 10-215 12 168 11 136 10-241 11 227 11-69 11-144 11-59 11 62 11 136 11 436 11-236 11-161 11 33 11 53 12-217 11 22 12-121 11 67 11 144 12-277 10 278 12 72 13-291 11 115 11-17 13-146 12 34 9 300 11 66 11 27 13-133 9 271 14-218 13-53 8 327 17-437 13-46 6 406-11 815-999-321z"/>
<path fill="url(#s273_12)" d="M3339 2539l14 150 6-107 11 82 12 83 1-250 3-218 8-21 7-91 20 377 3-219 3-212 21 431-1-396 20 407 1-311 10 10 9-10 16 252 5-196 13 164 4-249 11 77 12 92 9-38 11 74 5-201 15 256 5-236 9-65 12 106 14 240 8-123 10 28 12 87 10 53 6-259 10 26 14 204 9-35 10 7 5-319 10-2 12 107 16 386 6-284 17 515 5-416 10 0 7-304 14 351 11 13 7-279 10-87 14 341 7-342 11 51 11 80 13 228 9-259 11 74 10-148 13 385 11 37 10 34 11 37 10-213 12 343 10-209 11-110 11-54 11-154 11 22 11-120 11 190 11 189 11 7 12-58 11-211 11 29 12-140 11 80 11 233 12-231 12 97 12-170 10 347 11-13 11 69 12-45 15-349 7 489 14-232 12-44 10 235 9 221 14-238 9 249 15-235 14-123 5 515-7 522-1000-323z"/>
<path fill="url(#s273_11)" d="M3325 2463l20 333 7-52 8-30 4-156 7-82 9 13 8-61 12 105 8-24 10 3 2-248 8-49 12 94 4-182 11 39 14 174 12 109 5-159 13 128 5-168 16 248 2-299 19 398 6-168 12 83 7-90 7-111 15 237 3-314 9-37 15 243 9-53 14 192 3-314 11 41 14 225 8-140 12 153 11 21 6-223 9-50 14 242 7-238 12 101 12 168 9-83 7-261 13 213 10 7 11 33 9-181 13 278 10-63 10 19 9-221 12 216 10-122 12 152 11 61 9-177 12 161 11 1 9-210 12 164 12 262 11 112 9-421 12 271 10-180 11-41 11 26 11 12 11-71 11 67 11-360 11 381 11-12 12-266 11 276 12-388 11 247 11 84 12-211 11 208 11 58 13-247 12-65 10 248 12-10 12-128 13-132 12 59 10 122 10 281 12-64 11 46 14-160 8 309 14-189 8 331-7 593-1001-324z"/>
<path fill="url(#s273_10)" d="M3320 2668l9-23 7-56 6-96 18 308 1-275 1-257 18 302 9-21-4-438 20 352 6-81 7-96 18 300 6-117 6-120 13 127 9-23 6-112 7-82 15 201 13 150 6-147 9-12 9-56 8-47 14 156 6-156 13 170 11 71 3-350 12 98 13 178 12 110 3-334 16 307 4-317 12 122 10-30 11 53 8-102 8-122 10-44 13 158 8-155 11 49 15 328 7-195 12 124 12 92 9-39 11 48 10-45 8-218 12 141 11 36 8-250 13 201 9-135 11 12 12 136 11 96 12 121 9-215 11-54 13 531 10-121 9-370 11-232 11 213 12 72 11 6 11 112 11-195 11 191 11 8 11-253 11 260 12-305 11 285 11-112 12 24 11-28 11 82 12-73 11 49 12 33 11 57 11 157 11 32 15-438 9 280 12-14 12-52 14-248 12-22 13-15 12-24 6 524 14-199 11 134-11 862-1001-325z"/>
<path fill="url(#s273_9)" d="M3312 2764l8-23 3-196 6-66-2-352 29 609 5-136 8-10 6-101 5-152 4-164 19 308 5-130 13 109 14 168 7-70 1-321 7-70 20 401 3-247 17 264 7-87 1-335 20 416 10 21 1-370 14 169 8-63 14 198 6-147 8-112 17 340 1-398 14 203 15 212 7-124 11 67 5-252 10-18 10-4 14 211 4-352 15 291 10-13 10-25 8-116 9-129 12 108 11 57 13 197 10 13 8-224 10-78 13 226 11 106 9-136 11-12 10-56 10-87 10 1 11 3 14 324 9-224 11 30 12 324 11-38 10-48 10-250 12 112 10-47 12 63 10-313 12 362 11-48 10-254 12-32 11 257 11 107 12-205 11-122 11 218 12-275 11 364 11 29 13-388 11 192 11 131 11 92 12-77 11 137 10 229 14-314 13-203 12 12 12-32 9 304 11 62 13-129 11 96 12-18 13-77-11 974-1002-326z"/>
<path fill="url(#s273_8)" d="M3301 2790l9-1 8-33 7-58 12 91 4-163 3-180 11 52 1-253 15 200 0-330 28 619 4-162 12 95 8-36-4-465 21 410-1-401 15 229 15 185 6-119 9-18 10 5 9 5 14 166 10 17 6-176 11 63 6-139 14 172 9-13 9-40 5-247 15 239 7-113 11 48 10 20 11 48 11 63 5-310 14 233 8-109 11 28 12 141 5-358 11 61 14 227 9-93 8-135 14 224 10 27 9-147 13 172 10 4 12 154 10-61 10 1 11 4 10-27 8-344 14 345 10-1 8-372 11 67 15 606 11-63 11 53 10-70 10-195 9-364 11-6 12 97 12 251 10-395 12 384 11 36 11-263 11 262 11-288 12-110 11 338 12-345 11 295 11 18 12-238 12-68 11 329 13-325 11 56 11 260 11-9 12-39 14-259 11 69 9 420 12-9 12-32 12 0 11 91 13-90 15-259-14 1178-1002-328z"/>
<path fill="url(#s273_7)" d="M3284 2635l6-84 7-74 17 230 8-17 7-67 13 113 4-130 10 21 8-39 2-252 13 127 9-8 17 254 4-155 3-240 15 196 11 77 0-353 7-85 11 44 9-29 9-30 20 411 3-258 19 376 5-184 12 89 10-3 1-349 15 220 14 208 2-367 15 244 13 144 9-55 3-356 13 173 10-15 10 27 14 172 10 31 9-78 6-234 15 251 7-175 12 149 7-223 15 268 8-166 6-256 15 290 11 42 7-250 12 95 9-143 14 362 7-343 13 215 9-166 11 34 11 0 14 312 8-298 14 446 10-160 10-139 13 305 8-520 10-33 13 344 11 57 11-118 11 1 11-15 11-123 11-4 12 121 11 2 12-219 11 344 12-380 11 64 11 359 12-362 11 347 11 12 14-415 11 2 11 247 13-187 10 175 12 24 13-180 10 282 11 100 13-147 11 128 11 96 13-98 13-122-11 1060-1004-329z"/>
<path fill="url(#s273_6)" d="M3274 2664l10 50 5-111 16 206 10 9 7-63 5-115 4-152 17 262 0-285 17 218 10 30 7-61 1-271 8-34 10 16 21 395 5-144 1-293 6-147 11 43 19 347 4-208 6-122 27 671 4-217 9-18 2-299 11 16 11 78 12 67 9-29 6-167 17 348 4-262 16 275 9-34 10-1 8-111 6-228 16 326 9-20 10-22 6-245 10-14 12 130 8-192 13 216 10-16 11 34 7-253 12 89 14 268 8-198 10 14 8-211 12 94 14 283 12 129 9-127 7-382 11 60 11-85 14 430 12 153 7-496 13 293 10-186 11 47 10-115 13 318 11-30 10-226 12 257 11-116 11-129 11-71 12 167 11-25 11 189 12-291 11 178 11 53 12 65 12-205 12-165 11-12 11 393 11-28 14-335 11 97 12-45 11 197 11 2 11 209 12-65 15-363 9 364 15-300 11 88 10 209-10 921-1004-331z"/>
<path fill="url(#s273_5)" d="M3267 2802l-1-285 12 96 8-27 17 233-5-414 19 296 3-190 8-12 17 216 12 106-3-396 16 224 0-295 15 166 10 18 6-115 2-225 10-16 15 222 14 159 1-330 16 225 15 231 1-335 6-142 9-35 17 279 14 194 0-396 9-38 12 62 14 204 12 90 12 108 11 37 5-224 14 169 10 1 10 16 7-130 12 84 10-2 8-135 11 76 11 44 6-260 9-75 11 61 13 160 9-139 11 49 9-128 12 137 12 79 7-248 13 182 13 225 7-289 14 294 6-436 11-27 15 391 12 229 6-615 13 324 12 153 10-120 11-45 11 61 11 1 11-178 10-151 13 409 11-5 11-89 10-330 13 441 10-245 12 60 11 136 12 49 11-439 12 66 11 129 11 216 13-200 11 124 12-79 12-243 12 153 12-56 10 375 12-151 12 82 13-231 13-137 12 80 10 182 13-60 10 200-9 946-1005-332z"/>
<path fill="url(#s273_4)" d="M3251 2683l5-112 6-71 19 275 10 43 9-12-3-336 13 101 5-118 17 234 11 70 1-274 1-256 9 3 21 357 4-162 10 25 1-315 26 590 2-282 10 38 4-201 21 408 9-6 6-145 6-120 10-24 14 188 13 145 8-94 5-198 5-195 24 601 3-272 10 2 16 249 1-368 5-247 19 438 6-209 9-63 10-10 15 272 8-139 13 165 9-59 8-158 8-110 14 227 14 194 8-135 7-202 10-57 8-136 13 125 12 90 13 244 11-3 10 0 10-87 11 82 10-115 9-194 12 188 10-96 12 70 10-130 10-81 12 59 13 340 10-79 9-406 11 2 12 10 11-4 12 112 11 132 12 27 11-275 12 331 11-2 11 139 12-221 11 163 12 18 11 19 12-37 12-221 11 299 12-208 12-79 12 12 11 174 12-99 14-258 10 350 12-50 10 210 12 74 12-27 15-366-11 1185-1006-333z"/>
<path fill="url(#s273_3)" d="M3243 2808l9-21 6-70 10 35 3-158 7-74 14 136 13 116 11 63-9-527 27 536 10 0-1-308 4-155 5-134 20 323 0-312 24 488-8-586 17 271 15 164 11 68 4-193 15 204-2-444 11 58 20 385 0-358 18 325 13 105 4-212 3-292 26 694 0-417 14 182 12 98 11 47 8-104-2-557 19 445 2-395 15 205 15 264 6-221 6-234 16 316 9-64 12 81 13 160 12 104-1-650 18 477 9-99 12 92 10-28 9-126 12 114 9-129 11 8 7-285 11-15 12 101 14 345 8-327 14 345 10-20 11 20 11 8 9-300 12 208 11-139 10-135 13 335 11 37 9-453 12 25 13 393 11-32 11-107 11-47 11-102 12 63 11-179 12 478 11-105 12 91 11-50 13-284 10 398 13-292 12-158 11 402 12-94 11 89 13-179 11 157 12 22 14-376 10 345 11 108 16-416-12 1266-1006-335z"/>
<path fill="url(#s273_2)" d="M3230 2755l11 63 6-76 9-2 0-253 19 299-10-558 23 409 15 165 7-70 5-101 16 205 7-66 8-65 6-86 7-67 3-224 17 249-2-377 26 563-8-592 21 378 10 13 10 24 4-191 17 254 13 119-3-456 6-140 19 335 16 233-1-399 18 335 2-360 18 369 0-445 17 291 13 180 2-383 19 414 9-59 9-53 1-437 20 501 5-268 13 159 12 62 13 195 8-139 10-29 10-18 3-441 14 169 14 234 11 61 11 1 10 15 10-52 9-99 12 94 10-104 7-293 13 210 13 215 11-7 10-129 11 76 11 12 8-364 12 118 11-55 11-15 12 148 11-160 12 176 12 302 9-533 13 366 12 119 11 61 12 54 10-352 12 453 12-99 11-6 12-226 11-80 12-147 11 253 13-247 11 131 12-43 13-126 10 300 14-287 9 418 14-286 13-140 9 429 13-132 14-214-10 1217-1007-336z"/>
<path fill="url(#s273_1)" d="M3208 2512l15 160 8-42 6-67 19 265-8-458 18 224 17 234 3-178 15 189 1-245 15 158 10 17 10 50 9-28-3-358 16 180-2-335 13 92 5-156 19 326 14 155 7-106 13 148-6-574 23 496-2-423 21 412 12 77-3-474 12 82 22 470 15 224 2-319 9-43 4-265 7-100 14 141 5-191 18 325 12 114 6-210 8-74 8-151 9-30 12 71 16 296 13 142 11 54 6-253 11 55 7-193 11 33 15 285 10-66 11 14 9-99 11 22 12 127 10-71 6-342 14 287 12 128 9-197 11 14 8-261 14 321 11-33 9-268 13 250 11-14 11 56 12 108 9-385 13 257 12 153 9-478 12 233 11-229 12 368 12 308 12 8 11-171 11-80 11-263 12 245 12-84 12-210 12-95 11 303 12-307 11 521 12-217 11 220 13-214 12 6 11 215 15-467 11 154 13-201 11 284-9 1093-1008-338z"/>
<path fill="url(#s273_0)" d="M3208 2808l1-196 4-126 9-4 10 26 14 129 7-59 6-84 20 298 2-193 8-42 19 276 2-203-2-332 19 304 18 250 9-7 9-23 9 4 8-30 17 243-8-594 17 263 0-341 7-68 16 213 18 308 7-115 22 452-2-436-1-402 21 432 12 79-5-582 13 123 8-61 28 741 3-272-2-539 21 495 8-118 2-338 19 393 3-331 16 281 9-74 14 184 10 10 11 11 5-253 9-92 12 55 6-266 17 400 12 137 11-3 5-338 12 41 11 68 9-155 13 175 13 176 5-448 14 263 10-76 10-71 15 359 10-61 11-46 13 271 9-315 8-340 15 532 11-44 10-158 14 567 9-524 11-43 12 182 9-474 13 420 11-93 12-154 11 45 12 331 12 5 11-376 12-67 11 364 12 41 12-62 11 24 13-396 11 453 13-434 13-24 9 469 13-82 12 26 13-182 11 101-7 981-1008-339z"/>
</g></g>
<rect x="514.9" y="204.5" width="10.8" height="119.5" fill="url(#cbg)"/>
<line x1="525.7" y1="204.5" x2="527.2" y2="204.5" stroke="#666" stroke-width="0.5"/>
<text x="528.5" y="206.1" font-size="4.6" fill="#222">1200</text>
<line x1="525.7" y1="216.4" x2="527.2" y2="216.4" stroke="#666" stroke-width="0.5"/>
<text x="528.5" y="218.0" font-size="4.6" fill="#222">1120</text>
<line x1="525.7" y1="228.4" x2="527.2" y2="228.4" stroke="#666" stroke-width="0.5"/>
<text x="528.5" y="230.0" font-size="4.6" fill="#222">1040</text>
<line x1="525.7" y1="240.3" x2="527.2" y2="240.3" stroke="#666" stroke-width="0.5"/>
<text x="528.5" y="241.9" font-size="4.6" fill="#222">960.0</text>
<line x1="525.7" y1="252.3" x2="527.2" y2="252.3" stroke="#666" stroke-width="0.5"/>
<text x="528.5" y="253.9" font-size="4.6" fill="#222">880.0</text>
<line x1="525.7" y1="264.2" x2="527.2" y2="264.2" stroke="#666" stroke-width="0.5"/>
<text x="528.5" y="265.9" font-size="4.6" fill="#222">800.0</text>
<line x1="525.7" y1="276.2" x2="527.2" y2="276.2" stroke="#666" stroke-width="0.5"/>
<text x="528.5" y="277.8" font-size="4.6" fill="#222">720.0</text>
<line x1="525.7" y1="288.1" x2="527.2" y2="288.1" stroke="#666" stroke-width="0.5"/>
<text x="528.5" y="289.8" font-size="4.6" fill="#222">640.0</text>
<line x1="525.7" y1="300.1" x2="527.2" y2="300.1" stroke="#666" stroke-width="0.5"/>
<text x="528.5" y="301.7" font-size="4.6" fill="#222">560.0</text>
<line x1="525.7" y1="312.1" x2="527.2" y2="312.1" stroke="#666" stroke-width="0.5"/>
<text x="528.5" y="313.7" font-size="4.6" fill="#222">480.0</text>
<line x1="525.7" y1="324.0" x2="527.2" y2="324.0" stroke="#666" stroke-width="0.5"/>
<text x="528.5" y="325.6" font-size="4.6" fill="#222">400.0</text>
<text x="520.5" y="200.0" text-anchor="middle" font-size="7.85" fill="#222">Temperature</text>
<text x="336.0" y="363.1" text-anchor="middle" font-size="11.7" fill="#151515" stroke="#151515" stroke-width="0.4">1000</text>
<text x="364.6" y="372.9" text-anchor="middle" font-size="11.7" fill="#151515" stroke="#151515" stroke-width="0.4">2000</text>
<text x="396.8" y="385.0" text-anchor="middle" font-size="11.7" fill="#151515" stroke="#151515" stroke-width="0.4">3000</text>
<text x="431.6" y="385.0" text-anchor="middle" font-size="11.7" fill="#151515" stroke="#151515" stroke-width="0.4">0</text>
<text x="473.4" y="368.1" text-anchor="middle" font-size="11.7" fill="#151515" stroke="#151515" stroke-width="0.4">2000</text>
<text x="511.0" y="345.8" text-anchor="middle" font-size="11.7" fill="#151515" stroke="#151515" stroke-width="0.4">4000</text>
<text x="335.8" y="382.2" text-anchor="middle" font-family='"Liberation Sans", sans-serif' font-size="10.2" letter-spacing="0.4" fill="#1a1a1a" stroke="#1a1a1a" stroke-width="0.2">x axis (μm)</text>
<text transform="translate(502.5,372.5) rotate(-30)" text-anchor="middle" font-family='"Liberation Sans", sans-serif' font-size="10.2" letter-spacing="0.4" fill="#1a1a1a" stroke="#1a1a1a" stroke-width="0.2">y axis (μm)</text>
<text x="364.7" y="409.0" font-size="9.75" fill="#222">Acetylene black (<tspan font-style="italic">H</tspan><tspan font-size="6.2" font-style="italic" dy="1.9">max</tspan><tspan dy="-1.9">, 900 °C)</tspan></text>
</svg>
</body></html>
